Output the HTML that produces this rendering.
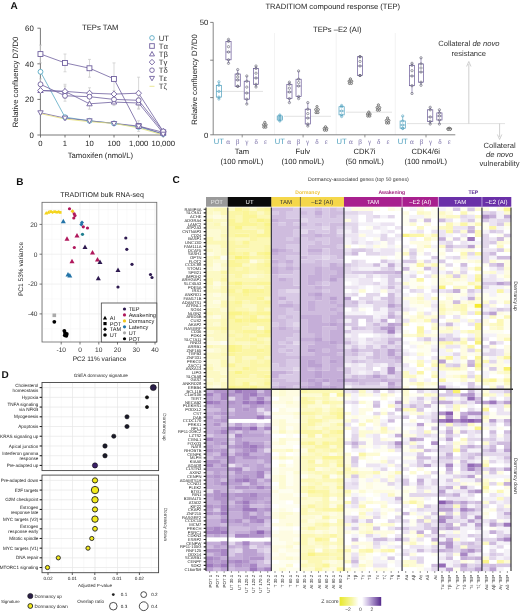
<!DOCTYPE html>
<html><head><meta charset="utf-8"><title>Figure</title>
<style>html,body{margin:0;padding:0;background:#fff;width:520px;height:613px;overflow:hidden}svg{display:block;filter:blur(0.35px)}text{font-family:"Liberation Sans",Arial,sans-serif;text-rendering:geometricPrecision}</style>
</head><body>
<svg width="520" height="613" viewBox="0 0 520 613" font-family='"Liberation Sans", Arial, sans-serif'>
<rect width="520" height="613" fill="#fff"/>
<text x="10.60" y="9.20" font-size="10" text-anchor="start" fill="#111" font-weight="bold">A</text>
<text x="100.25" y="30.40" font-size="7.7" text-anchor="middle" fill="#222">TEPs TAM</text>
<path d="M40.4 28.2V135.0H163.3" stroke="#555" stroke-width="0.8" fill="none"/>
<path d="M37.4 135.0H40.4" stroke="#555" stroke-width="0.8"/>
<text x="33.80" y="137.80" font-size="7.8" text-anchor="end" fill="#222">0</text>
<path d="M37.4 99.4H40.4" stroke="#555" stroke-width="0.8"/>
<text x="33.80" y="102.20" font-size="7.8" text-anchor="end" fill="#222">20</text>
<path d="M37.4 63.8H40.4" stroke="#555" stroke-width="0.8"/>
<text x="33.80" y="66.60" font-size="7.8" text-anchor="end" fill="#222">40</text>
<path d="M37.4 28.2H40.4" stroke="#555" stroke-width="0.8"/>
<text x="33.80" y="31.00" font-size="7.8" text-anchor="end" fill="#222">60</text>
<path d="M40.5 135.0V137.5" stroke="#555" stroke-width="0.8"/>
<text x="40.50" y="146.30" font-size="7.7" text-anchor="middle" fill="#222">0</text>
<path d="M65.0 135.0V137.5" stroke="#555" stroke-width="0.8"/>
<text x="65.00" y="146.30" font-size="7.7" text-anchor="middle" fill="#222">1</text>
<path d="M89.5 135.0V137.5" stroke="#555" stroke-width="0.8"/>
<text x="89.50" y="146.30" font-size="7.7" text-anchor="middle" fill="#222">10</text>
<path d="M114.0 135.0V137.5" stroke="#555" stroke-width="0.8"/>
<text x="114.00" y="146.30" font-size="7.7" text-anchor="middle" fill="#222">100</text>
<path d="M138.6 135.0V137.5" stroke="#555" stroke-width="0.8"/>
<text x="138.60" y="146.30" font-size="7.7" text-anchor="middle" fill="#222">1,000</text>
<path d="M163.2 135.0V137.5" stroke="#555" stroke-width="0.8"/>
<text x="163.20" y="146.30" font-size="7.7" text-anchor="middle" fill="#222">10,000</text>
<text x="100.35" y="157.80" font-size="7.7" text-anchor="middle" fill="#222">Tamoxifen (nmol/L)</text>
<text transform="translate(18.3 82) rotate(-90)" font-size="7.7" text-anchor="middle" fill="#222">Relative confluency D7/D0</text>
<path d="M40.5 45.1V62.9M39.0 45.1H42.0M39.0 62.9H42.0" stroke="#c8c8c8" stroke-width="0.7" fill="none"/>
<path d="M65.0 54.0V71.8M63.5 54.0H66.5M63.5 71.8H66.5" stroke="#c8c8c8" stroke-width="0.7" fill="none"/>
<path d="M89.5 59.4V77.2M88.0 59.4H91.0M88.0 77.2H91.0" stroke="#c8c8c8" stroke-width="0.7" fill="none"/>
<path d="M114.0 62.9V95.0M112.5 62.9H115.5M112.5 95.0H115.5" stroke="#c8c8c8" stroke-width="0.7" fill="none"/>
<path d="M138.6 120.8V131.4M137.1 120.8H140.1M137.1 131.4H140.1" stroke="#c8c8c8" stroke-width="0.7" fill="none"/>
<path d="M65.0 84.3V98.5M63.5 84.3H66.5M63.5 98.5H66.5" stroke="#c8c8c8" stroke-width="0.7" fill="none"/>
<path d="M89.5 98.5V109.2M88.0 98.5H91.0M88.0 109.2H91.0" stroke="#c8c8c8" stroke-width="0.7" fill="none"/>
<path d="M114.0 98.5V105.6M112.5 98.5H115.5M112.5 105.6H115.5" stroke="#c8c8c8" stroke-width="0.7" fill="none"/>
<path d="M138.6 97.6V108.3M137.1 97.6H140.1M137.1 108.3H140.1" stroke="#c8c8c8" stroke-width="0.7" fill="none"/>
<path d="M65.0 86.0V96.7M63.5 86.0H66.5M63.5 96.7H66.5" stroke="#c8c8c8" stroke-width="0.7" fill="none"/>
<path d="M89.5 87.8V98.5M88.0 87.8H91.0M88.0 98.5H91.0" stroke="#c8c8c8" stroke-width="0.7" fill="none"/>
<path d="M114.0 90.5V97.6M112.5 90.5H115.5M112.5 97.6H115.5" stroke="#c8c8c8" stroke-width="0.7" fill="none"/>
<path d="M138.6 77.2V109.2M137.1 77.2H140.1M137.1 109.2H140.1" stroke="#c8c8c8" stroke-width="0.7" fill="none"/>
<path d="M40.5 78.9V89.6M39.0 78.9H42.0M39.0 89.6H42.0" stroke="#c8c8c8" stroke-width="0.7" fill="none"/>
<path d="M65.0 90.5V101.2M63.5 90.5H66.5M63.5 101.2H66.5" stroke="#c8c8c8" stroke-width="0.7" fill="none"/>
<path d="M89.5 91.4V102.1M88.0 91.4H91.0M88.0 102.1H91.0" stroke="#c8c8c8" stroke-width="0.7" fill="none"/>
<path d="M114.0 95.8V103.0M112.5 95.8H115.5M112.5 103.0H115.5" stroke="#c8c8c8" stroke-width="0.7" fill="none"/>
<path d="M138.6 94.9V105.6M137.1 94.9H140.1M137.1 105.6H140.1" stroke="#c8c8c8" stroke-width="0.7" fill="none"/>
<path d="M40.5 111.0V114.5M39.0 111.0H42.0M39.0 114.5H42.0" stroke="#c8c8c8" stroke-width="0.7" fill="none"/>
<path d="M65.0 116.3V119.9M63.5 116.3H66.5M63.5 119.9H66.5" stroke="#c8c8c8" stroke-width="0.7" fill="none"/>
<path d="M89.5 119.0V122.5M88.0 119.0H91.0M88.0 122.5H91.0" stroke="#c8c8c8" stroke-width="0.7" fill="none"/>
<path d="M114.0 121.7V125.2M112.5 121.7H115.5M112.5 125.2H115.5" stroke="#c8c8c8" stroke-width="0.7" fill="none"/>
<path d="M138.6 124.3V127.9M137.1 124.3H140.1M137.1 127.9H140.1" stroke="#c8c8c8" stroke-width="0.7" fill="none"/>
<polyline points="40.5,71.8 65.0,117.2 89.5,120.8 114.0,123.4 138.6,127.0 163.2,134.1" stroke="#5aa9c4" stroke-width="0.8" fill="none"/>
<polyline points="40.5,54.0 65.0,62.9 89.5,68.2 114.0,78.9 138.6,126.1 163.2,132.3" stroke="#6f5f9e" stroke-width="0.8" fill="none"/>
<polyline points="40.5,90.5 65.0,91.4 89.5,103.8 114.0,102.1 138.6,103.0 163.2,133.2" stroke="#6f5f9e" stroke-width="0.8" fill="none"/>
<polyline points="40.5,90.5 65.0,91.4 89.5,93.2 114.0,94.1 138.6,93.2 163.2,131.4" stroke="#6f5f9e" stroke-width="0.8" fill="none"/>
<polyline points="40.5,84.3 65.0,95.8 89.5,96.7 114.0,99.4 138.6,100.3 163.2,131.4" stroke="#6f5f9e" stroke-width="0.8" fill="none"/>
<polyline points="40.5,112.8 65.0,118.1 89.5,120.8 114.0,123.4 138.6,126.1 163.2,134.1" stroke="#6f5f9e" stroke-width="0.8" fill="none"/>
<polyline points="40.5,113.6 65.0,119.0 89.5,121.7 114.0,123.4 138.6,127.9 163.2,135.0" stroke="#e4df7a" stroke-width="0.8" fill="none"/>
<circle cx="40.5" cy="71.8" r="2.45" fill="#fff" stroke="#5aa9c4" stroke-width="0.9"/>
<circle cx="65.0" cy="117.2" r="2.45" fill="#fff" stroke="#5aa9c4" stroke-width="0.9"/>
<circle cx="89.5" cy="120.8" r="2.45" fill="#fff" stroke="#5aa9c4" stroke-width="0.9"/>
<circle cx="114.0" cy="123.4" r="2.45" fill="#fff" stroke="#5aa9c4" stroke-width="0.9"/>
<circle cx="138.6" cy="127.0" r="2.45" fill="#fff" stroke="#5aa9c4" stroke-width="0.9"/>
<circle cx="163.2" cy="134.1" r="2.45" fill="#fff" stroke="#5aa9c4" stroke-width="0.9"/>
<rect x="38.0" y="51.6" width="4.9" height="4.9" fill="#fff" stroke="#6f5f9e" stroke-width="0.9"/>
<rect x="62.5" y="60.5" width="4.9" height="4.9" fill="#fff" stroke="#6f5f9e" stroke-width="0.9"/>
<rect x="87.0" y="65.8" width="4.9" height="4.9" fill="#fff" stroke="#6f5f9e" stroke-width="0.9"/>
<rect x="111.5" y="76.5" width="4.9" height="4.9" fill="#fff" stroke="#6f5f9e" stroke-width="0.9"/>
<rect x="136.2" y="123.6" width="4.9" height="4.9" fill="#fff" stroke="#6f5f9e" stroke-width="0.9"/>
<rect x="160.8" y="129.9" width="4.9" height="4.9" fill="#fff" stroke="#6f5f9e" stroke-width="0.9"/>
<path d="M40.5 87.8L43.2 92.5H37.8Z" fill="#fff" stroke="#6f5f9e" stroke-width="0.9"/>
<path d="M65.0 88.7L67.7 93.3H62.3Z" fill="#fff" stroke="#6f5f9e" stroke-width="0.9"/>
<path d="M89.5 101.2L92.2 105.8H86.8Z" fill="#fff" stroke="#6f5f9e" stroke-width="0.9"/>
<path d="M114.0 99.4L116.7 104.0H111.3Z" fill="#fff" stroke="#6f5f9e" stroke-width="0.9"/>
<path d="M138.6 100.3L141.3 104.9H135.9Z" fill="#fff" stroke="#6f5f9e" stroke-width="0.9"/>
<path d="M163.2 130.5L165.9 135.2H160.5Z" fill="#fff" stroke="#6f5f9e" stroke-width="0.9"/>
<path d="M40.5 87.6L43.4 90.5L40.5 93.4L37.6 90.5Z" fill="#fff" stroke="#6f5f9e" stroke-width="0.9"/>
<path d="M65.0 88.5L67.9 91.4L65.0 94.3L62.1 91.4Z" fill="#fff" stroke="#6f5f9e" stroke-width="0.9"/>
<path d="M89.5 90.2L92.4 93.2L89.5 96.1L86.6 93.2Z" fill="#fff" stroke="#6f5f9e" stroke-width="0.9"/>
<path d="M114.0 91.1L116.9 94.1L114.0 97.0L111.1 94.1Z" fill="#fff" stroke="#6f5f9e" stroke-width="0.9"/>
<path d="M138.6 90.2L141.5 93.2L138.6 96.1L135.7 93.2Z" fill="#fff" stroke="#6f5f9e" stroke-width="0.9"/>
<path d="M163.2 128.5L166.1 131.4L163.2 134.4L160.3 131.4Z" fill="#fff" stroke="#6f5f9e" stroke-width="0.9"/>
<circle cx="40.5" cy="84.3" r="2.45" fill="#fff" stroke="#6f5f9e" stroke-width="0.9"/>
<circle cx="65.0" cy="95.8" r="2.45" fill="#fff" stroke="#6f5f9e" stroke-width="0.9"/>
<circle cx="89.5" cy="96.7" r="2.45" fill="#fff" stroke="#6f5f9e" stroke-width="0.9"/>
<circle cx="114.0" cy="99.4" r="2.45" fill="#fff" stroke="#6f5f9e" stroke-width="0.9"/>
<circle cx="138.6" cy="100.3" r="2.45" fill="#fff" stroke="#6f5f9e" stroke-width="0.9"/>
<circle cx="163.2" cy="131.4" r="2.45" fill="#fff" stroke="#6f5f9e" stroke-width="0.9"/>
<path d="M40.5 115.4L43.2 110.8H37.8Z" fill="#fff" stroke="#6f5f9e" stroke-width="0.9"/>
<path d="M65.0 120.8L67.7 116.1H62.3Z" fill="#fff" stroke="#6f5f9e" stroke-width="0.9"/>
<path d="M89.5 123.5L92.2 118.8H86.8Z" fill="#fff" stroke="#6f5f9e" stroke-width="0.9"/>
<path d="M114.0 126.1L116.7 121.5H111.3Z" fill="#fff" stroke="#6f5f9e" stroke-width="0.9"/>
<path d="M138.6 128.8L141.3 124.1H135.9Z" fill="#fff" stroke="#6f5f9e" stroke-width="0.9"/>
<path d="M163.2 136.8L165.9 132.2H160.5Z" fill="#fff" stroke="#6f5f9e" stroke-width="0.9"/>






<circle cx="152.0" cy="37.9" r="2.3" fill="#fff" stroke="#5aa9c4" stroke-width="0.9"/>
<text x="158.80" y="40.70" font-size="7.7" text-anchor="start" fill="#333">UT</text>
<rect x="149.7" y="43.7" width="4.6" height="4.6" fill="#fff" stroke="#6f5f9e" stroke-width="0.9"/>
<text x="158.80" y="48.77" font-size="7.7" text-anchor="start" fill="#333">Tα</text>
<path d="M152.0 51.5L154.5 55.9H149.5Z" fill="#fff" stroke="#6f5f9e" stroke-width="0.9"/>
<text x="158.80" y="56.84" font-size="7.7" text-anchor="start" fill="#333">Tβ</text>
<path d="M152.0 59.4L154.8 62.1L152.0 64.9L149.2 62.1Z" fill="#fff" stroke="#6f5f9e" stroke-width="0.9"/>
<text x="158.80" y="64.91" font-size="7.7" text-anchor="start" fill="#333">Tγ</text>
<circle cx="152.0" cy="70.2" r="2.3" fill="#fff" stroke="#6f5f9e" stroke-width="0.9"/>
<text x="158.80" y="72.98" font-size="7.7" text-anchor="start" fill="#333">Tδ</text>
<path d="M152.0 80.8L154.5 76.4H149.5Z" fill="#fff" stroke="#6f5f9e" stroke-width="0.9"/>
<text x="158.80" y="81.05" font-size="7.7" text-anchor="start" fill="#333">Tε</text>
<path d="M149.5 86.3H154.5" stroke="#e4df7a" stroke-width="0.8"/>
<text x="158.80" y="89.12" font-size="7.7" text-anchor="start" fill="#333">Tζ</text>
<text x="332.80" y="8.90" font-size="7.6" text-anchor="middle" fill="#222">TRADITIOM compound response (TEP)</text>
<text x="337.30" y="31.90" font-size="7.6" text-anchor="middle" fill="#222">TEPs –E2 (AI)</text>
<path d="M274.5 33V134.8" stroke="#eeeeee" stroke-width="0.7"/>
<path d="M336.2 33V134.8" stroke="#eeeeee" stroke-width="0.7"/>
<path d="M395.3 33V134.8" stroke="#eeeeee" stroke-width="0.7"/>
<path d="M213.2 22.4V134.8H455.3" stroke="#666" stroke-width="0.8" fill="none"/>
<path d="M210.2 22.4H213.2" stroke="#666" stroke-width="0.8"/>
<path d="M210.2 60.2H213.2" stroke="#666" stroke-width="0.8"/>
<path d="M210.2 97.6H213.2" stroke="#666" stroke-width="0.8"/>
<path d="M210.2 134.8H213.2" stroke="#666" stroke-width="0.8"/>
<text x="208.30" y="25.40" font-size="7.7" text-anchor="end" fill="#222">50</text>
<text x="208.30" y="137.80" font-size="7.7" text-anchor="end" fill="#222">0</text>
<text transform="translate(197.2 79.5) rotate(-90)" font-size="7.7" text-anchor="middle" fill="#222">Relative confluency D7/D0</text>
<path d="M222 91.4H263" stroke="#d6d6d6" stroke-width="0.7"/>
<path d="M284 116.3H331" stroke="#d6d6d6" stroke-width="0.7"/>
<path d="M346 112.2H392" stroke="#d6d6d6" stroke-width="0.7"/>
<path d="M407 123.6H505" stroke="#d6d6d6" stroke-width="0.7"/>
<path d="M218.9 81.8V85.3M218.9 97.1V99.0" stroke="#4d9fbd" stroke-width="0.6"/>
<rect x="216.3" y="85.3" width="5.2" height="11.8" fill="#fff" stroke="#4d9fbd" stroke-width="0.7"/>
<path d="M216.3 91.4H221.5" stroke="#4d9fbd" stroke-width="0.6"/>
<circle cx="218.9" cy="81.8" r="1.15" fill="none" stroke="#4d9fbd" stroke-width="0.6"/>
<circle cx="218.9" cy="85.3" r="1.15" fill="none" stroke="#4d9fbd" stroke-width="0.6"/>
<circle cx="218.9" cy="91.4" r="1.15" fill="none" stroke="#4d9fbd" stroke-width="0.6"/>
<circle cx="218.9" cy="97.1" r="1.15" fill="none" stroke="#4d9fbd" stroke-width="0.6"/>
<circle cx="218.9" cy="99.0" r="1.15" fill="none" stroke="#4d9fbd" stroke-width="0.6"/>
<path d="M228.5 39.4V41.4M228.5 59.8V63.3" stroke="#6a5a98" stroke-width="0.6"/>
<rect x="225.9" y="41.4" width="5.2" height="18.4" fill="#fff" stroke="#6a5a98" stroke-width="0.7"/>
<path d="M225.9 52H231.1" stroke="#6a5a98" stroke-width="0.6"/>
<circle cx="228.5" cy="39.4" r="1.15" fill="none" stroke="#5a5a6a" stroke-width="0.6"/>
<circle cx="228.5" cy="41.4" r="1.15" fill="none" stroke="#5a5a6a" stroke-width="0.6"/>
<circle cx="228.5" cy="52.0" r="1.15" fill="none" stroke="#5a5a6a" stroke-width="0.6"/>
<circle cx="228.5" cy="59.8" r="1.15" fill="none" stroke="#5a5a6a" stroke-width="0.6"/>
<circle cx="228.5" cy="63.3" r="1.15" fill="none" stroke="#5a5a6a" stroke-width="0.6"/>
<circle cx="228.5" cy="46.7" r="1.15" fill="none" stroke="#5a5a6a" stroke-width="0.6"/>
<path d="M237.7 69.6V74.0M237.7 86.3V86.3" stroke="#6a5a98" stroke-width="0.6"/>
<rect x="235.1" y="74.0" width="5.2" height="12.3" fill="#fff" stroke="#6a5a98" stroke-width="0.7"/>
<path d="M235.1 80H240.3" stroke="#6a5a98" stroke-width="0.6"/>
<circle cx="237.7" cy="69.6" r="1.15" fill="none" stroke="#5a5a6a" stroke-width="0.6"/>
<circle cx="237.7" cy="74.0" r="1.15" fill="none" stroke="#5a5a6a" stroke-width="0.6"/>
<circle cx="237.7" cy="80.0" r="1.15" fill="none" stroke="#5a5a6a" stroke-width="0.6"/>
<circle cx="237.7" cy="86.3" r="1.15" fill="none" stroke="#5a5a6a" stroke-width="0.6"/>
<circle cx="237.7" cy="86.3" r="1.15" fill="none" stroke="#5a5a6a" stroke-width="0.6"/>
<circle cx="237.7" cy="77.0" r="1.15" fill="none" stroke="#5a5a6a" stroke-width="0.6"/>
<path d="M246.8 76.0V81.2M246.8 99.2V104.0" stroke="#6a5a98" stroke-width="0.6"/>
<rect x="244.2" y="81.2" width="5.2" height="18.0" fill="#fff" stroke="#6a5a98" stroke-width="0.7"/>
<path d="M244.2 93H249.4" stroke="#6a5a98" stroke-width="0.6"/>
<circle cx="246.8" cy="76.0" r="1.15" fill="none" stroke="#5a5a6a" stroke-width="0.6"/>
<circle cx="246.8" cy="81.2" r="1.15" fill="none" stroke="#5a5a6a" stroke-width="0.6"/>
<circle cx="246.8" cy="93.0" r="1.15" fill="none" stroke="#5a5a6a" stroke-width="0.6"/>
<circle cx="246.8" cy="99.2" r="1.15" fill="none" stroke="#5a5a6a" stroke-width="0.6"/>
<circle cx="246.8" cy="104.0" r="1.15" fill="none" stroke="#5a5a6a" stroke-width="0.6"/>
<circle cx="246.8" cy="87.1" r="1.15" fill="none" stroke="#5a5a6a" stroke-width="0.6"/>
<path d="M256.0 66.0V68.4M256.0 84.3V87.0" stroke="#6a5a98" stroke-width="0.6"/>
<rect x="253.4" y="68.4" width="5.2" height="15.9" fill="#fff" stroke="#6a5a98" stroke-width="0.7"/>
<path d="M253.4 78H258.6" stroke="#6a5a98" stroke-width="0.6"/>
<circle cx="256.0" cy="66.0" r="1.15" fill="none" stroke="#5a5a6a" stroke-width="0.6"/>
<circle cx="256.0" cy="68.4" r="1.15" fill="none" stroke="#5a5a6a" stroke-width="0.6"/>
<circle cx="256.0" cy="78.0" r="1.15" fill="none" stroke="#5a5a6a" stroke-width="0.6"/>
<circle cx="256.0" cy="84.3" r="1.15" fill="none" stroke="#5a5a6a" stroke-width="0.6"/>
<circle cx="256.0" cy="87.0" r="1.15" fill="none" stroke="#5a5a6a" stroke-width="0.6"/>
<circle cx="256.0" cy="73.2" r="1.15" fill="none" stroke="#5a5a6a" stroke-width="0.6"/>
<circle cx="264.8" cy="122.4" r="1.15" fill="#ddd" stroke="#444" stroke-width="0.6"/>
<circle cx="263.5" cy="124.8" r="1.15" fill="#ddd" stroke="#444" stroke-width="0.6"/>
<circle cx="266.1" cy="124.8" r="1.15" fill="#ddd" stroke="#444" stroke-width="0.6"/>
<circle cx="263.8" cy="127.2" r="1.15" fill="#ddd" stroke="#444" stroke-width="0.6"/>
<circle cx="265.8" cy="127.2" r="1.15" fill="#ddd" stroke="#444" stroke-width="0.6"/>
<path d="M279.8 115V116M279.8 120V121" stroke="#4d9fbd" stroke-width="0.6"/>
<rect x="277.2" y="116" width="5.2" height="4.0" fill="#fff" stroke="#4d9fbd" stroke-width="0.7"/>
<path d="M277.2 118H282.4" stroke="#4d9fbd" stroke-width="0.6"/>
<circle cx="279.8" cy="115.0" r="1.15" fill="none" stroke="#4d9fbd" stroke-width="0.6"/>
<circle cx="279.8" cy="116.0" r="1.15" fill="none" stroke="#4d9fbd" stroke-width="0.6"/>
<circle cx="279.8" cy="118.0" r="1.15" fill="none" stroke="#4d9fbd" stroke-width="0.6"/>
<circle cx="279.8" cy="120.0" r="1.15" fill="none" stroke="#4d9fbd" stroke-width="0.6"/>
<circle cx="279.8" cy="121.0" r="1.15" fill="none" stroke="#4d9fbd" stroke-width="0.6"/>
<path d="M289.4 82.2V84.3M289.4 98.6V102.6" stroke="#6a5a98" stroke-width="0.6"/>
<rect x="286.8" y="84.3" width="5.2" height="14.3" fill="#fff" stroke="#6a5a98" stroke-width="0.7"/>
<path d="M286.8 92H292.0" stroke="#6a5a98" stroke-width="0.6"/>
<circle cx="289.4" cy="82.2" r="1.15" fill="none" stroke="#5a5a6a" stroke-width="0.6"/>
<circle cx="289.4" cy="84.3" r="1.15" fill="none" stroke="#5a5a6a" stroke-width="0.6"/>
<circle cx="289.4" cy="92.0" r="1.15" fill="none" stroke="#5a5a6a" stroke-width="0.6"/>
<circle cx="289.4" cy="98.6" r="1.15" fill="none" stroke="#5a5a6a" stroke-width="0.6"/>
<circle cx="289.4" cy="102.6" r="1.15" fill="none" stroke="#5a5a6a" stroke-width="0.6"/>
<circle cx="289.4" cy="88.2" r="1.15" fill="none" stroke="#5a5a6a" stroke-width="0.6"/>
<path d="M298.6 71.0V79.2M298.6 96.5V98.6" stroke="#6a5a98" stroke-width="0.6"/>
<rect x="296.0" y="79.2" width="5.2" height="17.3" fill="#fff" stroke="#6a5a98" stroke-width="0.7"/>
<path d="M296.0 86H301.2" stroke="#6a5a98" stroke-width="0.6"/>
<circle cx="298.6" cy="71.0" r="1.15" fill="none" stroke="#5a5a6a" stroke-width="0.6"/>
<circle cx="298.6" cy="79.2" r="1.15" fill="none" stroke="#5a5a6a" stroke-width="0.6"/>
<circle cx="298.6" cy="86.0" r="1.15" fill="none" stroke="#5a5a6a" stroke-width="0.6"/>
<circle cx="298.6" cy="96.5" r="1.15" fill="none" stroke="#5a5a6a" stroke-width="0.6"/>
<circle cx="298.6" cy="98.6" r="1.15" fill="none" stroke="#5a5a6a" stroke-width="0.6"/>
<circle cx="298.6" cy="82.6" r="1.15" fill="none" stroke="#5a5a6a" stroke-width="0.6"/>
<path d="M307.8 102.6V109.2M307.8 124V126" stroke="#6a5a98" stroke-width="0.6"/>
<rect x="305.2" y="109.2" width="5.2" height="14.8" fill="#fff" stroke="#6a5a98" stroke-width="0.7"/>
<path d="M305.2 118H310.4" stroke="#6a5a98" stroke-width="0.6"/>
<circle cx="307.8" cy="102.6" r="1.15" fill="none" stroke="#5a5a6a" stroke-width="0.6"/>
<circle cx="307.8" cy="109.2" r="1.15" fill="none" stroke="#5a5a6a" stroke-width="0.6"/>
<circle cx="307.8" cy="118.0" r="1.15" fill="none" stroke="#5a5a6a" stroke-width="0.6"/>
<circle cx="307.8" cy="124.0" r="1.15" fill="none" stroke="#5a5a6a" stroke-width="0.6"/>
<circle cx="307.8" cy="126.0" r="1.15" fill="none" stroke="#5a5a6a" stroke-width="0.6"/>
<circle cx="307.8" cy="113.6" r="1.15" fill="none" stroke="#5a5a6a" stroke-width="0.6"/>
<circle cx="317.0" cy="106.6" r="1.15" fill="#ddd" stroke="#444" stroke-width="0.6"/>
<circle cx="315.7" cy="109.6" r="1.15" fill="#ddd" stroke="#444" stroke-width="0.6"/>
<circle cx="318.3" cy="109.6" r="1.15" fill="#ddd" stroke="#444" stroke-width="0.6"/>
<circle cx="316.0" cy="112.6" r="1.15" fill="#ddd" stroke="#444" stroke-width="0.6"/>
<circle cx="318.0" cy="112.6" r="1.15" fill="#ddd" stroke="#444" stroke-width="0.6"/>
<circle cx="325.5" cy="126.8" r="1.15" fill="#ddd" stroke="#444" stroke-width="0.6"/>
<circle cx="324.2" cy="128.5" r="1.15" fill="#ddd" stroke="#444" stroke-width="0.6"/>
<circle cx="326.8" cy="128.5" r="1.15" fill="#ddd" stroke="#444" stroke-width="0.6"/>
<circle cx="324.5" cy="130.2" r="1.15" fill="#ddd" stroke="#444" stroke-width="0.6"/>
<circle cx="326.5" cy="130.2" r="1.15" fill="#ddd" stroke="#444" stroke-width="0.6"/>
<path d="M341.6 105.5V106.7M341.6 114.9V116.5" stroke="#4d9fbd" stroke-width="0.6"/>
<rect x="339.0" y="106.7" width="5.2" height="8.2" fill="#fff" stroke="#4d9fbd" stroke-width="0.7"/>
<path d="M339.0 111H344.2" stroke="#4d9fbd" stroke-width="0.6"/>
<circle cx="341.6" cy="105.5" r="1.15" fill="none" stroke="#4d9fbd" stroke-width="0.6"/>
<circle cx="341.6" cy="106.7" r="1.15" fill="none" stroke="#4d9fbd" stroke-width="0.6"/>
<circle cx="341.6" cy="111.0" r="1.15" fill="none" stroke="#4d9fbd" stroke-width="0.6"/>
<circle cx="341.6" cy="114.9" r="1.15" fill="none" stroke="#4d9fbd" stroke-width="0.6"/>
<circle cx="341.6" cy="116.5" r="1.15" fill="none" stroke="#4d9fbd" stroke-width="0.6"/>
<circle cx="350.4" cy="78.9" r="1.15" fill="#ddd" stroke="#444" stroke-width="0.6"/>
<circle cx="349.1" cy="81.2" r="1.15" fill="#ddd" stroke="#444" stroke-width="0.6"/>
<circle cx="351.7" cy="81.2" r="1.15" fill="#ddd" stroke="#444" stroke-width="0.6"/>
<circle cx="349.4" cy="83.4" r="1.15" fill="#ddd" stroke="#444" stroke-width="0.6"/>
<circle cx="351.4" cy="83.4" r="1.15" fill="#ddd" stroke="#444" stroke-width="0.6"/>
<path d="M360.0 56.7V56.7M360.0 75.5V75.5" stroke="#6a5a98" stroke-width="0.6"/>
<rect x="357.4" y="56.7" width="5.2" height="18.8" fill="#fff" stroke="#6a5a98" stroke-width="0.7"/>
<path d="M357.4 66H362.6" stroke="#6a5a98" stroke-width="0.6"/>
<circle cx="360.0" cy="56.7" r="1.15" fill="none" stroke="#5a5a6a" stroke-width="0.6"/>
<circle cx="360.0" cy="56.7" r="1.15" fill="none" stroke="#5a5a6a" stroke-width="0.6"/>
<circle cx="360.0" cy="66.0" r="1.15" fill="none" stroke="#5a5a6a" stroke-width="0.6"/>
<circle cx="360.0" cy="75.5" r="1.15" fill="none" stroke="#5a5a6a" stroke-width="0.6"/>
<circle cx="360.0" cy="75.5" r="1.15" fill="none" stroke="#5a5a6a" stroke-width="0.6"/>
<circle cx="360.0" cy="61.4" r="1.15" fill="none" stroke="#5a5a6a" stroke-width="0.6"/>
<circle cx="368.8" cy="112.1" r="1.15" fill="#ddd" stroke="#444" stroke-width="0.6"/>
<circle cx="367.5" cy="114.1" r="1.15" fill="#ddd" stroke="#444" stroke-width="0.6"/>
<circle cx="370.1" cy="114.1" r="1.15" fill="#ddd" stroke="#444" stroke-width="0.6"/>
<circle cx="367.8" cy="116.1" r="1.15" fill="#ddd" stroke="#444" stroke-width="0.6"/>
<circle cx="369.8" cy="116.1" r="1.15" fill="#ddd" stroke="#444" stroke-width="0.6"/>
<circle cx="378.4" cy="104.9" r="1.15" fill="#ddd" stroke="#444" stroke-width="0.6"/>
<circle cx="377.1" cy="107.6" r="1.15" fill="#ddd" stroke="#444" stroke-width="0.6"/>
<circle cx="379.7" cy="107.6" r="1.15" fill="#ddd" stroke="#444" stroke-width="0.6"/>
<circle cx="377.4" cy="110.2" r="1.15" fill="#ddd" stroke="#444" stroke-width="0.6"/>
<circle cx="379.4" cy="110.2" r="1.15" fill="#ddd" stroke="#444" stroke-width="0.6"/>
<circle cx="387.6" cy="118.0" r="1.15" fill="#ddd" stroke="#444" stroke-width="0.6"/>
<circle cx="386.3" cy="120.5" r="1.15" fill="#ddd" stroke="#444" stroke-width="0.6"/>
<circle cx="388.9" cy="120.5" r="1.15" fill="#ddd" stroke="#444" stroke-width="0.6"/>
<circle cx="386.6" cy="123.0" r="1.15" fill="#ddd" stroke="#444" stroke-width="0.6"/>
<circle cx="388.6" cy="123.0" r="1.15" fill="#ddd" stroke="#444" stroke-width="0.6"/>
<path d="M402.7 116V121M402.7 128.2V128.5" stroke="#4d9fbd" stroke-width="0.6"/>
<rect x="400.1" y="121" width="5.2" height="7.2" fill="#fff" stroke="#4d9fbd" stroke-width="0.7"/>
<path d="M400.1 125H405.3" stroke="#4d9fbd" stroke-width="0.6"/>
<circle cx="402.7" cy="116.0" r="1.15" fill="none" stroke="#4d9fbd" stroke-width="0.6"/>
<circle cx="402.7" cy="121.0" r="1.15" fill="none" stroke="#4d9fbd" stroke-width="0.6"/>
<circle cx="402.7" cy="125.0" r="1.15" fill="none" stroke="#4d9fbd" stroke-width="0.6"/>
<circle cx="402.7" cy="128.2" r="1.15" fill="none" stroke="#4d9fbd" stroke-width="0.6"/>
<circle cx="402.7" cy="128.5" r="1.15" fill="none" stroke="#4d9fbd" stroke-width="0.6"/>
<path d="M412.0 63.3V65.3M412.0 85.7V93.5" stroke="#6a5a98" stroke-width="0.6"/>
<rect x="409.4" y="65.3" width="5.2" height="20.4" fill="#fff" stroke="#6a5a98" stroke-width="0.7"/>
<path d="M409.4 76H414.6" stroke="#6a5a98" stroke-width="0.6"/>
<circle cx="412.0" cy="63.3" r="1.15" fill="none" stroke="#5a5a6a" stroke-width="0.6"/>
<circle cx="412.0" cy="65.3" r="1.15" fill="none" stroke="#5a5a6a" stroke-width="0.6"/>
<circle cx="412.0" cy="76.0" r="1.15" fill="none" stroke="#5a5a6a" stroke-width="0.6"/>
<circle cx="412.0" cy="85.7" r="1.15" fill="none" stroke="#5a5a6a" stroke-width="0.6"/>
<circle cx="412.0" cy="93.5" r="1.15" fill="none" stroke="#5a5a6a" stroke-width="0.6"/>
<circle cx="412.0" cy="70.7" r="1.15" fill="none" stroke="#5a5a6a" stroke-width="0.6"/>
<path d="M421.0 57.8V63.9M421.0 82.2V85.3" stroke="#6a5a98" stroke-width="0.6"/>
<rect x="418.4" y="63.9" width="5.2" height="18.3" fill="#fff" stroke="#6a5a98" stroke-width="0.7"/>
<path d="M418.4 72H423.6" stroke="#6a5a98" stroke-width="0.6"/>
<circle cx="421.0" cy="57.8" r="1.15" fill="none" stroke="#5a5a6a" stroke-width="0.6"/>
<circle cx="421.0" cy="63.9" r="1.15" fill="none" stroke="#5a5a6a" stroke-width="0.6"/>
<circle cx="421.0" cy="72.0" r="1.15" fill="none" stroke="#5a5a6a" stroke-width="0.6"/>
<circle cx="421.0" cy="82.2" r="1.15" fill="none" stroke="#5a5a6a" stroke-width="0.6"/>
<circle cx="421.0" cy="85.3" r="1.15" fill="none" stroke="#5a5a6a" stroke-width="0.6"/>
<circle cx="421.0" cy="68.0" r="1.15" fill="none" stroke="#5a5a6a" stroke-width="0.6"/>
<path d="M430.2 107.3V109.8M430.2 121.4V124" stroke="#6a5a98" stroke-width="0.6"/>
<rect x="427.6" y="109.8" width="5.2" height="11.6" fill="#fff" stroke="#6a5a98" stroke-width="0.7"/>
<path d="M427.6 117H432.8" stroke="#6a5a98" stroke-width="0.6"/>
<circle cx="430.2" cy="107.3" r="1.15" fill="none" stroke="#5a5a6a" stroke-width="0.6"/>
<circle cx="430.2" cy="109.8" r="1.15" fill="none" stroke="#5a5a6a" stroke-width="0.6"/>
<circle cx="430.2" cy="117.0" r="1.15" fill="none" stroke="#5a5a6a" stroke-width="0.6"/>
<circle cx="430.2" cy="121.4" r="1.15" fill="none" stroke="#5a5a6a" stroke-width="0.6"/>
<circle cx="430.2" cy="124.0" r="1.15" fill="none" stroke="#5a5a6a" stroke-width="0.6"/>
<path d="M439.4 109.8V112.9M439.4 120V124" stroke="#6a5a98" stroke-width="0.6"/>
<rect x="436.8" y="112.9" width="5.2" height="7.1" fill="#fff" stroke="#6a5a98" stroke-width="0.7"/>
<path d="M436.8 116H442.0" stroke="#6a5a98" stroke-width="0.6"/>
<circle cx="439.4" cy="109.8" r="1.15" fill="none" stroke="#5a5a6a" stroke-width="0.6"/>
<circle cx="439.4" cy="112.9" r="1.15" fill="none" stroke="#5a5a6a" stroke-width="0.6"/>
<circle cx="439.4" cy="116.0" r="1.15" fill="none" stroke="#5a5a6a" stroke-width="0.6"/>
<circle cx="439.4" cy="120.0" r="1.15" fill="none" stroke="#5a5a6a" stroke-width="0.6"/>
<circle cx="439.4" cy="124.0" r="1.15" fill="none" stroke="#5a5a6a" stroke-width="0.6"/>
<circle cx="449.2" cy="128.2" r="1.15" fill="#ddd" stroke="#444" stroke-width="0.6"/>
<circle cx="447.9" cy="128.8" r="1.15" fill="#ddd" stroke="#444" stroke-width="0.6"/>
<circle cx="450.5" cy="128.8" r="1.15" fill="#ddd" stroke="#444" stroke-width="0.6"/>
<circle cx="448.2" cy="129.4" r="1.15" fill="#ddd" stroke="#444" stroke-width="0.6"/>
<circle cx="450.2" cy="129.4" r="1.15" fill="#ddd" stroke="#444" stroke-width="0.6"/>
<path d="M242.2 134.8V137.4" stroke="#666" stroke-width="0.7"/>
<path d="M303.1 134.8V137.4" stroke="#666" stroke-width="0.7"/>
<path d="M364.9 134.8V137.4" stroke="#666" stroke-width="0.7"/>
<path d="M426.0 134.8V137.4" stroke="#666" stroke-width="0.7"/>
<text x="218.90" y="144.30" font-size="7.6" text-anchor="middle" fill="#4d9fbd">UT</text>
<text x="228.20" y="144.3" font-size="7.2" text-anchor="middle" fill="#7a70a8" style="font-family:Liberation Serif,serif">α</text>
<text x="237.50" y="144.3" font-size="7.2" text-anchor="middle" fill="#7a70a8" style="font-family:Liberation Serif,serif">β</text>
<text x="246.80" y="144.3" font-size="7.2" text-anchor="middle" fill="#7a70a8" style="font-family:Liberation Serif,serif">γ</text>
<text x="256.10" y="144.3" font-size="7.2" text-anchor="middle" fill="#7a70a8" style="font-family:Liberation Serif,serif">δ</text>
<text x="265.40" y="144.3" font-size="7.2" text-anchor="middle" fill="#7a70a8" style="font-family:Liberation Serif,serif">ε</text>
<text x="241.90" y="154.00" font-size="7.6" text-anchor="middle" fill="#222">Tam</text>
<text x="241.90" y="164.00" font-size="7.6" text-anchor="middle" fill="#222">(100 nmol/L)</text>
<text x="279.80" y="144.30" font-size="7.6" text-anchor="middle" fill="#4d9fbd">UT</text>
<text x="289.10" y="144.3" font-size="7.2" text-anchor="middle" fill="#7a70a8" style="font-family:Liberation Serif,serif">α</text>
<text x="298.40" y="144.3" font-size="7.2" text-anchor="middle" fill="#7a70a8" style="font-family:Liberation Serif,serif">β</text>
<text x="307.70" y="144.3" font-size="7.2" text-anchor="middle" fill="#7a70a8" style="font-family:Liberation Serif,serif">γ</text>
<text x="317.00" y="144.3" font-size="7.2" text-anchor="middle" fill="#7a70a8" style="font-family:Liberation Serif,serif">δ</text>
<text x="326.30" y="144.3" font-size="7.2" text-anchor="middle" fill="#7a70a8" style="font-family:Liberation Serif,serif">ε</text>
<text x="302.80" y="154.00" font-size="7.6" text-anchor="middle" fill="#222">Fulv</text>
<text x="302.80" y="164.00" font-size="7.6" text-anchor="middle" fill="#222">(100 nmol/L)</text>
<text x="341.60" y="144.30" font-size="7.6" text-anchor="middle" fill="#4d9fbd">UT</text>
<text x="350.90" y="144.3" font-size="7.2" text-anchor="middle" fill="#7a70a8" style="font-family:Liberation Serif,serif">α</text>
<text x="360.20" y="144.3" font-size="7.2" text-anchor="middle" fill="#7a70a8" style="font-family:Liberation Serif,serif">β</text>
<text x="369.50" y="144.3" font-size="7.2" text-anchor="middle" fill="#7a70a8" style="font-family:Liberation Serif,serif">γ</text>
<text x="378.80" y="144.3" font-size="7.2" text-anchor="middle" fill="#7a70a8" style="font-family:Liberation Serif,serif">δ</text>
<text x="388.10" y="144.3" font-size="7.2" text-anchor="middle" fill="#7a70a8" style="font-family:Liberation Serif,serif">ε</text>
<text x="364.60" y="154.00" font-size="7.6" text-anchor="middle" fill="#222">CDK7i</text>
<text x="364.60" y="164.00" font-size="7.6" text-anchor="middle" fill="#222">(50 nmol/L)</text>
<text x="402.70" y="144.30" font-size="7.6" text-anchor="middle" fill="#4d9fbd">UT</text>
<text x="412.00" y="144.3" font-size="7.2" text-anchor="middle" fill="#7a70a8" style="font-family:Liberation Serif,serif">α</text>
<text x="421.30" y="144.3" font-size="7.2" text-anchor="middle" fill="#7a70a8" style="font-family:Liberation Serif,serif">β</text>
<text x="430.60" y="144.3" font-size="7.2" text-anchor="middle" fill="#7a70a8" style="font-family:Liberation Serif,serif">γ</text>
<text x="439.90" y="144.3" font-size="7.2" text-anchor="middle" fill="#7a70a8" style="font-family:Liberation Serif,serif">δ</text>
<text x="449.20" y="144.3" font-size="7.2" text-anchor="middle" fill="#7a70a8" style="font-family:Liberation Serif,serif">ε</text>
<text x="425.70" y="154.00" font-size="7.6" text-anchor="middle" fill="#222">CDK4/6i</text>
<text x="425.70" y="164.00" font-size="7.6" text-anchor="middle" fill="#222">(100 nmol/L)</text>
<path d="M468.8 123.6V64" stroke="#c4c4c4" stroke-width="0.8"/><path d="M466.6 66.5L468.8 61.5L471 66.5" fill="none" stroke="#c4c4c4" stroke-width="0.8"/>
<path d="M499.6 123.6V137" stroke="#c4c4c4" stroke-width="0.8"/><path d="M497.4 134.5L499.6 139.5L501.8 134.5" fill="none" stroke="#c4c4c4" stroke-width="0.8"/>
<text x="468.8" y="46.3" font-size="7.6" text-anchor="middle" fill="#333">Collateral <tspan font-style="italic">de novo</tspan></text>
<text x="468.80" y="55.60" font-size="7.6" text-anchor="middle" fill="#333">resistance</text>
<text x="499.60" y="147.50" font-size="7.6" text-anchor="middle" fill="#333">Collateral</text>
<text x="499.60" y="157.00" font-size="7.6" text-anchor="middle" fill="#333" font-style="italic">de novo</text>
<text x="499.60" y="166.30" font-size="7.6" text-anchor="middle" fill="#333">vulnerability</text>
<text x="16.30" y="184.80" font-size="10" text-anchor="start" fill="#111" font-weight="bold">B</text>
<text x="102.05" y="197.40" font-size="7.0" text-anchor="middle" fill="#222">TRADITIOM bulk RNA-seq</text>
<path d="M42.5 202.3V342.0" stroke="#ebebeb" stroke-width="0.7"/>
<path d="M51.9 202.3V342.0" stroke="#f4f4f4" stroke-width="0.5"/>
<path d="M61.2 202.3V342.0" stroke="#ebebeb" stroke-width="0.7"/>
<path d="M70.6 202.3V342.0" stroke="#f4f4f4" stroke-width="0.5"/>
<path d="M80.0 202.3V342.0" stroke="#ebebeb" stroke-width="0.7"/>
<path d="M89.4 202.3V342.0" stroke="#f4f4f4" stroke-width="0.5"/>
<path d="M98.8 202.3V342.0" stroke="#ebebeb" stroke-width="0.7"/>
<path d="M108.1 202.3V342.0" stroke="#f4f4f4" stroke-width="0.5"/>
<path d="M117.5 202.3V342.0" stroke="#ebebeb" stroke-width="0.7"/>
<path d="M126.9 202.3V342.0" stroke="#f4f4f4" stroke-width="0.5"/>
<path d="M136.2 202.3V342.0" stroke="#ebebeb" stroke-width="0.7"/>
<path d="M145.6 202.3V342.0" stroke="#f4f4f4" stroke-width="0.5"/>
<path d="M155.0 202.3V342.0" stroke="#ebebeb" stroke-width="0.7"/>
<path d="M42.0 328.8H156.8" stroke="#f4f4f4" stroke-width="0.5"/>
<path d="M42.0 313.9H156.8" stroke="#ebebeb" stroke-width="0.7"/>
<path d="M42.0 298.9H156.8" stroke="#f4f4f4" stroke-width="0.5"/>
<path d="M42.0 284.1H156.8" stroke="#ebebeb" stroke-width="0.7"/>
<path d="M42.0 269.1H156.8" stroke="#f4f4f4" stroke-width="0.5"/>
<path d="M42.0 254.2H156.8" stroke="#ebebeb" stroke-width="0.7"/>
<path d="M42.0 239.3H156.8" stroke="#f4f4f4" stroke-width="0.5"/>
<path d="M42.0 224.4H156.8" stroke="#ebebeb" stroke-width="0.7"/>
<path d="M42.0 209.6H156.8" stroke="#f4f4f4" stroke-width="0.5"/>
<rect x="42.0" y="202.3" width="114.80000000000001" height="139.7" fill="none" stroke="#666" stroke-width="0.8"/>
<path d="M39.5 224.4H42.0" stroke="#444" stroke-width="0.7"/>
<text x="37.50" y="226.75" font-size="6.6" text-anchor="end" fill="#333">20</text>
<path d="M39.5 254.2H42.0" stroke="#444" stroke-width="0.7"/>
<text x="37.50" y="256.55" font-size="6.6" text-anchor="end" fill="#333">0</text>
<path d="M39.5 284.1H42.0" stroke="#444" stroke-width="0.7"/>
<text x="37.50" y="286.35" font-size="6.6" text-anchor="end" fill="#333">-20</text>
<path d="M39.5 313.9H42.0" stroke="#444" stroke-width="0.7"/>
<text x="37.50" y="316.15" font-size="6.6" text-anchor="end" fill="#333">-40</text>
<path d="M61.2 342.0V344.5" stroke="#444" stroke-width="0.7"/>
<text x="61.25" y="352.40" font-size="6.6" text-anchor="middle" fill="#333">-10</text>
<path d="M80.0 342.0V344.5" stroke="#444" stroke-width="0.7"/>
<text x="80.00" y="352.40" font-size="6.6" text-anchor="middle" fill="#333">0</text>
<path d="M98.8 342.0V344.5" stroke="#444" stroke-width="0.7"/>
<text x="98.75" y="352.40" font-size="6.6" text-anchor="middle" fill="#333">10</text>
<path d="M117.5 342.0V344.5" stroke="#444" stroke-width="0.7"/>
<text x="117.50" y="352.40" font-size="6.6" text-anchor="middle" fill="#333">20</text>
<path d="M136.2 342.0V344.5" stroke="#444" stroke-width="0.7"/>
<text x="136.25" y="352.40" font-size="6.6" text-anchor="middle" fill="#333">30</text>
<path d="M155.0 342.0V344.5" stroke="#444" stroke-width="0.7"/>
<text x="155.00" y="352.40" font-size="6.6" text-anchor="middle" fill="#333">40</text>
<text x="99.50" y="361.20" font-size="6.55" text-anchor="middle" fill="#222">PC2 11% variance</text>
<text transform="translate(22.7 268.9) rotate(-90)" font-size="6.55" text-anchor="middle" fill="#222">PC1 53% variance</text>
<path d="M46.2 210.9L48.2 214.4H44.2Z" fill="#f4d41a"/>
<path d="M48.4 210.3L50.4 213.8H46.4Z" fill="#f4d41a"/>
<rect x="49.25" y="210.25" width="2.7" height="2.7" fill="#f4d41a"/>
<path d="M52.6 210.70000000000002L54.300000000000004 212.4L52.6 214.1L50.9 212.4Z" fill="#f4d41a"/>
<rect x="53.25" y="210.35" width="2.7" height="2.7" fill="#f4d41a"/>
<rect x="55.449999999999996" y="210.85" width="2.7" height="2.7" fill="#f4d41a"/>
<path d="M58.8 210.10000000000002L60.5 211.8L58.8 213.5L57.099999999999994 211.8Z" fill="#f4d41a"/>
<rect x="58.85" y="211.05" width="2.7" height="2.7" fill="#f4d41a"/>
<circle cx="69.5" cy="208.75" r="1.6" fill="#b0185c"/>
<path d="M72.5 209.2L74.5 211.2L72.5 213.2L70.5 211.2Z" fill="#f2c81c"/>
<circle cx="74.2" cy="213.8" r="1.6" fill="#b0185c"/>
<circle cx="75" cy="215.6" r="1.6" fill="#b0185c"/>
<circle cx="73.8" cy="218" r="1.6" fill="#b0185c"/>
<path d="M63.3 218.7L65.8 223.2H60.8Z" fill="#2474a8"/>
<path d="M82 220.4L84.0 222.4L82 224.4L80.0 222.4Z" fill="#2474a8"/>
<path d="M81.3 222.5L83.3 224.5L81.3 226.5L79.3 224.5Z" fill="#2474a8"/>
<circle cx="83.3" cy="226.8" r="1.6" fill="#b0185c"/>
<circle cx="87.5" cy="228" r="1.6" fill="#b0185c"/>
<circle cx="82.5" cy="234.3" r="1.6" fill="#1f7f8f"/>
<path d="M77 233.0L79.5 237.5H74.5Z" fill="#b0185c"/>
<path d="M67 236.3L69.5 240.8H64.5Z" fill="#b0185c"/>
<circle cx="125.8" cy="238" r="1.6" fill="#2e1a50"/>
<circle cx="126.8" cy="249.3" r="1.6" fill="#2e1a50"/>
<circle cx="74.3" cy="247.5" r="1.6" fill="#b0185c"/>
<path d="M85 244.5L87.5 249.0H82.5Z" fill="#2e1a50"/>
<path d="M92.5 250.0L95.0 254.5H90.0Z" fill="#b0185c"/>
<path d="M72 258.8L74.5 263.3H69.5Z" fill="#b0185c"/>
<path d="M97.5 257.0L100.0 261.5H95.0Z" fill="#b0185c"/>
<path d="M100 259.5L102.5 264.0H97.5Z" fill="#2e1a50"/>
<circle cx="132" cy="264.3" r="1.6" fill="#2e1a50"/>
<path d="M118 267.5L120.5 272.0H115.5Z" fill="#2e1a50"/>
<path d="M68 272.0L70.5 276.5H65.5Z" fill="#2474a8"/>
<path d="M69.8 273.0L72.3 277.5H67.3Z" fill="#2474a8"/>
<path d="M98.3 275.8L100.8 280.3H95.8Z" fill="#2e1a50"/>
<circle cx="150.5" cy="274.5" r="1.6" fill="#2e1a50"/>
<circle cx="152" cy="277.5" r="1.6" fill="#2e1a50"/>
<circle cx="118" cy="287" r="1.6" fill="#2e1a50"/>
<rect x="52.5" y="313.5" width="3.6" height="3.6" fill="#aaaaaa"/>
<circle cx="54.3" cy="321.8" r="1.9" fill="#000"/>
<circle cx="64.3" cy="330.8" r="1.9" fill="#000"/>
<circle cx="65" cy="333" r="1.9" fill="#000"/>
<circle cx="66.3" cy="335.8" r="1.9" fill="#000"/>
<circle cx="64.8" cy="335.3" r="1.9" fill="#000"/>
<circle cx="66.8" cy="334" r="1.9" fill="#000"/>
<rect x="101.3" y="303" width="55.5" height="39.0" fill="#fff" stroke="#444" stroke-width="0.8"/>
<path d="M105 315.8L107.1 319.5H102.9Z" fill="#000"/>
<text x="109.70" y="319.90" font-size="5.6" text-anchor="start" fill="#222">AI</text>
<rect x="103.4" y="321.99999999999994" width="3.2" height="3.2" fill="#000"/>
<text x="109.70" y="325.60" font-size="5.6" text-anchor="start" fill="#222">POT</text>
<path d="M105 327.29999999999995L107.0 329.29999999999995L105 331.29999999999995L103.0 329.29999999999995Z" fill="#000"/>
<text x="109.70" y="331.30" font-size="5.6" text-anchor="start" fill="#222">TAM</text>
<circle cx="105" cy="335.0" r="1.8" fill="#000"/>
<text x="109.70" y="337.00" font-size="5.6" text-anchor="start" fill="#222">UT</text>
<circle cx="124.5" cy="309.0" r="1.6" fill="#2e1a50"/>
<text x="128.70" y="311.00" font-size="5.6" text-anchor="start" fill="#222">TEP</text>
<circle cx="124.5" cy="314.95" r="1.6" fill="#b0185c"/>
<text x="128.70" y="316.95" font-size="5.6" text-anchor="start" fill="#222">Awakening</text>
<circle cx="124.5" cy="320.9" r="1.6" fill="#f2c81c"/>
<text x="128.70" y="322.90" font-size="5.6" text-anchor="start" fill="#222">Dormancy</text>
<circle cx="124.5" cy="326.85" r="1.6" fill="#2474a8"/>
<text x="128.70" y="328.85" font-size="5.6" text-anchor="start" fill="#222">Latency</text>
<circle cx="124.5" cy="332.8" r="1.6" fill="#aaaaaa"/>
<text x="128.70" y="334.80" font-size="5.6" text-anchor="start" fill="#222">UT</text>
<circle cx="124.5" cy="338.75" r="1.6" fill="#000"/>
<text x="128.70" y="340.75" font-size="5.6" text-anchor="start" fill="#222">POT</text>
<text x="172.50" y="183.00" font-size="10" text-anchor="start" fill="#111" font-weight="bold">C</text>
<text x="358.40" y="180.80" font-size="5.2" text-anchor="middle" fill="#333">Dormancy-associated genes (top 50 genes)</text>
<text x="307.70" y="193.60" font-size="5.05" text-anchor="middle" fill="#efc43c" font-weight="bold">Dormancy</text>
<text x="391.80" y="193.60" font-size="5.1" text-anchor="middle" fill="#a0207e" font-weight="bold">Awakening</text>
<text x="473.30" y="193.60" font-size="5.0" text-anchor="middle" fill="#5a2a90" font-weight="bold">TEP</text>
<rect x="206.00" y="197.0" width="22.09" height="9.7" fill="#9a9a9a"/>
<text x="216.89" y="204.00" font-size="6.0" text-anchor="middle" fill="#e8e8e8">POT</text>
<rect x="227.79" y="197.0" width="43.87" height="9.7" fill="#0a0a0a"/>
<text x="249.57" y="204.00" font-size="6.0" text-anchor="middle" fill="#fff">UT</text>
<rect x="271.36" y="197.0" width="29.35" height="9.7" fill="#f5d74a"/>
<text x="285.88" y="204.00" font-size="6.0" text-anchor="middle" fill="#333">TAM</text>
<rect x="300.40" y="197.0" width="43.87" height="9.7" fill="#f5d74a"/>
<text x="322.19" y="204.00" font-size="6.0" text-anchor="middle" fill="#333">–E2 (AI)</text>
<rect x="343.98" y="197.0" width="58.40" height="9.7" fill="#a8208e"/>
<text x="373.02" y="204.00" font-size="6.0" text-anchor="middle" fill="#fff">TAM</text>
<rect x="402.07" y="197.0" width="36.61" height="9.7" fill="#a8208e"/>
<text x="420.23" y="204.00" font-size="6.0" text-anchor="middle" fill="#fff">–E2 (AI)</text>
<rect x="438.38" y="197.0" width="43.87" height="9.7" fill="#6a30a8"/>
<text x="460.17" y="204.00" font-size="6.0" text-anchor="middle" fill="#fff">TAM</text>
<rect x="481.95" y="197.0" width="29.35" height="9.7" fill="#6a30a8"/>
<text x="496.48" y="204.00" font-size="6.0" text-anchor="middle" fill="#fff">–E2 (AI)</text>
<path fill="#fcf9c4" d="M206.0 207.4h7.41v3.86h-7.41zM206.0 211.1h7.41v3.86h-7.41zM206.0 222.2h7.41v3.86h-7.41zM206.0 226.0h7.41v3.86h-7.41zM206.0 248.2h7.41v3.86h-7.41zM206.0 255.7h7.41v3.86h-7.41zM206.0 259.4h7.41v3.86h-7.41zM206.0 263.1h7.41v3.86h-7.41zM206.0 270.5h7.41v3.86h-7.41zM206.0 274.2h7.41v3.86h-7.41zM206.0 285.4h7.41v3.86h-7.41zM206.0 289.1h7.41v3.86h-7.41zM206.0 307.6h7.41v3.86h-7.41zM206.0 318.8h7.41v3.86h-7.41zM206.0 322.5h7.41v3.86h-7.41zM206.0 333.6h7.41v3.86h-7.41zM206.0 352.2h7.41v3.86h-7.41zM206.0 355.9h7.41v3.86h-7.41zM206.0 363.3h7.41v3.86h-7.41zM206.0 370.7h7.41v3.86h-7.41zM206.0 374.5h7.41v3.86h-7.41zM206.0 381.9h7.41v3.86h-7.41zM213.3 218.5h7.41v3.86h-7.41zM213.3 226.0h7.41v3.86h-7.41zM213.3 270.5h7.41v3.86h-7.41zM213.3 274.2h7.41v3.86h-7.41zM213.3 277.9h7.41v3.86h-7.41zM213.3 289.1h7.41v3.86h-7.41zM213.3 307.6h7.41v3.86h-7.41zM213.3 311.3h7.41v3.86h-7.41zM213.3 318.8h7.41v3.86h-7.41zM213.3 329.9h7.41v3.86h-7.41zM213.3 333.6h7.41v3.86h-7.41zM213.3 337.3h7.41v3.86h-7.41zM213.3 344.8h7.41v3.86h-7.41zM213.3 352.2h7.41v3.86h-7.41zM213.3 355.9h7.41v3.86h-7.41zM213.3 370.7h7.41v3.86h-7.41zM213.3 374.5h7.41v3.86h-7.41zM213.3 378.2h7.41v3.86h-7.41zM220.5 218.5h7.41v3.86h-7.41zM220.5 226.0h7.41v3.86h-7.41zM220.5 229.7h7.41v3.86h-7.41zM220.5 237.1h7.41v3.86h-7.41zM220.5 248.2h7.41v3.86h-7.41zM220.5 251.9h7.41v3.86h-7.41zM220.5 263.1h7.41v3.86h-7.41zM220.5 281.6h7.41v3.86h-7.41zM220.5 311.3h7.41v3.86h-7.41zM220.5 315.1h7.41v3.86h-7.41zM220.5 333.6h7.41v3.86h-7.41zM220.5 337.3h7.41v3.86h-7.41zM220.5 344.8h7.41v3.86h-7.41zM220.5 348.5h7.41v3.86h-7.41zM220.5 355.9h7.41v3.86h-7.41zM220.5 374.5h7.41v3.86h-7.41zM220.5 381.9h7.41v3.86h-7.41zM220.5 385.6h7.41v3.86h-7.41zM227.8 207.4h7.41v3.86h-7.41zM227.8 355.9h7.41v3.86h-7.41zM227.8 359.6h7.41v3.86h-7.41zM235.0 237.1h7.41v3.86h-7.41zM235.0 341.0h7.41v3.86h-7.41zM242.3 237.1h7.41v3.86h-7.41zM242.3 263.1h7.41v3.86h-7.41zM242.3 274.2h7.41v3.86h-7.41zM242.3 303.9h7.41v3.86h-7.41zM242.3 341.0h7.41v3.86h-7.41zM242.3 355.9h7.41v3.86h-7.41zM249.6 207.4h7.41v3.86h-7.41zM249.6 251.9h7.41v3.86h-7.41zM249.6 303.9h7.41v3.86h-7.41zM249.6 307.6h7.41v3.86h-7.41zM249.6 355.9h7.41v3.86h-7.41zM249.6 381.9h7.41v3.86h-7.41zM256.8 211.1h7.41v3.86h-7.41zM256.8 229.7h7.41v3.86h-7.41zM256.8 259.4h7.41v3.86h-7.41zM256.8 274.2h7.41v3.86h-7.41zM256.8 285.4h7.41v3.86h-7.41zM256.8 315.1h7.41v3.86h-7.41zM264.1 296.5h7.41v3.86h-7.41zM264.1 307.6h7.41v3.86h-7.41zM264.1 337.3h7.41v3.86h-7.41zM264.1 355.9h7.41v3.86h-7.41zM402.1 251.9h7.41v3.86h-7.41zM402.1 370.7h7.41v3.86h-7.41zM402.1 374.5h7.41v3.86h-7.41zM409.3 374.5h7.41v3.86h-7.41zM416.6 211.1h7.41v3.86h-7.41zM416.6 226.0h7.41v3.86h-7.41zM416.6 296.5h7.41v3.86h-7.41zM416.6 315.1h7.41v3.86h-7.41zM416.6 359.6h7.41v3.86h-7.41zM423.9 237.1h7.41v3.86h-7.41zM423.9 244.5h7.41v3.86h-7.41zM431.1 296.5h7.41v3.86h-7.41zM431.1 326.2h7.41v3.86h-7.41zM438.4 211.1h7.41v3.86h-7.41zM438.4 226.0h7.41v3.86h-7.41zM438.4 244.5h7.41v3.86h-7.41zM438.4 303.9h7.41v3.86h-7.41zM438.4 311.3h7.41v3.86h-7.41zM438.4 367.0h7.41v3.86h-7.41zM445.6 214.8h7.41v3.86h-7.41zM445.6 274.2h7.41v3.86h-7.41zM445.6 326.2h7.41v3.86h-7.41zM445.6 367.0h7.41v3.86h-7.41zM452.9 214.8h7.41v3.86h-7.41zM452.9 285.4h7.41v3.86h-7.41zM452.9 303.9h7.41v3.86h-7.41zM452.9 307.6h7.41v3.86h-7.41zM460.2 285.4h7.41v3.86h-7.41zM460.2 311.3h7.41v3.86h-7.41zM460.2 355.9h7.41v3.86h-7.41zM474.7 214.8h7.41v3.86h-7.41zM474.7 296.5h7.41v3.86h-7.41zM474.7 329.9h7.41v3.86h-7.41zM474.7 333.6h7.41v3.86h-7.41zM489.2 315.1h7.41v3.86h-7.41zM489.2 322.5h7.41v3.86h-7.41zM496.5 244.5h7.41v3.86h-7.41zM496.5 326.2h7.41v3.86h-7.41zM503.7 300.2h7.41v3.86h-7.41zM503.7 370.7h7.41v3.86h-7.41zM503.7 381.9h7.41v3.86h-7.41zM278.6 430.1h7.41v3.86h-7.41zM278.6 456.0h7.41v3.86h-7.41zM285.9 448.6h7.41v3.86h-7.41zM300.4 407.8h7.41v3.86h-7.41zM300.4 415.3h7.41v3.86h-7.41zM300.4 419.0h7.41v3.86h-7.41zM300.4 437.5h7.41v3.86h-7.41zM300.4 444.9h7.41v3.86h-7.41zM300.4 459.8h7.41v3.86h-7.41zM300.4 463.5h7.41v3.86h-7.41zM300.4 467.2h7.41v3.86h-7.41zM300.4 496.8h7.41v3.86h-7.41zM300.4 504.3h7.41v3.86h-7.41zM300.4 519.1h7.41v3.86h-7.41zM300.4 526.5h7.41v3.86h-7.41zM300.4 545.0h7.41v3.86h-7.41zM300.4 548.8h7.41v3.86h-7.41zM307.7 407.8h7.41v3.86h-7.41zM307.7 426.4h7.41v3.86h-7.41zM307.7 437.5h7.41v3.86h-7.41zM307.7 444.9h7.41v3.86h-7.41zM307.7 452.3h7.41v3.86h-7.41zM307.7 470.9h7.41v3.86h-7.41zM307.7 482.0h7.41v3.86h-7.41zM307.7 511.7h7.41v3.86h-7.41zM307.7 545.0h7.41v3.86h-7.41zM307.7 563.6h7.41v3.86h-7.41zM314.9 396.7h7.41v3.86h-7.41zM314.9 422.7h7.41v3.86h-7.41zM314.9 437.5h7.41v3.86h-7.41zM314.9 441.2h7.41v3.86h-7.41zM314.9 448.6h7.41v3.86h-7.41zM314.9 456.0h7.41v3.86h-7.41zM314.9 478.3h7.41v3.86h-7.41zM314.9 485.7h7.41v3.86h-7.41zM314.9 500.5h7.41v3.86h-7.41zM314.9 504.3h7.41v3.86h-7.41zM314.9 511.7h7.41v3.86h-7.41zM314.9 526.5h7.41v3.86h-7.41zM314.9 533.9h7.41v3.86h-7.41zM314.9 541.3h7.41v3.86h-7.41zM322.2 411.5h7.41v3.86h-7.41zM322.2 419.0h7.41v3.86h-7.41zM322.2 430.1h7.41v3.86h-7.41zM322.2 437.5h7.41v3.86h-7.41zM322.2 452.3h7.41v3.86h-7.41zM322.2 470.9h7.41v3.86h-7.41zM322.2 526.5h7.41v3.86h-7.41zM322.2 545.0h7.41v3.86h-7.41zM329.5 404.1h7.41v3.86h-7.41zM329.5 422.7h7.41v3.86h-7.41zM329.5 426.4h7.41v3.86h-7.41zM329.5 437.5h7.41v3.86h-7.41zM329.5 459.8h7.41v3.86h-7.41zM329.5 467.2h7.41v3.86h-7.41zM329.5 470.9h7.41v3.86h-7.41zM329.5 493.1h7.41v3.86h-7.41zM329.5 522.8h7.41v3.86h-7.41zM329.5 541.3h7.41v3.86h-7.41zM329.5 548.8h7.41v3.86h-7.41zM329.5 556.2h7.41v3.86h-7.41zM336.7 426.4h7.41v3.86h-7.41zM336.7 452.3h7.41v3.86h-7.41zM336.7 489.4h7.41v3.86h-7.41zM336.7 496.8h7.41v3.86h-7.41zM336.7 526.5h7.41v3.86h-7.41zM336.7 530.2h7.41v3.86h-7.41zM336.7 533.9h7.41v3.86h-7.41zM336.7 545.0h7.41v3.86h-7.41zM344.0 470.9h7.41v3.86h-7.41zM344.0 559.9h7.41v3.86h-7.41zM358.5 389.3h7.41v3.86h-7.41zM358.5 422.7h7.41v3.86h-7.41zM358.5 511.7h7.41v3.86h-7.41zM358.5 563.6h7.41v3.86h-7.41zM365.8 419.0h7.41v3.86h-7.41zM365.8 522.8h7.41v3.86h-7.41zM365.8 530.2h7.41v3.86h-7.41zM380.3 393.0h7.41v3.86h-7.41zM380.3 430.1h7.41v3.86h-7.41zM387.5 404.1h7.41v3.86h-7.41zM387.5 493.1h7.41v3.86h-7.41zM402.1 563.6h7.41v3.86h-7.41zM409.3 407.8h7.41v3.86h-7.41zM409.3 541.3h7.41v3.86h-7.41zM416.6 533.9h7.41v3.86h-7.41zM423.9 393.0h7.41v3.86h-7.41zM423.9 430.1h7.41v3.86h-7.41zM438.4 396.7h7.41v3.86h-7.41zM445.6 422.7h7.41v3.86h-7.41zM452.9 404.1h7.41v3.86h-7.41zM452.9 407.8h7.41v3.86h-7.41zM452.9 504.3h7.41v3.86h-7.41zM460.2 437.5h7.41v3.86h-7.41zM467.4 422.7h7.41v3.86h-7.41zM482.0 393.0h7.41v3.86h-7.41zM482.0 415.3h7.41v3.86h-7.41zM482.0 482.0h7.41v3.86h-7.41zM482.0 541.3h7.41v3.86h-7.41zM496.5 482.0h7.41v3.86h-7.41zM496.5 496.8h7.41v3.86h-7.41zM503.7 393.0h7.41v3.86h-7.41zM503.7 404.1h7.41v3.86h-7.41z"/>
<path fill="#fdfbd3" d="M206.0 214.8h7.41v3.86h-7.41zM206.0 229.7h7.41v3.86h-7.41zM206.0 233.4h7.41v3.86h-7.41zM206.0 244.5h7.41v3.86h-7.41zM206.0 266.8h7.41v3.86h-7.41zM206.0 292.8h7.41v3.86h-7.41zM206.0 296.5h7.41v3.86h-7.41zM206.0 300.2h7.41v3.86h-7.41zM206.0 303.9h7.41v3.86h-7.41zM206.0 315.1h7.41v3.86h-7.41zM206.0 329.9h7.41v3.86h-7.41zM206.0 337.3h7.41v3.86h-7.41zM206.0 359.6h7.41v3.86h-7.41zM206.0 378.2h7.41v3.86h-7.41zM206.0 385.6h7.41v3.86h-7.41zM213.3 211.1h7.41v3.86h-7.41zM213.3 229.7h7.41v3.86h-7.41zM213.3 233.4h7.41v3.86h-7.41zM213.3 237.1h7.41v3.86h-7.41zM213.3 244.5h7.41v3.86h-7.41zM213.3 248.2h7.41v3.86h-7.41zM213.3 251.9h7.41v3.86h-7.41zM213.3 259.4h7.41v3.86h-7.41zM213.3 285.4h7.41v3.86h-7.41zM213.3 296.5h7.41v3.86h-7.41zM213.3 303.9h7.41v3.86h-7.41zM213.3 322.5h7.41v3.86h-7.41zM213.3 348.5h7.41v3.86h-7.41zM213.3 359.6h7.41v3.86h-7.41zM213.3 363.3h7.41v3.86h-7.41zM213.3 367.0h7.41v3.86h-7.41zM213.3 381.9h7.41v3.86h-7.41zM220.5 214.8h7.41v3.86h-7.41zM220.5 222.2h7.41v3.86h-7.41zM220.5 259.4h7.41v3.86h-7.41zM220.5 266.8h7.41v3.86h-7.41zM220.5 292.8h7.41v3.86h-7.41zM220.5 296.5h7.41v3.86h-7.41zM220.5 307.6h7.41v3.86h-7.41zM220.5 367.0h7.41v3.86h-7.41zM220.5 370.7h7.41v3.86h-7.41zM220.5 378.2h7.41v3.86h-7.41zM249.6 274.2h7.41v3.86h-7.41zM256.8 326.2h7.41v3.86h-7.41zM358.5 289.1h7.41v3.86h-7.41zM402.1 281.6h7.41v3.86h-7.41zM402.1 322.5h7.41v3.86h-7.41zM402.1 333.6h7.41v3.86h-7.41zM409.3 222.2h7.41v3.86h-7.41zM409.3 318.8h7.41v3.86h-7.41zM409.3 333.6h7.41v3.86h-7.41zM409.3 381.9h7.41v3.86h-7.41zM416.6 270.5h7.41v3.86h-7.41zM416.6 285.4h7.41v3.86h-7.41zM416.6 300.2h7.41v3.86h-7.41zM416.6 311.3h7.41v3.86h-7.41zM416.6 352.2h7.41v3.86h-7.41zM416.6 385.6h7.41v3.86h-7.41zM423.9 211.1h7.41v3.86h-7.41zM423.9 341.0h7.41v3.86h-7.41zM431.1 274.2h7.41v3.86h-7.41zM431.1 315.1h7.41v3.86h-7.41zM431.1 322.5h7.41v3.86h-7.41zM431.1 359.6h7.41v3.86h-7.41zM431.1 370.7h7.41v3.86h-7.41zM431.1 381.9h7.41v3.86h-7.41zM438.4 214.8h7.41v3.86h-7.41zM438.4 277.9h7.41v3.86h-7.41zM438.4 281.6h7.41v3.86h-7.41zM438.4 300.2h7.41v3.86h-7.41zM438.4 329.9h7.41v3.86h-7.41zM438.4 344.8h7.41v3.86h-7.41zM438.4 355.9h7.41v3.86h-7.41zM445.6 281.6h7.41v3.86h-7.41zM445.6 296.5h7.41v3.86h-7.41zM445.6 307.6h7.41v3.86h-7.41zM445.6 329.9h7.41v3.86h-7.41zM445.6 348.5h7.41v3.86h-7.41zM452.9 277.9h7.41v3.86h-7.41zM452.9 318.8h7.41v3.86h-7.41zM452.9 341.0h7.41v3.86h-7.41zM452.9 374.5h7.41v3.86h-7.41zM460.2 229.7h7.41v3.86h-7.41zM460.2 255.7h7.41v3.86h-7.41zM460.2 274.2h7.41v3.86h-7.41zM460.2 329.9h7.41v3.86h-7.41zM460.2 337.3h7.41v3.86h-7.41zM460.2 363.3h7.41v3.86h-7.41zM460.2 367.0h7.41v3.86h-7.41zM460.2 378.2h7.41v3.86h-7.41zM467.4 300.2h7.41v3.86h-7.41zM467.4 318.8h7.41v3.86h-7.41zM474.7 207.4h7.41v3.86h-7.41zM474.7 259.4h7.41v3.86h-7.41zM474.7 281.6h7.41v3.86h-7.41zM482.0 300.2h7.41v3.86h-7.41zM482.0 381.9h7.41v3.86h-7.41zM489.2 259.4h7.41v3.86h-7.41zM489.2 270.5h7.41v3.86h-7.41zM489.2 326.2h7.41v3.86h-7.41zM489.2 385.6h7.41v3.86h-7.41zM496.5 240.8h7.41v3.86h-7.41zM496.5 355.9h7.41v3.86h-7.41zM496.5 370.7h7.41v3.86h-7.41zM503.7 211.1h7.41v3.86h-7.41zM503.7 222.2h7.41v3.86h-7.41zM503.7 248.2h7.41v3.86h-7.41zM503.7 266.8h7.41v3.86h-7.41zM503.7 274.2h7.41v3.86h-7.41zM503.7 352.2h7.41v3.86h-7.41zM271.4 448.6h7.41v3.86h-7.41zM278.6 389.3h7.41v3.86h-7.41zM278.6 393.0h7.41v3.86h-7.41zM278.6 419.0h7.41v3.86h-7.41zM278.6 422.7h7.41v3.86h-7.41zM278.6 426.4h7.41v3.86h-7.41zM278.6 437.5h7.41v3.86h-7.41zM278.6 441.2h7.41v3.86h-7.41zM278.6 448.6h7.41v3.86h-7.41zM278.6 463.5h7.41v3.86h-7.41zM278.6 474.6h7.41v3.86h-7.41zM278.6 478.3h7.41v3.86h-7.41zM278.6 482.0h7.41v3.86h-7.41zM278.6 485.7h7.41v3.86h-7.41zM278.6 511.7h7.41v3.86h-7.41zM278.6 515.4h7.41v3.86h-7.41zM278.6 567.3h7.41v3.86h-7.41zM285.9 400.4h7.41v3.86h-7.41zM285.9 456.0h7.41v3.86h-7.41zM285.9 511.7h7.41v3.86h-7.41zM285.9 522.8h7.41v3.86h-7.41zM285.9 545.0h7.41v3.86h-7.41zM285.9 556.2h7.41v3.86h-7.41zM285.9 563.6h7.41v3.86h-7.41zM293.1 411.5h7.41v3.86h-7.41zM293.1 430.1h7.41v3.86h-7.41zM293.1 470.9h7.41v3.86h-7.41zM293.1 541.3h7.41v3.86h-7.41zM300.4 393.0h7.41v3.86h-7.41zM300.4 433.8h7.41v3.86h-7.41zM300.4 452.3h7.41v3.86h-7.41zM300.4 470.9h7.41v3.86h-7.41zM300.4 482.0h7.41v3.86h-7.41zM300.4 500.5h7.41v3.86h-7.41zM300.4 515.4h7.41v3.86h-7.41zM300.4 522.8h7.41v3.86h-7.41zM300.4 530.2h7.41v3.86h-7.41zM300.4 559.9h7.41v3.86h-7.41zM300.4 567.3h7.41v3.86h-7.41zM307.7 393.0h7.41v3.86h-7.41zM307.7 404.1h7.41v3.86h-7.41zM307.7 474.6h7.41v3.86h-7.41zM307.7 496.8h7.41v3.86h-7.41zM307.7 500.5h7.41v3.86h-7.41zM307.7 508.0h7.41v3.86h-7.41zM307.7 515.4h7.41v3.86h-7.41zM307.7 522.8h7.41v3.86h-7.41zM307.7 530.2h7.41v3.86h-7.41zM307.7 537.6h7.41v3.86h-7.41zM307.7 541.3h7.41v3.86h-7.41zM307.7 567.3h7.41v3.86h-7.41zM314.9 393.0h7.41v3.86h-7.41zM314.9 400.4h7.41v3.86h-7.41zM314.9 404.1h7.41v3.86h-7.41zM314.9 415.3h7.41v3.86h-7.41zM314.9 426.4h7.41v3.86h-7.41zM314.9 474.6h7.41v3.86h-7.41zM314.9 496.8h7.41v3.86h-7.41zM314.9 519.1h7.41v3.86h-7.41zM314.9 545.0h7.41v3.86h-7.41zM322.2 407.8h7.41v3.86h-7.41zM322.2 422.7h7.41v3.86h-7.41zM322.2 467.2h7.41v3.86h-7.41zM322.2 482.0h7.41v3.86h-7.41zM322.2 511.7h7.41v3.86h-7.41zM322.2 519.1h7.41v3.86h-7.41zM322.2 530.2h7.41v3.86h-7.41zM322.2 559.9h7.41v3.86h-7.41zM322.2 567.3h7.41v3.86h-7.41zM329.5 396.7h7.41v3.86h-7.41zM329.5 419.0h7.41v3.86h-7.41zM329.5 444.9h7.41v3.86h-7.41zM329.5 463.5h7.41v3.86h-7.41zM329.5 482.0h7.41v3.86h-7.41zM329.5 485.7h7.41v3.86h-7.41zM329.5 489.4h7.41v3.86h-7.41zM329.5 500.5h7.41v3.86h-7.41zM329.5 515.4h7.41v3.86h-7.41zM329.5 563.6h7.41v3.86h-7.41zM336.7 404.1h7.41v3.86h-7.41zM336.7 419.0h7.41v3.86h-7.41zM336.7 467.2h7.41v3.86h-7.41zM336.7 474.6h7.41v3.86h-7.41zM336.7 500.5h7.41v3.86h-7.41zM336.7 511.7h7.41v3.86h-7.41zM336.7 515.4h7.41v3.86h-7.41zM336.7 559.9h7.41v3.86h-7.41zM336.7 563.6h7.41v3.86h-7.41zM344.0 393.0h7.41v3.86h-7.41zM344.0 411.5h7.41v3.86h-7.41zM344.0 419.0h7.41v3.86h-7.41zM344.0 426.4h7.41v3.86h-7.41zM344.0 452.3h7.41v3.86h-7.41zM344.0 463.5h7.41v3.86h-7.41zM344.0 474.6h7.41v3.86h-7.41zM344.0 493.1h7.41v3.86h-7.41zM344.0 522.8h7.41v3.86h-7.41zM344.0 567.3h7.41v3.86h-7.41zM358.5 393.0h7.41v3.86h-7.41zM358.5 400.4h7.41v3.86h-7.41zM358.5 430.1h7.41v3.86h-7.41zM358.5 433.8h7.41v3.86h-7.41zM358.5 456.0h7.41v3.86h-7.41zM358.5 470.9h7.41v3.86h-7.41zM358.5 474.6h7.41v3.86h-7.41zM358.5 489.4h7.41v3.86h-7.41zM358.5 515.4h7.41v3.86h-7.41zM358.5 522.8h7.41v3.86h-7.41zM358.5 530.2h7.41v3.86h-7.41zM358.5 552.5h7.41v3.86h-7.41zM365.8 430.1h7.41v3.86h-7.41zM365.8 452.3h7.41v3.86h-7.41zM365.8 470.9h7.41v3.86h-7.41zM365.8 500.5h7.41v3.86h-7.41zM365.8 508.0h7.41v3.86h-7.41zM365.8 526.5h7.41v3.86h-7.41zM373.0 415.3h7.41v3.86h-7.41zM373.0 452.3h7.41v3.86h-7.41zM380.3 411.5h7.41v3.86h-7.41zM380.3 459.8h7.41v3.86h-7.41zM380.3 504.3h7.41v3.86h-7.41zM380.3 522.8h7.41v3.86h-7.41zM387.5 448.6h7.41v3.86h-7.41zM387.5 474.6h7.41v3.86h-7.41zM387.5 522.8h7.41v3.86h-7.41zM402.1 389.3h7.41v3.86h-7.41zM402.1 393.0h7.41v3.86h-7.41zM402.1 500.5h7.41v3.86h-7.41zM402.1 559.9h7.41v3.86h-7.41zM409.3 441.2h7.41v3.86h-7.41zM409.3 448.6h7.41v3.86h-7.41zM409.3 470.9h7.41v3.86h-7.41zM409.3 559.9h7.41v3.86h-7.41zM409.3 563.6h7.41v3.86h-7.41zM416.6 411.5h7.41v3.86h-7.41zM416.6 500.5h7.41v3.86h-7.41zM416.6 504.3h7.41v3.86h-7.41zM423.9 519.1h7.41v3.86h-7.41zM431.1 393.0h7.41v3.86h-7.41zM431.1 541.3h7.41v3.86h-7.41zM452.9 441.2h7.41v3.86h-7.41zM452.9 537.6h7.41v3.86h-7.41zM460.2 545.0h7.41v3.86h-7.41zM482.0 441.2h7.41v3.86h-7.41zM482.0 459.8h7.41v3.86h-7.41zM482.0 478.3h7.41v3.86h-7.41zM482.0 489.4h7.41v3.86h-7.41zM482.0 500.5h7.41v3.86h-7.41zM482.0 556.2h7.41v3.86h-7.41zM489.2 393.0h7.41v3.86h-7.41zM503.7 478.3h7.41v3.86h-7.41zM503.7 559.9h7.41v3.86h-7.41z"/>
<path fill="#fcf8b6" d="M206.0 218.5h7.41v3.86h-7.41zM206.0 237.1h7.41v3.86h-7.41zM206.0 240.8h7.41v3.86h-7.41zM206.0 277.9h7.41v3.86h-7.41zM206.0 281.6h7.41v3.86h-7.41zM206.0 311.3h7.41v3.86h-7.41zM206.0 326.2h7.41v3.86h-7.41zM206.0 344.8h7.41v3.86h-7.41zM206.0 367.0h7.41v3.86h-7.41zM213.3 207.4h7.41v3.86h-7.41zM213.3 222.2h7.41v3.86h-7.41zM213.3 240.8h7.41v3.86h-7.41zM213.3 255.7h7.41v3.86h-7.41zM213.3 326.2h7.41v3.86h-7.41zM220.5 207.4h7.41v3.86h-7.41zM220.5 211.1h7.41v3.86h-7.41zM220.5 233.4h7.41v3.86h-7.41zM220.5 240.8h7.41v3.86h-7.41zM220.5 244.5h7.41v3.86h-7.41zM220.5 274.2h7.41v3.86h-7.41zM220.5 285.4h7.41v3.86h-7.41zM220.5 289.1h7.41v3.86h-7.41zM220.5 300.2h7.41v3.86h-7.41zM220.5 303.9h7.41v3.86h-7.41zM220.5 318.8h7.41v3.86h-7.41zM220.5 322.5h7.41v3.86h-7.41zM220.5 329.9h7.41v3.86h-7.41zM220.5 352.2h7.41v3.86h-7.41zM220.5 359.6h7.41v3.86h-7.41zM220.5 363.3h7.41v3.86h-7.41zM227.8 237.1h7.41v3.86h-7.41zM227.8 274.2h7.41v3.86h-7.41zM227.8 277.9h7.41v3.86h-7.41zM227.8 296.5h7.41v3.86h-7.41zM227.8 329.9h7.41v3.86h-7.41zM227.8 337.3h7.41v3.86h-7.41zM227.8 341.0h7.41v3.86h-7.41zM227.8 367.0h7.41v3.86h-7.41zM235.0 214.8h7.41v3.86h-7.41zM235.0 218.5h7.41v3.86h-7.41zM235.0 240.8h7.41v3.86h-7.41zM235.0 248.2h7.41v3.86h-7.41zM235.0 266.8h7.41v3.86h-7.41zM235.0 277.9h7.41v3.86h-7.41zM235.0 289.1h7.41v3.86h-7.41zM235.0 307.6h7.41v3.86h-7.41zM235.0 315.1h7.41v3.86h-7.41zM235.0 333.6h7.41v3.86h-7.41zM235.0 363.3h7.41v3.86h-7.41zM235.0 367.0h7.41v3.86h-7.41zM235.0 378.2h7.41v3.86h-7.41zM235.0 381.9h7.41v3.86h-7.41zM242.3 226.0h7.41v3.86h-7.41zM242.3 248.2h7.41v3.86h-7.41zM242.3 277.9h7.41v3.86h-7.41zM242.3 285.4h7.41v3.86h-7.41zM242.3 300.2h7.41v3.86h-7.41zM242.3 307.6h7.41v3.86h-7.41zM242.3 326.2h7.41v3.86h-7.41zM242.3 344.8h7.41v3.86h-7.41zM242.3 359.6h7.41v3.86h-7.41zM242.3 363.3h7.41v3.86h-7.41zM242.3 378.2h7.41v3.86h-7.41zM249.6 226.0h7.41v3.86h-7.41zM249.6 240.8h7.41v3.86h-7.41zM249.6 244.5h7.41v3.86h-7.41zM249.6 248.2h7.41v3.86h-7.41zM249.6 263.1h7.41v3.86h-7.41zM249.6 266.8h7.41v3.86h-7.41zM249.6 270.5h7.41v3.86h-7.41zM249.6 277.9h7.41v3.86h-7.41zM249.6 285.4h7.41v3.86h-7.41zM249.6 322.5h7.41v3.86h-7.41zM249.6 326.2h7.41v3.86h-7.41zM249.6 333.6h7.41v3.86h-7.41zM249.6 341.0h7.41v3.86h-7.41zM249.6 374.5h7.41v3.86h-7.41zM249.6 378.2h7.41v3.86h-7.41zM256.8 214.8h7.41v3.86h-7.41zM256.8 237.1h7.41v3.86h-7.41zM256.8 240.8h7.41v3.86h-7.41zM256.8 244.5h7.41v3.86h-7.41zM256.8 248.2h7.41v3.86h-7.41zM256.8 270.5h7.41v3.86h-7.41zM256.8 277.9h7.41v3.86h-7.41zM256.8 337.3h7.41v3.86h-7.41zM256.8 344.8h7.41v3.86h-7.41zM256.8 359.6h7.41v3.86h-7.41zM256.8 367.0h7.41v3.86h-7.41zM256.8 378.2h7.41v3.86h-7.41zM256.8 381.9h7.41v3.86h-7.41zM264.1 214.8h7.41v3.86h-7.41zM264.1 237.1h7.41v3.86h-7.41zM264.1 240.8h7.41v3.86h-7.41zM264.1 274.2h7.41v3.86h-7.41zM264.1 277.9h7.41v3.86h-7.41zM264.1 315.1h7.41v3.86h-7.41zM264.1 341.0h7.41v3.86h-7.41zM264.1 367.0h7.41v3.86h-7.41zM416.6 333.6h7.41v3.86h-7.41zM416.6 363.3h7.41v3.86h-7.41zM416.6 381.9h7.41v3.86h-7.41zM423.9 318.8h7.41v3.86h-7.41zM431.1 233.4h7.41v3.86h-7.41zM431.1 263.1h7.41v3.86h-7.41zM431.1 363.3h7.41v3.86h-7.41zM431.1 374.5h7.41v3.86h-7.41zM438.4 307.6h7.41v3.86h-7.41zM438.4 341.0h7.41v3.86h-7.41zM438.4 363.3h7.41v3.86h-7.41zM445.6 222.2h7.41v3.86h-7.41zM445.6 226.0h7.41v3.86h-7.41zM452.9 367.0h7.41v3.86h-7.41zM460.2 211.1h7.41v3.86h-7.41zM460.2 251.9h7.41v3.86h-7.41zM460.2 303.9h7.41v3.86h-7.41zM460.2 307.6h7.41v3.86h-7.41zM460.2 341.0h7.41v3.86h-7.41zM460.2 374.5h7.41v3.86h-7.41zM467.4 281.6h7.41v3.86h-7.41zM467.4 329.9h7.41v3.86h-7.41zM474.7 222.2h7.41v3.86h-7.41zM474.7 229.7h7.41v3.86h-7.41zM474.7 233.4h7.41v3.86h-7.41zM474.7 348.5h7.41v3.86h-7.41zM474.7 359.6h7.41v3.86h-7.41zM474.7 367.0h7.41v3.86h-7.41zM474.7 374.5h7.41v3.86h-7.41zM474.7 378.2h7.41v3.86h-7.41zM482.0 359.6h7.41v3.86h-7.41zM482.0 378.2h7.41v3.86h-7.41zM496.5 318.8h7.41v3.86h-7.41zM496.5 322.5h7.41v3.86h-7.41zM503.7 315.1h7.41v3.86h-7.41zM503.7 337.3h7.41v3.86h-7.41zM300.4 404.1h7.41v3.86h-7.41zM300.4 422.7h7.41v3.86h-7.41zM300.4 426.4h7.41v3.86h-7.41zM300.4 456.0h7.41v3.86h-7.41zM300.4 478.3h7.41v3.86h-7.41zM300.4 485.7h7.41v3.86h-7.41zM300.4 489.4h7.41v3.86h-7.41zM300.4 508.0h7.41v3.86h-7.41zM300.4 511.7h7.41v3.86h-7.41zM300.4 533.9h7.41v3.86h-7.41zM300.4 537.6h7.41v3.86h-7.41zM300.4 541.3h7.41v3.86h-7.41zM300.4 552.5h7.41v3.86h-7.41zM300.4 556.2h7.41v3.86h-7.41zM300.4 563.6h7.41v3.86h-7.41zM307.7 389.3h7.41v3.86h-7.41zM307.7 396.7h7.41v3.86h-7.41zM307.7 415.3h7.41v3.86h-7.41zM307.7 456.0h7.41v3.86h-7.41zM307.7 463.5h7.41v3.86h-7.41zM307.7 478.3h7.41v3.86h-7.41zM307.7 493.1h7.41v3.86h-7.41zM307.7 533.9h7.41v3.86h-7.41zM307.7 548.8h7.41v3.86h-7.41zM307.7 556.2h7.41v3.86h-7.41zM307.7 559.9h7.41v3.86h-7.41zM314.9 389.3h7.41v3.86h-7.41zM314.9 407.8h7.41v3.86h-7.41zM314.9 411.5h7.41v3.86h-7.41zM314.9 452.3h7.41v3.86h-7.41zM314.9 463.5h7.41v3.86h-7.41zM314.9 470.9h7.41v3.86h-7.41zM314.9 482.0h7.41v3.86h-7.41zM314.9 493.1h7.41v3.86h-7.41zM314.9 508.0h7.41v3.86h-7.41zM314.9 522.8h7.41v3.86h-7.41zM314.9 556.2h7.41v3.86h-7.41zM314.9 559.9h7.41v3.86h-7.41zM314.9 563.6h7.41v3.86h-7.41zM322.2 389.3h7.41v3.86h-7.41zM322.2 396.7h7.41v3.86h-7.41zM322.2 415.3h7.41v3.86h-7.41zM322.2 426.4h7.41v3.86h-7.41zM322.2 448.6h7.41v3.86h-7.41zM322.2 459.8h7.41v3.86h-7.41zM322.2 463.5h7.41v3.86h-7.41zM322.2 478.3h7.41v3.86h-7.41zM322.2 485.7h7.41v3.86h-7.41zM322.2 496.8h7.41v3.86h-7.41zM322.2 500.5h7.41v3.86h-7.41zM322.2 504.3h7.41v3.86h-7.41zM322.2 533.9h7.41v3.86h-7.41zM322.2 541.3h7.41v3.86h-7.41zM322.2 548.8h7.41v3.86h-7.41zM322.2 556.2h7.41v3.86h-7.41zM329.5 389.3h7.41v3.86h-7.41zM329.5 400.4h7.41v3.86h-7.41zM329.5 407.8h7.41v3.86h-7.41zM329.5 415.3h7.41v3.86h-7.41zM329.5 433.8h7.41v3.86h-7.41zM329.5 478.3h7.41v3.86h-7.41zM329.5 552.5h7.41v3.86h-7.41zM336.7 389.3h7.41v3.86h-7.41zM336.7 400.4h7.41v3.86h-7.41zM336.7 433.8h7.41v3.86h-7.41zM336.7 448.6h7.41v3.86h-7.41zM336.7 482.0h7.41v3.86h-7.41zM336.7 493.1h7.41v3.86h-7.41zM336.7 519.1h7.41v3.86h-7.41zM336.7 522.8h7.41v3.86h-7.41zM336.7 537.6h7.41v3.86h-7.41zM336.7 541.3h7.41v3.86h-7.41zM336.7 552.5h7.41v3.86h-7.41zM344.0 467.2h7.41v3.86h-7.41zM344.0 489.4h7.41v3.86h-7.41zM344.0 500.5h7.41v3.86h-7.41zM344.0 548.8h7.41v3.86h-7.41zM351.2 470.9h7.41v3.86h-7.41zM358.5 504.3h7.41v3.86h-7.41zM358.5 548.8h7.41v3.86h-7.41zM373.0 470.9h7.41v3.86h-7.41zM380.3 426.4h7.41v3.86h-7.41zM380.3 548.8h7.41v3.86h-7.41zM394.8 470.9h7.41v3.86h-7.41zM402.1 407.8h7.41v3.86h-7.41zM482.0 463.5h7.41v3.86h-7.41zM496.5 489.4h7.41v3.86h-7.41z"/>
<path fill="#fefce2" d="M206.0 251.9h7.41v3.86h-7.41zM206.0 341.0h7.41v3.86h-7.41zM206.0 348.5h7.41v3.86h-7.41zM213.3 214.8h7.41v3.86h-7.41zM213.3 263.1h7.41v3.86h-7.41zM213.3 266.8h7.41v3.86h-7.41zM213.3 281.6h7.41v3.86h-7.41zM213.3 292.8h7.41v3.86h-7.41zM213.3 300.2h7.41v3.86h-7.41zM213.3 315.1h7.41v3.86h-7.41zM213.3 341.0h7.41v3.86h-7.41zM213.3 385.6h7.41v3.86h-7.41zM249.6 259.4h7.41v3.86h-7.41zM344.0 218.5h7.41v3.86h-7.41zM344.0 244.5h7.41v3.86h-7.41zM351.2 207.4h7.41v3.86h-7.41zM358.5 207.4h7.41v3.86h-7.41zM358.5 233.4h7.41v3.86h-7.41zM365.8 207.4h7.41v3.86h-7.41zM373.0 244.5h7.41v3.86h-7.41zM380.3 289.1h7.41v3.86h-7.41zM387.5 207.4h7.41v3.86h-7.41zM402.1 211.1h7.41v3.86h-7.41zM402.1 296.5h7.41v3.86h-7.41zM402.1 311.3h7.41v3.86h-7.41zM402.1 385.6h7.41v3.86h-7.41zM409.3 240.8h7.41v3.86h-7.41zM409.3 296.5h7.41v3.86h-7.41zM409.3 300.2h7.41v3.86h-7.41zM409.3 315.1h7.41v3.86h-7.41zM416.6 207.4h7.41v3.86h-7.41zM416.6 240.8h7.41v3.86h-7.41zM416.6 244.5h7.41v3.86h-7.41zM416.6 248.2h7.41v3.86h-7.41zM416.6 259.4h7.41v3.86h-7.41zM416.6 292.8h7.41v3.86h-7.41zM416.6 318.8h7.41v3.86h-7.41zM416.6 344.8h7.41v3.86h-7.41zM423.9 214.8h7.41v3.86h-7.41zM423.9 222.2h7.41v3.86h-7.41zM423.9 233.4h7.41v3.86h-7.41zM423.9 240.8h7.41v3.86h-7.41zM423.9 263.1h7.41v3.86h-7.41zM423.9 300.2h7.41v3.86h-7.41zM423.9 303.9h7.41v3.86h-7.41zM423.9 315.1h7.41v3.86h-7.41zM423.9 333.6h7.41v3.86h-7.41zM423.9 367.0h7.41v3.86h-7.41zM423.9 381.9h7.41v3.86h-7.41zM431.1 237.1h7.41v3.86h-7.41zM431.1 333.6h7.41v3.86h-7.41zM438.4 251.9h7.41v3.86h-7.41zM438.4 266.8h7.41v3.86h-7.41zM438.4 274.2h7.41v3.86h-7.41zM438.4 326.2h7.41v3.86h-7.41zM445.6 211.1h7.41v3.86h-7.41zM445.6 277.9h7.41v3.86h-7.41zM445.6 292.8h7.41v3.86h-7.41zM445.6 300.2h7.41v3.86h-7.41zM445.6 303.9h7.41v3.86h-7.41zM445.6 311.3h7.41v3.86h-7.41zM445.6 318.8h7.41v3.86h-7.41zM445.6 374.5h7.41v3.86h-7.41zM452.9 222.2h7.41v3.86h-7.41zM452.9 270.5h7.41v3.86h-7.41zM452.9 326.2h7.41v3.86h-7.41zM460.2 248.2h7.41v3.86h-7.41zM460.2 277.9h7.41v3.86h-7.41zM460.2 292.8h7.41v3.86h-7.41zM460.2 300.2h7.41v3.86h-7.41zM460.2 344.8h7.41v3.86h-7.41zM460.2 348.5h7.41v3.86h-7.41zM460.2 352.2h7.41v3.86h-7.41zM467.4 222.2h7.41v3.86h-7.41zM467.4 248.2h7.41v3.86h-7.41zM467.4 259.4h7.41v3.86h-7.41zM467.4 266.8h7.41v3.86h-7.41zM467.4 303.9h7.41v3.86h-7.41zM474.7 244.5h7.41v3.86h-7.41zM474.7 292.8h7.41v3.86h-7.41zM474.7 300.2h7.41v3.86h-7.41zM474.7 307.6h7.41v3.86h-7.41zM474.7 352.2h7.41v3.86h-7.41zM482.0 207.4h7.41v3.86h-7.41zM482.0 270.5h7.41v3.86h-7.41zM482.0 318.8h7.41v3.86h-7.41zM482.0 322.5h7.41v3.86h-7.41zM489.2 303.9h7.41v3.86h-7.41zM489.2 344.8h7.41v3.86h-7.41zM489.2 363.3h7.41v3.86h-7.41zM489.2 381.9h7.41v3.86h-7.41zM496.5 207.4h7.41v3.86h-7.41zM496.5 311.3h7.41v3.86h-7.41zM496.5 333.6h7.41v3.86h-7.41zM496.5 337.3h7.41v3.86h-7.41zM496.5 359.6h7.41v3.86h-7.41zM496.5 363.3h7.41v3.86h-7.41zM496.5 367.0h7.41v3.86h-7.41zM496.5 378.2h7.41v3.86h-7.41zM503.7 240.8h7.41v3.86h-7.41zM503.7 259.4h7.41v3.86h-7.41zM503.7 263.1h7.41v3.86h-7.41zM503.7 270.5h7.41v3.86h-7.41zM503.7 333.6h7.41v3.86h-7.41zM503.7 344.8h7.41v3.86h-7.41zM503.7 348.5h7.41v3.86h-7.41zM503.7 374.5h7.41v3.86h-7.41zM503.7 385.6h7.41v3.86h-7.41zM271.4 389.3h7.41v3.86h-7.41zM271.4 393.0h7.41v3.86h-7.41zM271.4 400.4h7.41v3.86h-7.41zM271.4 411.5h7.41v3.86h-7.41zM271.4 419.0h7.41v3.86h-7.41zM271.4 422.7h7.41v3.86h-7.41zM271.4 430.1h7.41v3.86h-7.41zM271.4 441.2h7.41v3.86h-7.41zM271.4 456.0h7.41v3.86h-7.41zM271.4 474.6h7.41v3.86h-7.41zM271.4 478.3h7.41v3.86h-7.41zM271.4 489.4h7.41v3.86h-7.41zM271.4 511.7h7.41v3.86h-7.41zM271.4 515.4h7.41v3.86h-7.41zM271.4 522.8h7.41v3.86h-7.41zM271.4 533.9h7.41v3.86h-7.41zM271.4 545.0h7.41v3.86h-7.41zM271.4 548.8h7.41v3.86h-7.41zM271.4 556.2h7.41v3.86h-7.41zM278.6 396.7h7.41v3.86h-7.41zM278.6 400.4h7.41v3.86h-7.41zM278.6 407.8h7.41v3.86h-7.41zM278.6 411.5h7.41v3.86h-7.41zM278.6 452.3h7.41v3.86h-7.41zM278.6 467.2h7.41v3.86h-7.41zM278.6 470.9h7.41v3.86h-7.41zM278.6 493.1h7.41v3.86h-7.41zM278.6 496.8h7.41v3.86h-7.41zM278.6 508.0h7.41v3.86h-7.41zM278.6 519.1h7.41v3.86h-7.41zM278.6 522.8h7.41v3.86h-7.41zM278.6 530.2h7.41v3.86h-7.41zM278.6 533.9h7.41v3.86h-7.41zM278.6 537.6h7.41v3.86h-7.41zM278.6 545.0h7.41v3.86h-7.41zM278.6 552.5h7.41v3.86h-7.41zM278.6 556.2h7.41v3.86h-7.41zM285.9 389.3h7.41v3.86h-7.41zM285.9 393.0h7.41v3.86h-7.41zM285.9 396.7h7.41v3.86h-7.41zM285.9 404.1h7.41v3.86h-7.41zM285.9 411.5h7.41v3.86h-7.41zM285.9 422.7h7.41v3.86h-7.41zM285.9 430.1h7.41v3.86h-7.41zM285.9 437.5h7.41v3.86h-7.41zM285.9 467.2h7.41v3.86h-7.41zM285.9 485.7h7.41v3.86h-7.41zM285.9 493.1h7.41v3.86h-7.41zM285.9 496.8h7.41v3.86h-7.41zM285.9 515.4h7.41v3.86h-7.41zM285.9 519.1h7.41v3.86h-7.41zM285.9 530.2h7.41v3.86h-7.41zM285.9 533.9h7.41v3.86h-7.41zM285.9 537.6h7.41v3.86h-7.41zM285.9 541.3h7.41v3.86h-7.41zM285.9 548.8h7.41v3.86h-7.41zM293.1 389.3h7.41v3.86h-7.41zM293.1 393.0h7.41v3.86h-7.41zM293.1 400.4h7.41v3.86h-7.41zM293.1 404.1h7.41v3.86h-7.41zM293.1 415.3h7.41v3.86h-7.41zM293.1 422.7h7.41v3.86h-7.41zM293.1 426.4h7.41v3.86h-7.41zM293.1 437.5h7.41v3.86h-7.41zM293.1 448.6h7.41v3.86h-7.41zM293.1 456.0h7.41v3.86h-7.41zM293.1 459.8h7.41v3.86h-7.41zM293.1 463.5h7.41v3.86h-7.41zM293.1 467.2h7.41v3.86h-7.41zM293.1 474.6h7.41v3.86h-7.41zM293.1 478.3h7.41v3.86h-7.41zM293.1 482.0h7.41v3.86h-7.41zM293.1 485.7h7.41v3.86h-7.41zM293.1 489.4h7.41v3.86h-7.41zM293.1 496.8h7.41v3.86h-7.41zM293.1 500.5h7.41v3.86h-7.41zM293.1 511.7h7.41v3.86h-7.41zM293.1 515.4h7.41v3.86h-7.41zM293.1 519.1h7.41v3.86h-7.41zM293.1 522.8h7.41v3.86h-7.41zM293.1 533.9h7.41v3.86h-7.41zM293.1 548.8h7.41v3.86h-7.41zM293.1 556.2h7.41v3.86h-7.41zM300.4 448.6h7.41v3.86h-7.41zM300.4 493.1h7.41v3.86h-7.41zM307.7 519.1h7.41v3.86h-7.41zM314.9 433.8h7.41v3.86h-7.41zM314.9 459.8h7.41v3.86h-7.41zM314.9 467.2h7.41v3.86h-7.41zM314.9 515.4h7.41v3.86h-7.41zM314.9 530.2h7.41v3.86h-7.41zM322.2 404.1h7.41v3.86h-7.41zM329.5 452.3h7.41v3.86h-7.41zM329.5 504.3h7.41v3.86h-7.41zM329.5 511.7h7.41v3.86h-7.41zM329.5 526.5h7.41v3.86h-7.41zM329.5 530.2h7.41v3.86h-7.41zM329.5 545.0h7.41v3.86h-7.41zM329.5 559.9h7.41v3.86h-7.41zM329.5 567.3h7.41v3.86h-7.41zM336.7 396.7h7.41v3.86h-7.41zM344.0 456.0h7.41v3.86h-7.41zM344.0 459.8h7.41v3.86h-7.41zM344.0 530.2h7.41v3.86h-7.41zM344.0 545.0h7.41v3.86h-7.41zM344.0 552.5h7.41v3.86h-7.41zM344.0 556.2h7.41v3.86h-7.41zM351.2 415.3h7.41v3.86h-7.41zM351.2 467.2h7.41v3.86h-7.41zM351.2 541.3h7.41v3.86h-7.41zM358.5 407.8h7.41v3.86h-7.41zM358.5 411.5h7.41v3.86h-7.41zM358.5 444.9h7.41v3.86h-7.41zM358.5 500.5h7.41v3.86h-7.41zM358.5 508.0h7.41v3.86h-7.41zM358.5 526.5h7.41v3.86h-7.41zM358.5 541.3h7.41v3.86h-7.41zM358.5 556.2h7.41v3.86h-7.41zM358.5 567.3h7.41v3.86h-7.41zM365.8 393.0h7.41v3.86h-7.41zM365.8 407.8h7.41v3.86h-7.41zM365.8 474.6h7.41v3.86h-7.41zM365.8 482.0h7.41v3.86h-7.41zM365.8 485.7h7.41v3.86h-7.41zM365.8 515.4h7.41v3.86h-7.41zM365.8 541.3h7.41v3.86h-7.41zM365.8 545.0h7.41v3.86h-7.41zM365.8 559.9h7.41v3.86h-7.41zM365.8 563.6h7.41v3.86h-7.41zM373.0 419.0h7.41v3.86h-7.41zM373.0 422.7h7.41v3.86h-7.41zM373.0 430.1h7.41v3.86h-7.41zM373.0 478.3h7.41v3.86h-7.41zM373.0 489.4h7.41v3.86h-7.41zM373.0 500.5h7.41v3.86h-7.41zM373.0 530.2h7.41v3.86h-7.41zM373.0 548.8h7.41v3.86h-7.41zM373.0 567.3h7.41v3.86h-7.41zM380.3 396.7h7.41v3.86h-7.41zM380.3 437.5h7.41v3.86h-7.41zM380.3 489.4h7.41v3.86h-7.41zM380.3 500.5h7.41v3.86h-7.41zM380.3 511.7h7.41v3.86h-7.41zM380.3 530.2h7.41v3.86h-7.41zM380.3 533.9h7.41v3.86h-7.41zM380.3 567.3h7.41v3.86h-7.41zM387.5 393.0h7.41v3.86h-7.41zM387.5 430.1h7.41v3.86h-7.41zM387.5 463.5h7.41v3.86h-7.41zM387.5 470.9h7.41v3.86h-7.41zM387.5 478.3h7.41v3.86h-7.41zM387.5 489.4h7.41v3.86h-7.41zM387.5 508.0h7.41v3.86h-7.41zM387.5 530.2h7.41v3.86h-7.41zM402.1 396.7h7.41v3.86h-7.41zM402.1 400.4h7.41v3.86h-7.41zM402.1 433.8h7.41v3.86h-7.41zM402.1 489.4h7.41v3.86h-7.41zM402.1 541.3h7.41v3.86h-7.41zM409.3 411.5h7.41v3.86h-7.41zM409.3 419.0h7.41v3.86h-7.41zM409.3 433.8h7.41v3.86h-7.41zM409.3 496.8h7.41v3.86h-7.41zM409.3 511.7h7.41v3.86h-7.41zM409.3 530.2h7.41v3.86h-7.41zM409.3 537.6h7.41v3.86h-7.41zM409.3 552.5h7.41v3.86h-7.41zM416.6 448.6h7.41v3.86h-7.41zM416.6 467.2h7.41v3.86h-7.41zM416.6 496.8h7.41v3.86h-7.41zM416.6 515.4h7.41v3.86h-7.41zM416.6 563.6h7.41v3.86h-7.41zM423.9 470.9h7.41v3.86h-7.41zM423.9 489.4h7.41v3.86h-7.41zM438.4 415.3h7.41v3.86h-7.41zM438.4 511.7h7.41v3.86h-7.41zM452.9 430.1h7.41v3.86h-7.41zM452.9 444.9h7.41v3.86h-7.41zM452.9 478.3h7.41v3.86h-7.41zM452.9 485.7h7.41v3.86h-7.41zM452.9 511.7h7.41v3.86h-7.41zM452.9 530.2h7.41v3.86h-7.41zM452.9 552.5h7.41v3.86h-7.41zM460.2 404.1h7.41v3.86h-7.41zM460.2 441.2h7.41v3.86h-7.41zM460.2 482.0h7.41v3.86h-7.41zM460.2 559.9h7.41v3.86h-7.41zM474.7 482.0h7.41v3.86h-7.41zM482.0 389.3h7.41v3.86h-7.41zM482.0 404.1h7.41v3.86h-7.41zM482.0 419.0h7.41v3.86h-7.41zM482.0 426.4h7.41v3.86h-7.41zM482.0 470.9h7.41v3.86h-7.41zM482.0 511.7h7.41v3.86h-7.41zM489.2 508.0h7.41v3.86h-7.41zM496.5 470.9h7.41v3.86h-7.41zM503.7 485.7h7.41v3.86h-7.41zM503.7 504.3h7.41v3.86h-7.41z"/>
<path fill="#fefef0" d="M220.5 255.7h7.41v3.86h-7.41zM220.5 341.0h7.41v3.86h-7.41zM358.5 244.5h7.41v3.86h-7.41zM358.5 307.6h7.41v3.86h-7.41zM365.8 226.0h7.41v3.86h-7.41zM373.0 207.4h7.41v3.86h-7.41zM373.0 237.1h7.41v3.86h-7.41zM380.3 240.8h7.41v3.86h-7.41zM380.3 244.5h7.41v3.86h-7.41zM380.3 255.7h7.41v3.86h-7.41zM394.8 207.4h7.41v3.86h-7.41zM394.8 244.5h7.41v3.86h-7.41zM394.8 251.9h7.41v3.86h-7.41zM394.8 255.7h7.41v3.86h-7.41zM402.1 214.8h7.41v3.86h-7.41zM402.1 218.5h7.41v3.86h-7.41zM402.1 222.2h7.41v3.86h-7.41zM402.1 248.2h7.41v3.86h-7.41zM402.1 270.5h7.41v3.86h-7.41zM402.1 315.1h7.41v3.86h-7.41zM402.1 329.9h7.41v3.86h-7.41zM402.1 355.9h7.41v3.86h-7.41zM402.1 359.6h7.41v3.86h-7.41zM402.1 378.2h7.41v3.86h-7.41zM402.1 381.9h7.41v3.86h-7.41zM409.3 263.1h7.41v3.86h-7.41zM409.3 266.8h7.41v3.86h-7.41zM409.3 277.9h7.41v3.86h-7.41zM409.3 281.6h7.41v3.86h-7.41zM409.3 285.4h7.41v3.86h-7.41zM409.3 303.9h7.41v3.86h-7.41zM409.3 341.0h7.41v3.86h-7.41zM409.3 359.6h7.41v3.86h-7.41zM416.6 218.5h7.41v3.86h-7.41zM416.6 251.9h7.41v3.86h-7.41zM416.6 266.8h7.41v3.86h-7.41zM416.6 281.6h7.41v3.86h-7.41zM416.6 303.9h7.41v3.86h-7.41zM416.6 307.6h7.41v3.86h-7.41zM416.6 322.5h7.41v3.86h-7.41zM416.6 341.0h7.41v3.86h-7.41zM416.6 348.5h7.41v3.86h-7.41zM416.6 374.5h7.41v3.86h-7.41zM416.6 378.2h7.41v3.86h-7.41zM423.9 285.4h7.41v3.86h-7.41zM423.9 344.8h7.41v3.86h-7.41zM423.9 348.5h7.41v3.86h-7.41zM423.9 352.2h7.41v3.86h-7.41zM423.9 385.6h7.41v3.86h-7.41zM431.1 207.4h7.41v3.86h-7.41zM431.1 211.1h7.41v3.86h-7.41zM431.1 214.8h7.41v3.86h-7.41zM431.1 226.0h7.41v3.86h-7.41zM431.1 248.2h7.41v3.86h-7.41zM431.1 277.9h7.41v3.86h-7.41zM431.1 281.6h7.41v3.86h-7.41zM431.1 311.3h7.41v3.86h-7.41zM431.1 329.9h7.41v3.86h-7.41zM431.1 341.0h7.41v3.86h-7.41zM431.1 385.6h7.41v3.86h-7.41zM438.4 222.2h7.41v3.86h-7.41zM438.4 248.2h7.41v3.86h-7.41zM438.4 255.7h7.41v3.86h-7.41zM438.4 263.1h7.41v3.86h-7.41zM438.4 292.8h7.41v3.86h-7.41zM445.6 207.4h7.41v3.86h-7.41zM445.6 237.1h7.41v3.86h-7.41zM445.6 359.6h7.41v3.86h-7.41zM445.6 370.7h7.41v3.86h-7.41zM445.6 378.2h7.41v3.86h-7.41zM452.9 248.2h7.41v3.86h-7.41zM452.9 259.4h7.41v3.86h-7.41zM452.9 266.8h7.41v3.86h-7.41zM452.9 281.6h7.41v3.86h-7.41zM452.9 292.8h7.41v3.86h-7.41zM452.9 296.5h7.41v3.86h-7.41zM452.9 311.3h7.41v3.86h-7.41zM452.9 370.7h7.41v3.86h-7.41zM452.9 378.2h7.41v3.86h-7.41zM460.2 207.4h7.41v3.86h-7.41zM460.2 237.1h7.41v3.86h-7.41zM460.2 259.4h7.41v3.86h-7.41zM460.2 281.6h7.41v3.86h-7.41zM460.2 289.1h7.41v3.86h-7.41zM460.2 315.1h7.41v3.86h-7.41zM460.2 359.6h7.41v3.86h-7.41zM460.2 370.7h7.41v3.86h-7.41zM467.4 211.1h7.41v3.86h-7.41zM467.4 285.4h7.41v3.86h-7.41zM467.4 307.6h7.41v3.86h-7.41zM467.4 352.2h7.41v3.86h-7.41zM467.4 378.2h7.41v3.86h-7.41zM474.7 218.5h7.41v3.86h-7.41zM474.7 226.0h7.41v3.86h-7.41zM474.7 263.1h7.41v3.86h-7.41zM474.7 270.5h7.41v3.86h-7.41zM474.7 381.9h7.41v3.86h-7.41zM482.0 222.2h7.41v3.86h-7.41zM482.0 226.0h7.41v3.86h-7.41zM482.0 263.1h7.41v3.86h-7.41zM482.0 292.8h7.41v3.86h-7.41zM482.0 296.5h7.41v3.86h-7.41zM482.0 329.9h7.41v3.86h-7.41zM482.0 355.9h7.41v3.86h-7.41zM482.0 367.0h7.41v3.86h-7.41zM489.2 296.5h7.41v3.86h-7.41zM489.2 329.9h7.41v3.86h-7.41zM489.2 370.7h7.41v3.86h-7.41zM496.5 233.4h7.41v3.86h-7.41zM496.5 259.4h7.41v3.86h-7.41zM496.5 274.2h7.41v3.86h-7.41zM496.5 292.8h7.41v3.86h-7.41zM496.5 296.5h7.41v3.86h-7.41zM496.5 300.2h7.41v3.86h-7.41zM496.5 315.1h7.41v3.86h-7.41zM496.5 329.9h7.41v3.86h-7.41zM496.5 381.9h7.41v3.86h-7.41zM503.7 226.0h7.41v3.86h-7.41zM503.7 237.1h7.41v3.86h-7.41zM503.7 277.9h7.41v3.86h-7.41zM503.7 285.4h7.41v3.86h-7.41zM503.7 292.8h7.41v3.86h-7.41zM503.7 296.5h7.41v3.86h-7.41zM503.7 311.3h7.41v3.86h-7.41zM503.7 318.8h7.41v3.86h-7.41zM503.7 322.5h7.41v3.86h-7.41zM503.7 326.2h7.41v3.86h-7.41zM503.7 363.3h7.41v3.86h-7.41zM271.4 404.1h7.41v3.86h-7.41zM271.4 415.3h7.41v3.86h-7.41zM271.4 426.4h7.41v3.86h-7.41zM271.4 437.5h7.41v3.86h-7.41zM271.4 444.9h7.41v3.86h-7.41zM271.4 467.2h7.41v3.86h-7.41zM271.4 470.9h7.41v3.86h-7.41zM271.4 485.7h7.41v3.86h-7.41zM271.4 493.1h7.41v3.86h-7.41zM271.4 496.8h7.41v3.86h-7.41zM271.4 500.5h7.41v3.86h-7.41zM271.4 508.0h7.41v3.86h-7.41zM271.4 530.2h7.41v3.86h-7.41zM271.4 537.6h7.41v3.86h-7.41zM271.4 541.3h7.41v3.86h-7.41zM271.4 552.5h7.41v3.86h-7.41zM271.4 563.6h7.41v3.86h-7.41zM271.4 567.3h7.41v3.86h-7.41zM278.6 404.1h7.41v3.86h-7.41zM278.6 415.3h7.41v3.86h-7.41zM278.6 444.9h7.41v3.86h-7.41zM278.6 459.8h7.41v3.86h-7.41zM278.6 489.4h7.41v3.86h-7.41zM278.6 500.5h7.41v3.86h-7.41zM278.6 504.3h7.41v3.86h-7.41zM278.6 526.5h7.41v3.86h-7.41zM278.6 541.3h7.41v3.86h-7.41zM278.6 548.8h7.41v3.86h-7.41zM278.6 559.9h7.41v3.86h-7.41zM278.6 563.6h7.41v3.86h-7.41zM285.9 407.8h7.41v3.86h-7.41zM285.9 415.3h7.41v3.86h-7.41zM285.9 419.0h7.41v3.86h-7.41zM285.9 426.4h7.41v3.86h-7.41zM285.9 433.8h7.41v3.86h-7.41zM285.9 441.2h7.41v3.86h-7.41zM285.9 444.9h7.41v3.86h-7.41zM285.9 463.5h7.41v3.86h-7.41zM285.9 470.9h7.41v3.86h-7.41zM285.9 474.6h7.41v3.86h-7.41zM285.9 478.3h7.41v3.86h-7.41zM285.9 482.0h7.41v3.86h-7.41zM285.9 489.4h7.41v3.86h-7.41zM285.9 504.3h7.41v3.86h-7.41zM285.9 508.0h7.41v3.86h-7.41zM285.9 526.5h7.41v3.86h-7.41zM285.9 552.5h7.41v3.86h-7.41zM285.9 559.9h7.41v3.86h-7.41zM285.9 567.3h7.41v3.86h-7.41zM293.1 396.7h7.41v3.86h-7.41zM293.1 407.8h7.41v3.86h-7.41zM293.1 419.0h7.41v3.86h-7.41zM293.1 441.2h7.41v3.86h-7.41zM293.1 452.3h7.41v3.86h-7.41zM293.1 493.1h7.41v3.86h-7.41zM293.1 504.3h7.41v3.86h-7.41zM293.1 530.2h7.41v3.86h-7.41zM293.1 537.6h7.41v3.86h-7.41zM293.1 545.0h7.41v3.86h-7.41zM293.1 552.5h7.41v3.86h-7.41zM293.1 559.9h7.41v3.86h-7.41zM293.1 567.3h7.41v3.86h-7.41zM300.4 474.6h7.41v3.86h-7.41zM314.9 548.8h7.41v3.86h-7.41zM329.5 393.0h7.41v3.86h-7.41zM329.5 474.6h7.41v3.86h-7.41zM329.5 496.8h7.41v3.86h-7.41zM329.5 519.1h7.41v3.86h-7.41zM329.5 537.6h7.41v3.86h-7.41zM344.0 396.7h7.41v3.86h-7.41zM344.0 415.3h7.41v3.86h-7.41zM344.0 437.5h7.41v3.86h-7.41zM344.0 508.0h7.41v3.86h-7.41zM344.0 511.7h7.41v3.86h-7.41zM351.2 489.4h7.41v3.86h-7.41zM351.2 508.0h7.41v3.86h-7.41zM351.2 530.2h7.41v3.86h-7.41zM351.2 548.8h7.41v3.86h-7.41zM351.2 567.3h7.41v3.86h-7.41zM358.5 415.3h7.41v3.86h-7.41zM358.5 419.0h7.41v3.86h-7.41zM358.5 426.4h7.41v3.86h-7.41zM358.5 437.5h7.41v3.86h-7.41zM358.5 467.2h7.41v3.86h-7.41zM358.5 478.3h7.41v3.86h-7.41zM358.5 482.0h7.41v3.86h-7.41zM358.5 485.7h7.41v3.86h-7.41zM358.5 493.1h7.41v3.86h-7.41zM358.5 533.9h7.41v3.86h-7.41zM358.5 545.0h7.41v3.86h-7.41zM358.5 559.9h7.41v3.86h-7.41zM365.8 400.4h7.41v3.86h-7.41zM365.8 404.1h7.41v3.86h-7.41zM365.8 415.3h7.41v3.86h-7.41zM365.8 437.5h7.41v3.86h-7.41zM365.8 441.2h7.41v3.86h-7.41zM365.8 444.9h7.41v3.86h-7.41zM365.8 456.0h7.41v3.86h-7.41zM365.8 459.8h7.41v3.86h-7.41zM365.8 467.2h7.41v3.86h-7.41zM365.8 489.4h7.41v3.86h-7.41zM365.8 496.8h7.41v3.86h-7.41zM365.8 552.5h7.41v3.86h-7.41zM365.8 556.2h7.41v3.86h-7.41zM373.0 426.4h7.41v3.86h-7.41zM373.0 448.6h7.41v3.86h-7.41zM373.0 459.8h7.41v3.86h-7.41zM373.0 482.0h7.41v3.86h-7.41zM373.0 485.7h7.41v3.86h-7.41zM373.0 493.1h7.41v3.86h-7.41zM373.0 522.8h7.41v3.86h-7.41zM380.3 407.8h7.41v3.86h-7.41zM380.3 444.9h7.41v3.86h-7.41zM380.3 448.6h7.41v3.86h-7.41zM380.3 456.0h7.41v3.86h-7.41zM380.3 470.9h7.41v3.86h-7.41zM380.3 474.6h7.41v3.86h-7.41zM380.3 482.0h7.41v3.86h-7.41zM380.3 485.7h7.41v3.86h-7.41zM380.3 508.0h7.41v3.86h-7.41zM380.3 515.4h7.41v3.86h-7.41zM380.3 545.0h7.41v3.86h-7.41zM380.3 556.2h7.41v3.86h-7.41zM387.5 437.5h7.41v3.86h-7.41zM387.5 485.7h7.41v3.86h-7.41zM387.5 541.3h7.41v3.86h-7.41zM387.5 559.9h7.41v3.86h-7.41zM387.5 567.3h7.41v3.86h-7.41zM394.8 426.4h7.41v3.86h-7.41zM394.8 430.1h7.41v3.86h-7.41zM394.8 489.4h7.41v3.86h-7.41zM394.8 493.1h7.41v3.86h-7.41zM394.8 511.7h7.41v3.86h-7.41zM402.1 430.1h7.41v3.86h-7.41zM402.1 444.9h7.41v3.86h-7.41zM402.1 448.6h7.41v3.86h-7.41zM402.1 456.0h7.41v3.86h-7.41zM402.1 463.5h7.41v3.86h-7.41zM402.1 485.7h7.41v3.86h-7.41zM402.1 493.1h7.41v3.86h-7.41zM402.1 496.8h7.41v3.86h-7.41zM402.1 533.9h7.41v3.86h-7.41zM409.3 393.0h7.41v3.86h-7.41zM409.3 426.4h7.41v3.86h-7.41zM409.3 456.0h7.41v3.86h-7.41zM409.3 485.7h7.41v3.86h-7.41zM409.3 489.4h7.41v3.86h-7.41zM409.3 519.1h7.41v3.86h-7.41zM409.3 522.8h7.41v3.86h-7.41zM409.3 533.9h7.41v3.86h-7.41zM416.6 393.0h7.41v3.86h-7.41zM416.6 541.3h7.41v3.86h-7.41zM416.6 567.3h7.41v3.86h-7.41zM423.9 400.4h7.41v3.86h-7.41zM423.9 422.7h7.41v3.86h-7.41zM423.9 511.7h7.41v3.86h-7.41zM431.1 422.7h7.41v3.86h-7.41zM431.1 430.1h7.41v3.86h-7.41zM431.1 552.5h7.41v3.86h-7.41zM438.4 404.1h7.41v3.86h-7.41zM438.4 433.8h7.41v3.86h-7.41zM438.4 470.9h7.41v3.86h-7.41zM438.4 530.2h7.41v3.86h-7.41zM452.9 396.7h7.41v3.86h-7.41zM452.9 411.5h7.41v3.86h-7.41zM452.9 415.3h7.41v3.86h-7.41zM452.9 426.4h7.41v3.86h-7.41zM452.9 459.8h7.41v3.86h-7.41zM452.9 470.9h7.41v3.86h-7.41zM452.9 522.8h7.41v3.86h-7.41zM452.9 567.3h7.41v3.86h-7.41zM467.4 426.4h7.41v3.86h-7.41zM467.4 482.0h7.41v3.86h-7.41zM467.4 559.9h7.41v3.86h-7.41zM474.7 422.7h7.41v3.86h-7.41zM474.7 474.6h7.41v3.86h-7.41zM482.0 456.0h7.41v3.86h-7.41zM482.0 508.0h7.41v3.86h-7.41zM482.0 515.4h7.41v3.86h-7.41zM489.2 411.5h7.41v3.86h-7.41zM489.2 415.3h7.41v3.86h-7.41zM489.2 478.3h7.41v3.86h-7.41zM489.2 489.4h7.41v3.86h-7.41zM489.2 526.5h7.41v3.86h-7.41zM496.5 415.3h7.41v3.86h-7.41zM496.5 426.4h7.41v3.86h-7.41zM496.5 433.8h7.41v3.86h-7.41zM496.5 519.1h7.41v3.86h-7.41zM503.7 407.8h7.41v3.86h-7.41zM503.7 415.3h7.41v3.86h-7.41zM503.7 489.4h7.41v3.86h-7.41zM503.7 493.1h7.41v3.86h-7.41z"/>
<path fill="#fbf6a7" d="M220.5 270.5h7.41v3.86h-7.41zM220.5 277.9h7.41v3.86h-7.41zM220.5 326.2h7.41v3.86h-7.41zM227.8 211.1h7.41v3.86h-7.41zM227.8 214.8h7.41v3.86h-7.41zM227.8 226.0h7.41v3.86h-7.41zM227.8 229.7h7.41v3.86h-7.41zM227.8 233.4h7.41v3.86h-7.41zM227.8 240.8h7.41v3.86h-7.41zM227.8 244.5h7.41v3.86h-7.41zM227.8 248.2h7.41v3.86h-7.41zM227.8 255.7h7.41v3.86h-7.41zM227.8 266.8h7.41v3.86h-7.41zM227.8 270.5h7.41v3.86h-7.41zM227.8 285.4h7.41v3.86h-7.41zM227.8 292.8h7.41v3.86h-7.41zM227.8 300.2h7.41v3.86h-7.41zM227.8 303.9h7.41v3.86h-7.41zM227.8 307.6h7.41v3.86h-7.41zM227.8 318.8h7.41v3.86h-7.41zM227.8 322.5h7.41v3.86h-7.41zM227.8 326.2h7.41v3.86h-7.41zM227.8 333.6h7.41v3.86h-7.41zM227.8 370.7h7.41v3.86h-7.41zM227.8 374.5h7.41v3.86h-7.41zM227.8 378.2h7.41v3.86h-7.41zM227.8 381.9h7.41v3.86h-7.41zM235.0 211.1h7.41v3.86h-7.41zM235.0 229.7h7.41v3.86h-7.41zM235.0 244.5h7.41v3.86h-7.41zM235.0 251.9h7.41v3.86h-7.41zM235.0 259.4h7.41v3.86h-7.41zM235.0 270.5h7.41v3.86h-7.41zM235.0 274.2h7.41v3.86h-7.41zM235.0 285.4h7.41v3.86h-7.41zM235.0 292.8h7.41v3.86h-7.41zM235.0 296.5h7.41v3.86h-7.41zM235.0 303.9h7.41v3.86h-7.41zM235.0 322.5h7.41v3.86h-7.41zM235.0 326.2h7.41v3.86h-7.41zM235.0 329.9h7.41v3.86h-7.41zM235.0 337.3h7.41v3.86h-7.41zM235.0 352.2h7.41v3.86h-7.41zM235.0 355.9h7.41v3.86h-7.41zM235.0 359.6h7.41v3.86h-7.41zM235.0 374.5h7.41v3.86h-7.41zM242.3 207.4h7.41v3.86h-7.41zM242.3 229.7h7.41v3.86h-7.41zM242.3 244.5h7.41v3.86h-7.41zM242.3 259.4h7.41v3.86h-7.41zM242.3 266.8h7.41v3.86h-7.41zM242.3 270.5h7.41v3.86h-7.41zM242.3 281.6h7.41v3.86h-7.41zM242.3 296.5h7.41v3.86h-7.41zM242.3 315.1h7.41v3.86h-7.41zM242.3 322.5h7.41v3.86h-7.41zM242.3 333.6h7.41v3.86h-7.41zM242.3 337.3h7.41v3.86h-7.41zM242.3 348.5h7.41v3.86h-7.41zM242.3 352.2h7.41v3.86h-7.41zM242.3 370.7h7.41v3.86h-7.41zM242.3 374.5h7.41v3.86h-7.41zM249.6 211.1h7.41v3.86h-7.41zM249.6 218.5h7.41v3.86h-7.41zM249.6 229.7h7.41v3.86h-7.41zM249.6 233.4h7.41v3.86h-7.41zM249.6 237.1h7.41v3.86h-7.41zM249.6 255.7h7.41v3.86h-7.41zM249.6 281.6h7.41v3.86h-7.41zM249.6 292.8h7.41v3.86h-7.41zM249.6 296.5h7.41v3.86h-7.41zM249.6 300.2h7.41v3.86h-7.41zM249.6 311.3h7.41v3.86h-7.41zM249.6 344.8h7.41v3.86h-7.41zM249.6 348.5h7.41v3.86h-7.41zM249.6 352.2h7.41v3.86h-7.41zM249.6 359.6h7.41v3.86h-7.41zM249.6 363.3h7.41v3.86h-7.41zM249.6 367.0h7.41v3.86h-7.41zM249.6 370.7h7.41v3.86h-7.41zM256.8 207.4h7.41v3.86h-7.41zM256.8 222.2h7.41v3.86h-7.41zM256.8 226.0h7.41v3.86h-7.41zM256.8 255.7h7.41v3.86h-7.41zM256.8 263.1h7.41v3.86h-7.41zM256.8 266.8h7.41v3.86h-7.41zM256.8 292.8h7.41v3.86h-7.41zM256.8 300.2h7.41v3.86h-7.41zM256.8 303.9h7.41v3.86h-7.41zM256.8 307.6h7.41v3.86h-7.41zM256.8 322.5h7.41v3.86h-7.41zM256.8 329.9h7.41v3.86h-7.41zM256.8 341.0h7.41v3.86h-7.41zM256.8 352.2h7.41v3.86h-7.41zM256.8 355.9h7.41v3.86h-7.41zM256.8 363.3h7.41v3.86h-7.41zM256.8 370.7h7.41v3.86h-7.41zM256.8 374.5h7.41v3.86h-7.41zM256.8 385.6h7.41v3.86h-7.41zM264.1 211.1h7.41v3.86h-7.41zM264.1 244.5h7.41v3.86h-7.41zM264.1 248.2h7.41v3.86h-7.41zM264.1 259.4h7.41v3.86h-7.41zM264.1 266.8h7.41v3.86h-7.41zM264.1 270.5h7.41v3.86h-7.41zM264.1 285.4h7.41v3.86h-7.41zM264.1 289.1h7.41v3.86h-7.41zM264.1 292.8h7.41v3.86h-7.41zM264.1 303.9h7.41v3.86h-7.41zM264.1 322.5h7.41v3.86h-7.41zM264.1 326.2h7.41v3.86h-7.41zM264.1 344.8h7.41v3.86h-7.41zM264.1 348.5h7.41v3.86h-7.41zM264.1 352.2h7.41v3.86h-7.41zM264.1 359.6h7.41v3.86h-7.41zM264.1 363.3h7.41v3.86h-7.41zM264.1 370.7h7.41v3.86h-7.41zM264.1 378.2h7.41v3.86h-7.41zM264.1 385.6h7.41v3.86h-7.41zM409.3 233.4h7.41v3.86h-7.41zM416.6 233.4h7.41v3.86h-7.41zM416.6 263.1h7.41v3.86h-7.41zM416.6 277.9h7.41v3.86h-7.41zM416.6 326.2h7.41v3.86h-7.41zM416.6 329.9h7.41v3.86h-7.41zM416.6 370.7h7.41v3.86h-7.41zM438.4 378.2h7.41v3.86h-7.41zM445.6 229.7h7.41v3.86h-7.41zM445.6 341.0h7.41v3.86h-7.41zM460.2 222.2h7.41v3.86h-7.41zM467.4 344.8h7.41v3.86h-7.41zM474.7 251.9h7.41v3.86h-7.41zM474.7 266.8h7.41v3.86h-7.41zM474.7 274.2h7.41v3.86h-7.41zM474.7 337.3h7.41v3.86h-7.41zM489.2 226.0h7.41v3.86h-7.41zM496.5 289.1h7.41v3.86h-7.41zM503.7 378.2h7.41v3.86h-7.41zM300.4 389.3h7.41v3.86h-7.41zM300.4 396.7h7.41v3.86h-7.41zM300.4 400.4h7.41v3.86h-7.41zM300.4 411.5h7.41v3.86h-7.41zM300.4 430.1h7.41v3.86h-7.41zM300.4 441.2h7.41v3.86h-7.41zM307.7 400.4h7.41v3.86h-7.41zM307.7 411.5h7.41v3.86h-7.41zM307.7 419.0h7.41v3.86h-7.41zM307.7 422.7h7.41v3.86h-7.41zM307.7 430.1h7.41v3.86h-7.41zM307.7 433.8h7.41v3.86h-7.41zM307.7 448.6h7.41v3.86h-7.41zM307.7 459.8h7.41v3.86h-7.41zM307.7 467.2h7.41v3.86h-7.41zM307.7 485.7h7.41v3.86h-7.41zM307.7 504.3h7.41v3.86h-7.41zM307.7 526.5h7.41v3.86h-7.41zM314.9 419.0h7.41v3.86h-7.41zM314.9 430.1h7.41v3.86h-7.41zM314.9 444.9h7.41v3.86h-7.41zM314.9 489.4h7.41v3.86h-7.41zM314.9 552.5h7.41v3.86h-7.41zM314.9 567.3h7.41v3.86h-7.41zM322.2 393.0h7.41v3.86h-7.41zM322.2 400.4h7.41v3.86h-7.41zM322.2 433.8h7.41v3.86h-7.41zM322.2 444.9h7.41v3.86h-7.41zM322.2 474.6h7.41v3.86h-7.41zM322.2 489.4h7.41v3.86h-7.41zM322.2 493.1h7.41v3.86h-7.41zM322.2 508.0h7.41v3.86h-7.41zM322.2 515.4h7.41v3.86h-7.41zM322.2 522.8h7.41v3.86h-7.41zM322.2 537.6h7.41v3.86h-7.41zM322.2 552.5h7.41v3.86h-7.41zM329.5 411.5h7.41v3.86h-7.41zM329.5 430.1h7.41v3.86h-7.41zM329.5 441.2h7.41v3.86h-7.41zM329.5 448.6h7.41v3.86h-7.41zM329.5 508.0h7.41v3.86h-7.41zM329.5 533.9h7.41v3.86h-7.41zM336.7 407.8h7.41v3.86h-7.41zM336.7 422.7h7.41v3.86h-7.41zM336.7 437.5h7.41v3.86h-7.41zM336.7 441.2h7.41v3.86h-7.41zM336.7 444.9h7.41v3.86h-7.41zM336.7 459.8h7.41v3.86h-7.41zM336.7 470.9h7.41v3.86h-7.41zM336.7 478.3h7.41v3.86h-7.41zM336.7 504.3h7.41v3.86h-7.41zM336.7 548.8h7.41v3.86h-7.41zM336.7 556.2h7.41v3.86h-7.41zM358.5 452.3h7.41v3.86h-7.41zM365.8 548.8h7.41v3.86h-7.41zM387.5 548.8h7.41v3.86h-7.41zM409.3 500.5h7.41v3.86h-7.41zM452.9 448.6h7.41v3.86h-7.41zM482.0 485.7h7.41v3.86h-7.41zM496.5 559.9h7.41v3.86h-7.41z"/>
<path fill="#fbf598" d="M227.8 218.5h7.41v3.86h-7.41zM227.8 222.2h7.41v3.86h-7.41zM227.8 251.9h7.41v3.86h-7.41zM227.8 259.4h7.41v3.86h-7.41zM227.8 263.1h7.41v3.86h-7.41zM227.8 281.6h7.41v3.86h-7.41zM227.8 289.1h7.41v3.86h-7.41zM227.8 315.1h7.41v3.86h-7.41zM227.8 352.2h7.41v3.86h-7.41zM227.8 363.3h7.41v3.86h-7.41zM235.0 207.4h7.41v3.86h-7.41zM235.0 222.2h7.41v3.86h-7.41zM235.0 233.4h7.41v3.86h-7.41zM235.0 263.1h7.41v3.86h-7.41zM235.0 300.2h7.41v3.86h-7.41zM235.0 344.8h7.41v3.86h-7.41zM235.0 348.5h7.41v3.86h-7.41zM235.0 385.6h7.41v3.86h-7.41zM242.3 211.1h7.41v3.86h-7.41zM242.3 214.8h7.41v3.86h-7.41zM242.3 218.5h7.41v3.86h-7.41zM242.3 222.2h7.41v3.86h-7.41zM242.3 233.4h7.41v3.86h-7.41zM242.3 240.8h7.41v3.86h-7.41zM242.3 251.9h7.41v3.86h-7.41zM242.3 292.8h7.41v3.86h-7.41zM242.3 311.3h7.41v3.86h-7.41zM242.3 318.8h7.41v3.86h-7.41zM242.3 329.9h7.41v3.86h-7.41zM242.3 367.0h7.41v3.86h-7.41zM242.3 381.9h7.41v3.86h-7.41zM242.3 385.6h7.41v3.86h-7.41zM249.6 214.8h7.41v3.86h-7.41zM249.6 222.2h7.41v3.86h-7.41zM249.6 289.1h7.41v3.86h-7.41zM249.6 315.1h7.41v3.86h-7.41zM249.6 329.9h7.41v3.86h-7.41zM249.6 337.3h7.41v3.86h-7.41zM256.8 233.4h7.41v3.86h-7.41zM256.8 251.9h7.41v3.86h-7.41zM256.8 281.6h7.41v3.86h-7.41zM256.8 289.1h7.41v3.86h-7.41zM256.8 296.5h7.41v3.86h-7.41zM256.8 311.3h7.41v3.86h-7.41zM256.8 318.8h7.41v3.86h-7.41zM256.8 333.6h7.41v3.86h-7.41zM256.8 348.5h7.41v3.86h-7.41zM264.1 207.4h7.41v3.86h-7.41zM264.1 218.5h7.41v3.86h-7.41zM264.1 226.0h7.41v3.86h-7.41zM264.1 229.7h7.41v3.86h-7.41zM264.1 233.4h7.41v3.86h-7.41zM264.1 255.7h7.41v3.86h-7.41zM264.1 263.1h7.41v3.86h-7.41zM264.1 281.6h7.41v3.86h-7.41zM264.1 300.2h7.41v3.86h-7.41zM264.1 311.3h7.41v3.86h-7.41zM264.1 318.8h7.41v3.86h-7.41zM264.1 333.6h7.41v3.86h-7.41zM264.1 374.5h7.41v3.86h-7.41zM264.1 381.9h7.41v3.86h-7.41zM445.6 355.9h7.41v3.86h-7.41zM474.7 277.9h7.41v3.86h-7.41zM474.7 311.3h7.41v3.86h-7.41zM474.7 322.5h7.41v3.86h-7.41zM474.7 326.2h7.41v3.86h-7.41zM474.7 355.9h7.41v3.86h-7.41zM489.2 378.2h7.41v3.86h-7.41zM503.7 207.4h7.41v3.86h-7.41zM503.7 355.9h7.41v3.86h-7.41zM307.7 441.2h7.41v3.86h-7.41zM307.7 489.4h7.41v3.86h-7.41zM314.9 537.6h7.41v3.86h-7.41zM322.2 441.2h7.41v3.86h-7.41zM322.2 456.0h7.41v3.86h-7.41zM322.2 563.6h7.41v3.86h-7.41zM329.5 456.0h7.41v3.86h-7.41zM336.7 393.0h7.41v3.86h-7.41zM336.7 411.5h7.41v3.86h-7.41zM336.7 415.3h7.41v3.86h-7.41zM336.7 430.1h7.41v3.86h-7.41zM336.7 456.0h7.41v3.86h-7.41zM336.7 463.5h7.41v3.86h-7.41zM336.7 485.7h7.41v3.86h-7.41zM336.7 508.0h7.41v3.86h-7.41zM336.7 567.3h7.41v3.86h-7.41zM482.0 407.8h7.41v3.86h-7.41z"/>
<path fill="#faf48a" d="M227.8 311.3h7.41v3.86h-7.41zM227.8 344.8h7.41v3.86h-7.41zM227.8 348.5h7.41v3.86h-7.41zM227.8 385.6h7.41v3.86h-7.41zM235.0 226.0h7.41v3.86h-7.41zM235.0 281.6h7.41v3.86h-7.41zM235.0 311.3h7.41v3.86h-7.41zM235.0 318.8h7.41v3.86h-7.41zM235.0 370.7h7.41v3.86h-7.41zM242.3 255.7h7.41v3.86h-7.41zM242.3 289.1h7.41v3.86h-7.41zM249.6 318.8h7.41v3.86h-7.41zM249.6 385.6h7.41v3.86h-7.41zM256.8 218.5h7.41v3.86h-7.41zM264.1 222.2h7.41v3.86h-7.41zM264.1 251.9h7.41v3.86h-7.41zM264.1 329.9h7.41v3.86h-7.41zM402.1 233.4h7.41v3.86h-7.41zM474.7 363.3h7.41v3.86h-7.41zM307.7 552.5h7.41v3.86h-7.41zM474.7 426.4h7.41v3.86h-7.41zM482.0 559.9h7.41v3.86h-7.41z"/>
<path fill="#f9f27b" d="M235.0 255.7h7.41v3.86h-7.41zM438.4 285.4h7.41v3.86h-7.41zM474.7 285.4h7.41v3.86h-7.41zM474.7 341.0h7.41v3.86h-7.41z"/>
<path fill="#cfbcde" d="M271.4 207.4h7.41v3.86h-7.41zM271.4 214.8h7.41v3.86h-7.41zM271.4 222.2h7.41v3.86h-7.41zM271.4 226.0h7.41v3.86h-7.41zM271.4 229.7h7.41v3.86h-7.41zM271.4 233.4h7.41v3.86h-7.41zM271.4 237.1h7.41v3.86h-7.41zM271.4 240.8h7.41v3.86h-7.41zM271.4 244.5h7.41v3.86h-7.41zM271.4 255.7h7.41v3.86h-7.41zM271.4 263.1h7.41v3.86h-7.41zM271.4 274.2h7.41v3.86h-7.41zM271.4 277.9h7.41v3.86h-7.41zM271.4 281.6h7.41v3.86h-7.41zM271.4 285.4h7.41v3.86h-7.41zM271.4 289.1h7.41v3.86h-7.41zM271.4 292.8h7.41v3.86h-7.41zM271.4 296.5h7.41v3.86h-7.41zM271.4 300.2h7.41v3.86h-7.41zM271.4 303.9h7.41v3.86h-7.41zM271.4 307.6h7.41v3.86h-7.41zM271.4 311.3h7.41v3.86h-7.41zM271.4 315.1h7.41v3.86h-7.41zM271.4 318.8h7.41v3.86h-7.41zM271.4 326.2h7.41v3.86h-7.41zM271.4 329.9h7.41v3.86h-7.41zM271.4 333.6h7.41v3.86h-7.41zM271.4 337.3h7.41v3.86h-7.41zM271.4 341.0h7.41v3.86h-7.41zM271.4 344.8h7.41v3.86h-7.41zM271.4 348.5h7.41v3.86h-7.41zM271.4 352.2h7.41v3.86h-7.41zM271.4 355.9h7.41v3.86h-7.41zM271.4 359.6h7.41v3.86h-7.41zM271.4 378.2h7.41v3.86h-7.41zM271.4 385.6h7.41v3.86h-7.41zM278.6 207.4h7.41v3.86h-7.41zM278.6 211.1h7.41v3.86h-7.41zM278.6 214.8h7.41v3.86h-7.41zM278.6 218.5h7.41v3.86h-7.41zM278.6 226.0h7.41v3.86h-7.41zM278.6 229.7h7.41v3.86h-7.41zM278.6 233.4h7.41v3.86h-7.41zM278.6 237.1h7.41v3.86h-7.41zM278.6 240.8h7.41v3.86h-7.41zM278.6 244.5h7.41v3.86h-7.41zM278.6 251.9h7.41v3.86h-7.41zM278.6 255.7h7.41v3.86h-7.41zM278.6 259.4h7.41v3.86h-7.41zM278.6 266.8h7.41v3.86h-7.41zM278.6 270.5h7.41v3.86h-7.41zM278.6 281.6h7.41v3.86h-7.41zM278.6 285.4h7.41v3.86h-7.41zM278.6 307.6h7.41v3.86h-7.41zM278.6 311.3h7.41v3.86h-7.41zM278.6 318.8h7.41v3.86h-7.41zM278.6 322.5h7.41v3.86h-7.41zM278.6 329.9h7.41v3.86h-7.41zM278.6 333.6h7.41v3.86h-7.41zM278.6 337.3h7.41v3.86h-7.41zM278.6 344.8h7.41v3.86h-7.41zM278.6 352.2h7.41v3.86h-7.41zM278.6 355.9h7.41v3.86h-7.41zM278.6 359.6h7.41v3.86h-7.41zM278.6 363.3h7.41v3.86h-7.41zM278.6 378.2h7.41v3.86h-7.41zM278.6 381.9h7.41v3.86h-7.41zM285.9 207.4h7.41v3.86h-7.41zM285.9 218.5h7.41v3.86h-7.41zM285.9 222.2h7.41v3.86h-7.41zM285.9 226.0h7.41v3.86h-7.41zM285.9 229.7h7.41v3.86h-7.41zM285.9 233.4h7.41v3.86h-7.41zM285.9 240.8h7.41v3.86h-7.41zM285.9 248.2h7.41v3.86h-7.41zM285.9 251.9h7.41v3.86h-7.41zM285.9 263.1h7.41v3.86h-7.41zM285.9 270.5h7.41v3.86h-7.41zM285.9 277.9h7.41v3.86h-7.41zM285.9 281.6h7.41v3.86h-7.41zM285.9 285.4h7.41v3.86h-7.41zM285.9 300.2h7.41v3.86h-7.41zM285.9 315.1h7.41v3.86h-7.41zM285.9 326.2h7.41v3.86h-7.41zM285.9 329.9h7.41v3.86h-7.41zM285.9 333.6h7.41v3.86h-7.41zM285.9 341.0h7.41v3.86h-7.41zM285.9 348.5h7.41v3.86h-7.41zM285.9 355.9h7.41v3.86h-7.41zM285.9 370.7h7.41v3.86h-7.41zM285.9 381.9h7.41v3.86h-7.41zM285.9 385.6h7.41v3.86h-7.41zM293.1 218.5h7.41v3.86h-7.41zM293.1 226.0h7.41v3.86h-7.41zM293.1 237.1h7.41v3.86h-7.41zM293.1 240.8h7.41v3.86h-7.41zM293.1 251.9h7.41v3.86h-7.41zM293.1 266.8h7.41v3.86h-7.41zM293.1 285.4h7.41v3.86h-7.41zM293.1 303.9h7.41v3.86h-7.41zM293.1 307.6h7.41v3.86h-7.41zM293.1 329.9h7.41v3.86h-7.41zM293.1 355.9h7.41v3.86h-7.41zM293.1 381.9h7.41v3.86h-7.41zM300.4 211.1h7.41v3.86h-7.41zM300.4 222.2h7.41v3.86h-7.41zM300.4 233.4h7.41v3.86h-7.41zM300.4 255.7h7.41v3.86h-7.41zM300.4 263.1h7.41v3.86h-7.41zM300.4 266.8h7.41v3.86h-7.41zM300.4 270.5h7.41v3.86h-7.41zM300.4 274.2h7.41v3.86h-7.41zM300.4 277.9h7.41v3.86h-7.41zM300.4 281.6h7.41v3.86h-7.41zM300.4 285.4h7.41v3.86h-7.41zM300.4 289.1h7.41v3.86h-7.41zM300.4 292.8h7.41v3.86h-7.41zM300.4 296.5h7.41v3.86h-7.41zM300.4 300.2h7.41v3.86h-7.41zM300.4 303.9h7.41v3.86h-7.41zM300.4 307.6h7.41v3.86h-7.41zM300.4 311.3h7.41v3.86h-7.41zM300.4 318.8h7.41v3.86h-7.41zM300.4 322.5h7.41v3.86h-7.41zM300.4 326.2h7.41v3.86h-7.41zM300.4 329.9h7.41v3.86h-7.41zM300.4 333.6h7.41v3.86h-7.41zM300.4 341.0h7.41v3.86h-7.41zM300.4 344.8h7.41v3.86h-7.41zM300.4 348.5h7.41v3.86h-7.41zM300.4 352.2h7.41v3.86h-7.41zM300.4 381.9h7.41v3.86h-7.41zM307.7 229.7h7.41v3.86h-7.41zM307.7 233.4h7.41v3.86h-7.41zM307.7 237.1h7.41v3.86h-7.41zM307.7 244.5h7.41v3.86h-7.41zM307.7 251.9h7.41v3.86h-7.41zM307.7 263.1h7.41v3.86h-7.41zM307.7 266.8h7.41v3.86h-7.41zM307.7 270.5h7.41v3.86h-7.41zM307.7 285.4h7.41v3.86h-7.41zM307.7 289.1h7.41v3.86h-7.41zM307.7 296.5h7.41v3.86h-7.41zM307.7 311.3h7.41v3.86h-7.41zM307.7 333.6h7.41v3.86h-7.41zM307.7 341.0h7.41v3.86h-7.41zM307.7 352.2h7.41v3.86h-7.41zM307.7 367.0h7.41v3.86h-7.41zM314.9 207.4h7.41v3.86h-7.41zM314.9 214.8h7.41v3.86h-7.41zM314.9 222.2h7.41v3.86h-7.41zM314.9 240.8h7.41v3.86h-7.41zM314.9 244.5h7.41v3.86h-7.41zM314.9 251.9h7.41v3.86h-7.41zM314.9 259.4h7.41v3.86h-7.41zM314.9 263.1h7.41v3.86h-7.41zM314.9 281.6h7.41v3.86h-7.41zM314.9 289.1h7.41v3.86h-7.41zM314.9 300.2h7.41v3.86h-7.41zM314.9 303.9h7.41v3.86h-7.41zM314.9 307.6h7.41v3.86h-7.41zM314.9 311.3h7.41v3.86h-7.41zM322.2 233.4h7.41v3.86h-7.41zM322.2 244.5h7.41v3.86h-7.41zM322.2 266.8h7.41v3.86h-7.41zM322.2 270.5h7.41v3.86h-7.41zM322.2 274.2h7.41v3.86h-7.41zM322.2 277.9h7.41v3.86h-7.41zM322.2 285.4h7.41v3.86h-7.41zM322.2 292.8h7.41v3.86h-7.41zM322.2 296.5h7.41v3.86h-7.41zM322.2 300.2h7.41v3.86h-7.41zM322.2 303.9h7.41v3.86h-7.41zM322.2 307.6h7.41v3.86h-7.41zM322.2 311.3h7.41v3.86h-7.41zM322.2 315.1h7.41v3.86h-7.41zM322.2 318.8h7.41v3.86h-7.41zM322.2 326.2h7.41v3.86h-7.41zM322.2 329.9h7.41v3.86h-7.41zM322.2 333.6h7.41v3.86h-7.41zM322.2 337.3h7.41v3.86h-7.41zM322.2 348.5h7.41v3.86h-7.41zM322.2 355.9h7.41v3.86h-7.41zM322.2 359.6h7.41v3.86h-7.41zM322.2 363.3h7.41v3.86h-7.41zM322.2 367.0h7.41v3.86h-7.41zM329.5 207.4h7.41v3.86h-7.41zM329.5 211.1h7.41v3.86h-7.41zM329.5 214.8h7.41v3.86h-7.41zM329.5 222.2h7.41v3.86h-7.41zM329.5 226.0h7.41v3.86h-7.41zM329.5 229.7h7.41v3.86h-7.41zM329.5 233.4h7.41v3.86h-7.41zM329.5 237.1h7.41v3.86h-7.41zM329.5 240.8h7.41v3.86h-7.41zM329.5 244.5h7.41v3.86h-7.41zM329.5 248.2h7.41v3.86h-7.41zM329.5 251.9h7.41v3.86h-7.41zM329.5 270.5h7.41v3.86h-7.41zM329.5 281.6h7.41v3.86h-7.41zM329.5 285.4h7.41v3.86h-7.41zM329.5 289.1h7.41v3.86h-7.41zM329.5 292.8h7.41v3.86h-7.41zM329.5 303.9h7.41v3.86h-7.41zM329.5 311.3h7.41v3.86h-7.41zM329.5 326.2h7.41v3.86h-7.41zM336.7 211.1h7.41v3.86h-7.41zM336.7 222.2h7.41v3.86h-7.41zM336.7 237.1h7.41v3.86h-7.41zM336.7 240.8h7.41v3.86h-7.41zM336.7 248.2h7.41v3.86h-7.41zM336.7 251.9h7.41v3.86h-7.41zM336.7 255.7h7.41v3.86h-7.41zM336.7 263.1h7.41v3.86h-7.41zM336.7 277.9h7.41v3.86h-7.41zM336.7 281.6h7.41v3.86h-7.41zM336.7 285.4h7.41v3.86h-7.41zM336.7 289.1h7.41v3.86h-7.41zM336.7 292.8h7.41v3.86h-7.41zM336.7 296.5h7.41v3.86h-7.41zM336.7 300.2h7.41v3.86h-7.41zM336.7 307.6h7.41v3.86h-7.41zM336.7 318.8h7.41v3.86h-7.41zM336.7 344.8h7.41v3.86h-7.41zM336.7 352.2h7.41v3.86h-7.41zM336.7 367.0h7.41v3.86h-7.41zM344.0 341.0h7.41v3.86h-7.41zM351.2 251.9h7.41v3.86h-7.41zM351.2 300.2h7.41v3.86h-7.41zM351.2 326.2h7.41v3.86h-7.41zM351.2 352.2h7.41v3.86h-7.41zM351.2 359.6h7.41v3.86h-7.41zM351.2 374.5h7.41v3.86h-7.41zM358.5 378.2h7.41v3.86h-7.41zM358.5 381.9h7.41v3.86h-7.41zM365.8 374.5h7.41v3.86h-7.41zM365.8 378.2h7.41v3.86h-7.41zM373.0 263.1h7.41v3.86h-7.41zM373.0 270.5h7.41v3.86h-7.41zM373.0 322.5h7.41v3.86h-7.41zM373.0 348.5h7.41v3.86h-7.41zM373.0 352.2h7.41v3.86h-7.41zM373.0 355.9h7.41v3.86h-7.41zM373.0 378.2h7.41v3.86h-7.41zM380.3 270.5h7.41v3.86h-7.41zM380.3 344.8h7.41v3.86h-7.41zM380.3 374.5h7.41v3.86h-7.41zM387.5 270.5h7.41v3.86h-7.41zM387.5 285.4h7.41v3.86h-7.41zM387.5 292.8h7.41v3.86h-7.41zM387.5 296.5h7.41v3.86h-7.41zM387.5 300.2h7.41v3.86h-7.41zM387.5 311.3h7.41v3.86h-7.41zM387.5 337.3h7.41v3.86h-7.41zM387.5 355.9h7.41v3.86h-7.41zM387.5 378.2h7.41v3.86h-7.41zM394.8 303.9h7.41v3.86h-7.41zM394.8 337.3h7.41v3.86h-7.41zM394.8 348.5h7.41v3.86h-7.41zM394.8 359.6h7.41v3.86h-7.41zM394.8 378.2h7.41v3.86h-7.41zM394.8 385.6h7.41v3.86h-7.41zM402.1 266.8h7.41v3.86h-7.41zM423.9 218.5h7.41v3.86h-7.41zM423.9 266.8h7.41v3.86h-7.41zM438.4 218.5h7.41v3.86h-7.41zM438.4 337.3h7.41v3.86h-7.41zM445.6 244.5h7.41v3.86h-7.41zM445.6 322.5h7.41v3.86h-7.41zM452.9 300.2h7.41v3.86h-7.41zM460.2 263.1h7.41v3.86h-7.41zM467.4 226.0h7.41v3.86h-7.41zM467.4 359.6h7.41v3.86h-7.41zM489.2 251.9h7.41v3.86h-7.41zM489.2 341.0h7.41v3.86h-7.41zM496.5 237.1h7.41v3.86h-7.41zM496.5 255.7h7.41v3.86h-7.41zM503.7 255.7h7.41v3.86h-7.41zM503.7 281.6h7.41v3.86h-7.41zM206.0 407.8h7.41v3.86h-7.41zM206.0 456.0h7.41v3.86h-7.41zM206.0 470.9h7.41v3.86h-7.41zM206.0 515.4h7.41v3.86h-7.41zM206.0 545.0h7.41v3.86h-7.41zM206.0 552.5h7.41v3.86h-7.41zM213.3 407.8h7.41v3.86h-7.41zM213.3 415.3h7.41v3.86h-7.41zM213.3 452.3h7.41v3.86h-7.41zM213.3 515.4h7.41v3.86h-7.41zM213.3 567.3h7.41v3.86h-7.41zM220.5 422.7h7.41v3.86h-7.41zM220.5 444.9h7.41v3.86h-7.41zM220.5 478.3h7.41v3.86h-7.41zM220.5 522.8h7.41v3.86h-7.41zM227.8 437.5h7.41v3.86h-7.41zM227.8 452.3h7.41v3.86h-7.41zM227.8 470.9h7.41v3.86h-7.41zM227.8 489.4h7.41v3.86h-7.41zM227.8 500.5h7.41v3.86h-7.41zM227.8 526.5h7.41v3.86h-7.41zM227.8 530.2h7.41v3.86h-7.41zM227.8 567.3h7.41v3.86h-7.41zM235.0 463.5h7.41v3.86h-7.41zM235.0 526.5h7.41v3.86h-7.41zM235.0 545.0h7.41v3.86h-7.41zM242.3 422.7h7.41v3.86h-7.41zM242.3 519.1h7.41v3.86h-7.41zM242.3 526.5h7.41v3.86h-7.41zM249.6 504.3h7.41v3.86h-7.41zM249.6 511.7h7.41v3.86h-7.41zM249.6 541.3h7.41v3.86h-7.41zM256.8 389.3h7.41v3.86h-7.41zM256.8 411.5h7.41v3.86h-7.41zM256.8 459.8h7.41v3.86h-7.41zM256.8 478.3h7.41v3.86h-7.41zM256.8 504.3h7.41v3.86h-7.41zM256.8 526.5h7.41v3.86h-7.41zM256.8 541.3h7.41v3.86h-7.41zM256.8 545.0h7.41v3.86h-7.41zM256.8 559.9h7.41v3.86h-7.41zM256.8 563.6h7.41v3.86h-7.41zM264.1 396.7h7.41v3.86h-7.41zM264.1 422.7h7.41v3.86h-7.41zM264.1 441.2h7.41v3.86h-7.41zM264.1 463.5h7.41v3.86h-7.41zM264.1 470.9h7.41v3.86h-7.41zM264.1 482.0h7.41v3.86h-7.41zM264.1 511.7h7.41v3.86h-7.41zM264.1 519.1h7.41v3.86h-7.41zM264.1 526.5h7.41v3.86h-7.41zM264.1 563.6h7.41v3.86h-7.41zM351.2 519.1h7.41v3.86h-7.41zM351.2 537.6h7.41v3.86h-7.41zM351.2 559.9h7.41v3.86h-7.41zM373.0 404.1h7.41v3.86h-7.41zM373.0 537.6h7.41v3.86h-7.41zM380.3 537.6h7.41v3.86h-7.41zM387.5 419.0h7.41v3.86h-7.41zM394.8 407.8h7.41v3.86h-7.41zM394.8 444.9h7.41v3.86h-7.41zM394.8 496.8h7.41v3.86h-7.41zM402.1 511.7h7.41v3.86h-7.41zM409.3 404.1h7.41v3.86h-7.41zM416.6 456.0h7.41v3.86h-7.41zM416.6 482.0h7.41v3.86h-7.41zM416.6 548.8h7.41v3.86h-7.41zM423.9 404.1h7.41v3.86h-7.41zM423.9 448.6h7.41v3.86h-7.41zM423.9 456.0h7.41v3.86h-7.41zM431.1 419.0h7.41v3.86h-7.41zM431.1 526.5h7.41v3.86h-7.41zM431.1 530.2h7.41v3.86h-7.41zM431.1 563.6h7.41v3.86h-7.41zM438.4 493.1h7.41v3.86h-7.41zM438.4 504.3h7.41v3.86h-7.41zM438.4 526.5h7.41v3.86h-7.41zM438.4 533.9h7.41v3.86h-7.41zM445.6 456.0h7.41v3.86h-7.41zM445.6 548.8h7.41v3.86h-7.41zM445.6 556.2h7.41v3.86h-7.41zM452.9 500.5h7.41v3.86h-7.41zM452.9 526.5h7.41v3.86h-7.41zM460.2 430.1h7.41v3.86h-7.41zM460.2 448.6h7.41v3.86h-7.41zM460.2 459.8h7.41v3.86h-7.41zM460.2 504.3h7.41v3.86h-7.41zM460.2 511.7h7.41v3.86h-7.41zM460.2 515.4h7.41v3.86h-7.41zM460.2 522.8h7.41v3.86h-7.41zM460.2 567.3h7.41v3.86h-7.41zM467.4 389.3h7.41v3.86h-7.41zM467.4 456.0h7.41v3.86h-7.41zM467.4 541.3h7.41v3.86h-7.41zM467.4 556.2h7.41v3.86h-7.41zM474.7 396.7h7.41v3.86h-7.41zM474.7 452.3h7.41v3.86h-7.41zM474.7 467.2h7.41v3.86h-7.41zM474.7 500.5h7.41v3.86h-7.41zM474.7 548.8h7.41v3.86h-7.41zM489.2 430.1h7.41v3.86h-7.41zM489.2 444.9h7.41v3.86h-7.41zM489.2 467.2h7.41v3.86h-7.41zM489.2 541.3h7.41v3.86h-7.41zM489.2 563.6h7.41v3.86h-7.41zM496.5 441.2h7.41v3.86h-7.41zM503.7 430.1h7.41v3.86h-7.41zM503.7 441.2h7.41v3.86h-7.41zM503.7 444.9h7.41v3.86h-7.41zM503.7 456.0h7.41v3.86h-7.41z"/>
<path fill="#d8c9e5" d="M271.4 211.1h7.41v3.86h-7.41zM271.4 322.5h7.41v3.86h-7.41zM271.4 363.3h7.41v3.86h-7.41zM271.4 367.0h7.41v3.86h-7.41zM271.4 381.9h7.41v3.86h-7.41zM278.6 222.2h7.41v3.86h-7.41zM278.6 263.1h7.41v3.86h-7.41zM278.6 274.2h7.41v3.86h-7.41zM278.6 289.1h7.41v3.86h-7.41zM278.6 292.8h7.41v3.86h-7.41zM278.6 300.2h7.41v3.86h-7.41zM278.6 315.1h7.41v3.86h-7.41zM278.6 341.0h7.41v3.86h-7.41zM278.6 348.5h7.41v3.86h-7.41zM278.6 367.0h7.41v3.86h-7.41zM278.6 374.5h7.41v3.86h-7.41zM285.9 211.1h7.41v3.86h-7.41zM285.9 214.8h7.41v3.86h-7.41zM285.9 237.1h7.41v3.86h-7.41zM285.9 244.5h7.41v3.86h-7.41zM285.9 255.7h7.41v3.86h-7.41zM285.9 274.2h7.41v3.86h-7.41zM285.9 292.8h7.41v3.86h-7.41zM285.9 296.5h7.41v3.86h-7.41zM285.9 307.6h7.41v3.86h-7.41zM285.9 311.3h7.41v3.86h-7.41zM285.9 318.8h7.41v3.86h-7.41zM285.9 322.5h7.41v3.86h-7.41zM285.9 337.3h7.41v3.86h-7.41zM285.9 344.8h7.41v3.86h-7.41zM285.9 352.2h7.41v3.86h-7.41zM285.9 359.6h7.41v3.86h-7.41zM285.9 363.3h7.41v3.86h-7.41zM285.9 367.0h7.41v3.86h-7.41zM285.9 374.5h7.41v3.86h-7.41zM285.9 378.2h7.41v3.86h-7.41zM293.1 207.4h7.41v3.86h-7.41zM293.1 211.1h7.41v3.86h-7.41zM293.1 214.8h7.41v3.86h-7.41zM293.1 222.2h7.41v3.86h-7.41zM293.1 229.7h7.41v3.86h-7.41zM293.1 233.4h7.41v3.86h-7.41zM293.1 244.5h7.41v3.86h-7.41zM293.1 248.2h7.41v3.86h-7.41zM293.1 255.7h7.41v3.86h-7.41zM293.1 259.4h7.41v3.86h-7.41zM293.1 263.1h7.41v3.86h-7.41zM293.1 270.5h7.41v3.86h-7.41zM293.1 274.2h7.41v3.86h-7.41zM293.1 277.9h7.41v3.86h-7.41zM293.1 281.6h7.41v3.86h-7.41zM293.1 292.8h7.41v3.86h-7.41zM293.1 296.5h7.41v3.86h-7.41zM293.1 300.2h7.41v3.86h-7.41zM293.1 311.3h7.41v3.86h-7.41zM293.1 315.1h7.41v3.86h-7.41zM293.1 318.8h7.41v3.86h-7.41zM293.1 326.2h7.41v3.86h-7.41zM293.1 333.6h7.41v3.86h-7.41zM293.1 337.3h7.41v3.86h-7.41zM293.1 344.8h7.41v3.86h-7.41zM293.1 348.5h7.41v3.86h-7.41zM293.1 352.2h7.41v3.86h-7.41zM293.1 359.6h7.41v3.86h-7.41zM293.1 363.3h7.41v3.86h-7.41zM293.1 370.7h7.41v3.86h-7.41zM293.1 374.5h7.41v3.86h-7.41zM293.1 378.2h7.41v3.86h-7.41zM293.1 385.6h7.41v3.86h-7.41zM300.4 207.4h7.41v3.86h-7.41zM300.4 214.8h7.41v3.86h-7.41zM300.4 226.0h7.41v3.86h-7.41zM300.4 237.1h7.41v3.86h-7.41zM300.4 240.8h7.41v3.86h-7.41zM300.4 244.5h7.41v3.86h-7.41zM300.4 248.2h7.41v3.86h-7.41zM300.4 251.9h7.41v3.86h-7.41zM300.4 259.4h7.41v3.86h-7.41zM307.7 207.4h7.41v3.86h-7.41zM307.7 211.1h7.41v3.86h-7.41zM307.7 214.8h7.41v3.86h-7.41zM307.7 218.5h7.41v3.86h-7.41zM307.7 222.2h7.41v3.86h-7.41zM307.7 226.0h7.41v3.86h-7.41zM307.7 240.8h7.41v3.86h-7.41zM307.7 255.7h7.41v3.86h-7.41zM307.7 259.4h7.41v3.86h-7.41zM314.9 218.5h7.41v3.86h-7.41zM314.9 226.0h7.41v3.86h-7.41zM314.9 229.7h7.41v3.86h-7.41zM314.9 237.1h7.41v3.86h-7.41zM314.9 255.7h7.41v3.86h-7.41zM322.2 207.4h7.41v3.86h-7.41zM322.2 211.1h7.41v3.86h-7.41zM322.2 214.8h7.41v3.86h-7.41zM322.2 218.5h7.41v3.86h-7.41zM322.2 222.2h7.41v3.86h-7.41zM322.2 229.7h7.41v3.86h-7.41zM322.2 237.1h7.41v3.86h-7.41zM322.2 240.8h7.41v3.86h-7.41zM322.2 248.2h7.41v3.86h-7.41zM322.2 251.9h7.41v3.86h-7.41zM322.2 259.4h7.41v3.86h-7.41zM322.2 263.1h7.41v3.86h-7.41zM322.2 281.6h7.41v3.86h-7.41zM322.2 289.1h7.41v3.86h-7.41zM322.2 381.9h7.41v3.86h-7.41zM329.5 218.5h7.41v3.86h-7.41zM329.5 255.7h7.41v3.86h-7.41zM329.5 259.4h7.41v3.86h-7.41zM336.7 207.4h7.41v3.86h-7.41zM336.7 214.8h7.41v3.86h-7.41zM336.7 218.5h7.41v3.86h-7.41zM336.7 226.0h7.41v3.86h-7.41zM336.7 233.4h7.41v3.86h-7.41zM336.7 244.5h7.41v3.86h-7.41zM336.7 259.4h7.41v3.86h-7.41zM344.0 263.1h7.41v3.86h-7.41zM344.0 300.2h7.41v3.86h-7.41zM344.0 303.9h7.41v3.86h-7.41zM344.0 315.1h7.41v3.86h-7.41zM344.0 322.5h7.41v3.86h-7.41zM344.0 329.9h7.41v3.86h-7.41zM344.0 348.5h7.41v3.86h-7.41zM344.0 352.2h7.41v3.86h-7.41zM344.0 367.0h7.41v3.86h-7.41zM344.0 370.7h7.41v3.86h-7.41zM351.2 248.2h7.41v3.86h-7.41zM351.2 270.5h7.41v3.86h-7.41zM351.2 303.9h7.41v3.86h-7.41zM351.2 315.1h7.41v3.86h-7.41zM351.2 318.8h7.41v3.86h-7.41zM351.2 322.5h7.41v3.86h-7.41zM351.2 344.8h7.41v3.86h-7.41zM351.2 381.9h7.41v3.86h-7.41zM358.5 248.2h7.41v3.86h-7.41zM358.5 270.5h7.41v3.86h-7.41zM358.5 315.1h7.41v3.86h-7.41zM358.5 326.2h7.41v3.86h-7.41zM358.5 348.5h7.41v3.86h-7.41zM358.5 359.6h7.41v3.86h-7.41zM358.5 374.5h7.41v3.86h-7.41zM365.8 270.5h7.41v3.86h-7.41zM365.8 300.2h7.41v3.86h-7.41zM365.8 315.1h7.41v3.86h-7.41zM365.8 318.8h7.41v3.86h-7.41zM365.8 344.8h7.41v3.86h-7.41zM365.8 348.5h7.41v3.86h-7.41zM365.8 355.9h7.41v3.86h-7.41zM365.8 381.9h7.41v3.86h-7.41zM373.0 326.2h7.41v3.86h-7.41zM373.0 329.9h7.41v3.86h-7.41zM373.0 359.6h7.41v3.86h-7.41zM373.0 370.7h7.41v3.86h-7.41zM373.0 381.9h7.41v3.86h-7.41zM380.3 259.4h7.41v3.86h-7.41zM380.3 296.5h7.41v3.86h-7.41zM380.3 329.9h7.41v3.86h-7.41zM380.3 348.5h7.41v3.86h-7.41zM380.3 352.2h7.41v3.86h-7.41zM380.3 355.9h7.41v3.86h-7.41zM380.3 359.6h7.41v3.86h-7.41zM387.5 266.8h7.41v3.86h-7.41zM387.5 274.2h7.41v3.86h-7.41zM387.5 277.9h7.41v3.86h-7.41zM387.5 281.6h7.41v3.86h-7.41zM387.5 307.6h7.41v3.86h-7.41zM387.5 359.6h7.41v3.86h-7.41zM387.5 363.3h7.41v3.86h-7.41zM394.8 274.2h7.41v3.86h-7.41zM394.8 307.6h7.41v3.86h-7.41zM394.8 315.1h7.41v3.86h-7.41zM394.8 326.2h7.41v3.86h-7.41zM394.8 344.8h7.41v3.86h-7.41zM394.8 352.2h7.41v3.86h-7.41zM394.8 370.7h7.41v3.86h-7.41zM394.8 374.5h7.41v3.86h-7.41zM394.8 381.9h7.41v3.86h-7.41zM402.1 259.4h7.41v3.86h-7.41zM409.3 251.9h7.41v3.86h-7.41zM409.3 259.4h7.41v3.86h-7.41zM423.9 337.3h7.41v3.86h-7.41zM431.1 255.7h7.41v3.86h-7.41zM438.4 259.4h7.41v3.86h-7.41zM452.9 207.4h7.41v3.86h-7.41zM452.9 237.1h7.41v3.86h-7.41zM452.9 274.2h7.41v3.86h-7.41zM452.9 337.3h7.41v3.86h-7.41zM452.9 363.3h7.41v3.86h-7.41zM467.4 207.4h7.41v3.86h-7.41zM467.4 218.5h7.41v3.86h-7.41zM467.4 289.1h7.41v3.86h-7.41zM467.4 381.9h7.41v3.86h-7.41zM467.4 385.6h7.41v3.86h-7.41zM482.0 218.5h7.41v3.86h-7.41zM482.0 281.6h7.41v3.86h-7.41zM482.0 311.3h7.41v3.86h-7.41zM489.2 211.1h7.41v3.86h-7.41zM489.2 229.7h7.41v3.86h-7.41zM489.2 240.8h7.41v3.86h-7.41zM489.2 263.1h7.41v3.86h-7.41zM489.2 281.6h7.41v3.86h-7.41zM489.2 367.0h7.41v3.86h-7.41zM496.5 222.2h7.41v3.86h-7.41zM496.5 248.2h7.41v3.86h-7.41zM496.5 307.6h7.41v3.86h-7.41zM503.7 233.4h7.41v3.86h-7.41zM206.0 433.8h7.41v3.86h-7.41zM213.3 508.0h7.41v3.86h-7.41zM227.8 407.8h7.41v3.86h-7.41zM227.8 422.7h7.41v3.86h-7.41zM227.8 441.2h7.41v3.86h-7.41zM227.8 448.6h7.41v3.86h-7.41zM227.8 533.9h7.41v3.86h-7.41zM227.8 548.8h7.41v3.86h-7.41zM227.8 552.5h7.41v3.86h-7.41zM235.0 430.1h7.41v3.86h-7.41zM235.0 489.4h7.41v3.86h-7.41zM242.3 467.2h7.41v3.86h-7.41zM242.3 482.0h7.41v3.86h-7.41zM256.8 548.8h7.41v3.86h-7.41zM264.1 430.1h7.41v3.86h-7.41zM264.1 522.8h7.41v3.86h-7.41zM264.1 545.0h7.41v3.86h-7.41zM264.1 552.5h7.41v3.86h-7.41zM264.1 556.2h7.41v3.86h-7.41zM351.2 444.9h7.41v3.86h-7.41zM351.2 456.0h7.41v3.86h-7.41zM351.2 459.8h7.41v3.86h-7.41zM351.2 474.6h7.41v3.86h-7.41zM351.2 526.5h7.41v3.86h-7.41zM365.8 519.1h7.41v3.86h-7.41zM373.0 389.3h7.41v3.86h-7.41zM373.0 400.4h7.41v3.86h-7.41zM373.0 526.5h7.41v3.86h-7.41zM387.5 556.2h7.41v3.86h-7.41zM394.8 526.5h7.41v3.86h-7.41zM402.1 415.3h7.41v3.86h-7.41zM402.1 478.3h7.41v3.86h-7.41zM402.1 482.0h7.41v3.86h-7.41zM402.1 526.5h7.41v3.86h-7.41zM416.6 396.7h7.41v3.86h-7.41zM416.6 407.8h7.41v3.86h-7.41zM416.6 444.9h7.41v3.86h-7.41zM416.6 452.3h7.41v3.86h-7.41zM416.6 459.8h7.41v3.86h-7.41zM416.6 463.5h7.41v3.86h-7.41zM416.6 519.1h7.41v3.86h-7.41zM423.9 504.3h7.41v3.86h-7.41zM423.9 522.8h7.41v3.86h-7.41zM423.9 526.5h7.41v3.86h-7.41zM431.1 400.4h7.41v3.86h-7.41zM431.1 426.4h7.41v3.86h-7.41zM431.1 511.7h7.41v3.86h-7.41zM431.1 548.8h7.41v3.86h-7.41zM438.4 393.0h7.41v3.86h-7.41zM438.4 444.9h7.41v3.86h-7.41zM438.4 456.0h7.41v3.86h-7.41zM438.4 485.7h7.41v3.86h-7.41zM438.4 522.8h7.41v3.86h-7.41zM445.6 389.3h7.41v3.86h-7.41zM445.6 393.0h7.41v3.86h-7.41zM445.6 426.4h7.41v3.86h-7.41zM445.6 433.8h7.41v3.86h-7.41zM445.6 470.9h7.41v3.86h-7.41zM445.6 478.3h7.41v3.86h-7.41zM445.6 493.1h7.41v3.86h-7.41zM445.6 504.3h7.41v3.86h-7.41zM445.6 511.7h7.41v3.86h-7.41zM460.2 400.4h7.41v3.86h-7.41zM460.2 422.7h7.41v3.86h-7.41zM460.2 444.9h7.41v3.86h-7.41zM460.2 463.5h7.41v3.86h-7.41zM460.2 467.2h7.41v3.86h-7.41zM460.2 474.6h7.41v3.86h-7.41zM460.2 541.3h7.41v3.86h-7.41zM467.4 452.3h7.41v3.86h-7.41zM467.4 500.5h7.41v3.86h-7.41zM467.4 533.9h7.41v3.86h-7.41zM467.4 545.0h7.41v3.86h-7.41zM467.4 567.3h7.41v3.86h-7.41zM474.7 444.9h7.41v3.86h-7.41zM474.7 470.9h7.41v3.86h-7.41zM474.7 478.3h7.41v3.86h-7.41zM474.7 508.0h7.41v3.86h-7.41zM474.7 526.5h7.41v3.86h-7.41zM474.7 537.6h7.41v3.86h-7.41zM474.7 545.0h7.41v3.86h-7.41zM474.7 563.6h7.41v3.86h-7.41zM482.0 448.6h7.41v3.86h-7.41zM482.0 563.6h7.41v3.86h-7.41zM489.2 437.5h7.41v3.86h-7.41zM489.2 470.9h7.41v3.86h-7.41zM489.2 519.1h7.41v3.86h-7.41zM489.2 552.5h7.41v3.86h-7.41zM496.5 400.4h7.41v3.86h-7.41zM496.5 522.8h7.41v3.86h-7.41zM496.5 563.6h7.41v3.86h-7.41zM503.7 389.3h7.41v3.86h-7.41zM503.7 422.7h7.41v3.86h-7.41zM503.7 533.9h7.41v3.86h-7.41zM503.7 563.6h7.41v3.86h-7.41z"/>
<path fill="#c5aed8" d="M271.4 218.5h7.41v3.86h-7.41zM271.4 251.9h7.41v3.86h-7.41zM271.4 259.4h7.41v3.86h-7.41zM271.4 266.8h7.41v3.86h-7.41zM271.4 270.5h7.41v3.86h-7.41zM271.4 370.7h7.41v3.86h-7.41zM271.4 374.5h7.41v3.86h-7.41zM278.6 248.2h7.41v3.86h-7.41zM278.6 277.9h7.41v3.86h-7.41zM278.6 296.5h7.41v3.86h-7.41zM278.6 303.9h7.41v3.86h-7.41zM278.6 326.2h7.41v3.86h-7.41zM278.6 370.7h7.41v3.86h-7.41zM278.6 385.6h7.41v3.86h-7.41zM285.9 259.4h7.41v3.86h-7.41zM285.9 266.8h7.41v3.86h-7.41zM285.9 303.9h7.41v3.86h-7.41zM300.4 315.1h7.41v3.86h-7.41zM300.4 337.3h7.41v3.86h-7.41zM300.4 355.9h7.41v3.86h-7.41zM300.4 359.6h7.41v3.86h-7.41zM300.4 363.3h7.41v3.86h-7.41zM300.4 367.0h7.41v3.86h-7.41zM300.4 370.7h7.41v3.86h-7.41zM300.4 374.5h7.41v3.86h-7.41zM300.4 378.2h7.41v3.86h-7.41zM300.4 385.6h7.41v3.86h-7.41zM307.7 248.2h7.41v3.86h-7.41zM307.7 274.2h7.41v3.86h-7.41zM307.7 277.9h7.41v3.86h-7.41zM307.7 281.6h7.41v3.86h-7.41zM307.7 292.8h7.41v3.86h-7.41zM307.7 300.2h7.41v3.86h-7.41zM307.7 303.9h7.41v3.86h-7.41zM307.7 307.6h7.41v3.86h-7.41zM307.7 315.1h7.41v3.86h-7.41zM307.7 318.8h7.41v3.86h-7.41zM307.7 322.5h7.41v3.86h-7.41zM307.7 326.2h7.41v3.86h-7.41zM307.7 329.9h7.41v3.86h-7.41zM307.7 337.3h7.41v3.86h-7.41zM307.7 344.8h7.41v3.86h-7.41zM307.7 355.9h7.41v3.86h-7.41zM307.7 370.7h7.41v3.86h-7.41zM307.7 374.5h7.41v3.86h-7.41zM307.7 381.9h7.41v3.86h-7.41zM314.9 211.1h7.41v3.86h-7.41zM314.9 233.4h7.41v3.86h-7.41zM314.9 248.2h7.41v3.86h-7.41zM314.9 266.8h7.41v3.86h-7.41zM314.9 270.5h7.41v3.86h-7.41zM314.9 274.2h7.41v3.86h-7.41zM314.9 277.9h7.41v3.86h-7.41zM314.9 285.4h7.41v3.86h-7.41zM314.9 296.5h7.41v3.86h-7.41zM314.9 315.1h7.41v3.86h-7.41zM314.9 318.8h7.41v3.86h-7.41zM314.9 322.5h7.41v3.86h-7.41zM314.9 326.2h7.41v3.86h-7.41zM314.9 329.9h7.41v3.86h-7.41zM314.9 333.6h7.41v3.86h-7.41zM314.9 341.0h7.41v3.86h-7.41zM314.9 344.8h7.41v3.86h-7.41zM314.9 348.5h7.41v3.86h-7.41zM314.9 352.2h7.41v3.86h-7.41zM314.9 355.9h7.41v3.86h-7.41zM314.9 359.6h7.41v3.86h-7.41zM314.9 367.0h7.41v3.86h-7.41zM314.9 378.2h7.41v3.86h-7.41zM322.2 322.5h7.41v3.86h-7.41zM322.2 341.0h7.41v3.86h-7.41zM322.2 344.8h7.41v3.86h-7.41zM322.2 352.2h7.41v3.86h-7.41zM322.2 370.7h7.41v3.86h-7.41zM322.2 374.5h7.41v3.86h-7.41zM322.2 385.6h7.41v3.86h-7.41zM329.5 263.1h7.41v3.86h-7.41zM329.5 266.8h7.41v3.86h-7.41zM329.5 274.2h7.41v3.86h-7.41zM329.5 300.2h7.41v3.86h-7.41zM329.5 307.6h7.41v3.86h-7.41zM329.5 315.1h7.41v3.86h-7.41zM329.5 318.8h7.41v3.86h-7.41zM329.5 329.9h7.41v3.86h-7.41zM329.5 333.6h7.41v3.86h-7.41zM329.5 337.3h7.41v3.86h-7.41zM329.5 344.8h7.41v3.86h-7.41zM329.5 348.5h7.41v3.86h-7.41zM329.5 352.2h7.41v3.86h-7.41zM329.5 355.9h7.41v3.86h-7.41zM329.5 363.3h7.41v3.86h-7.41zM329.5 367.0h7.41v3.86h-7.41zM329.5 370.7h7.41v3.86h-7.41zM329.5 374.5h7.41v3.86h-7.41zM329.5 378.2h7.41v3.86h-7.41zM329.5 381.9h7.41v3.86h-7.41zM336.7 266.8h7.41v3.86h-7.41zM336.7 270.5h7.41v3.86h-7.41zM336.7 274.2h7.41v3.86h-7.41zM336.7 303.9h7.41v3.86h-7.41zM336.7 311.3h7.41v3.86h-7.41zM336.7 315.1h7.41v3.86h-7.41zM336.7 322.5h7.41v3.86h-7.41zM336.7 326.2h7.41v3.86h-7.41zM336.7 329.9h7.41v3.86h-7.41zM336.7 333.6h7.41v3.86h-7.41zM336.7 337.3h7.41v3.86h-7.41zM336.7 341.0h7.41v3.86h-7.41zM336.7 348.5h7.41v3.86h-7.41zM336.7 355.9h7.41v3.86h-7.41zM336.7 359.6h7.41v3.86h-7.41zM336.7 363.3h7.41v3.86h-7.41zM336.7 370.7h7.41v3.86h-7.41zM336.7 374.5h7.41v3.86h-7.41zM336.7 381.9h7.41v3.86h-7.41zM336.7 385.6h7.41v3.86h-7.41zM344.0 378.2h7.41v3.86h-7.41zM351.2 348.5h7.41v3.86h-7.41zM351.2 378.2h7.41v3.86h-7.41zM380.3 318.8h7.41v3.86h-7.41zM380.3 378.2h7.41v3.86h-7.41zM387.5 263.1h7.41v3.86h-7.41zM387.5 315.1h7.41v3.86h-7.41zM387.5 341.0h7.41v3.86h-7.41zM387.5 385.6h7.41v3.86h-7.41zM394.8 270.5h7.41v3.86h-7.41zM394.8 322.5h7.41v3.86h-7.41zM394.8 355.9h7.41v3.86h-7.41zM438.4 237.1h7.41v3.86h-7.41zM452.9 289.1h7.41v3.86h-7.41zM467.4 229.7h7.41v3.86h-7.41zM467.4 296.5h7.41v3.86h-7.41zM467.4 363.3h7.41v3.86h-7.41zM489.2 214.8h7.41v3.86h-7.41zM496.5 263.1h7.41v3.86h-7.41zM503.7 214.8h7.41v3.86h-7.41zM206.0 389.3h7.41v3.86h-7.41zM206.0 404.1h7.41v3.86h-7.41zM206.0 411.5h7.41v3.86h-7.41zM206.0 419.0h7.41v3.86h-7.41zM206.0 422.7h7.41v3.86h-7.41zM206.0 426.4h7.41v3.86h-7.41zM206.0 430.1h7.41v3.86h-7.41zM206.0 441.2h7.41v3.86h-7.41zM206.0 452.3h7.41v3.86h-7.41zM206.0 478.3h7.41v3.86h-7.41zM206.0 482.0h7.41v3.86h-7.41zM206.0 485.7h7.41v3.86h-7.41zM206.0 496.8h7.41v3.86h-7.41zM206.0 500.5h7.41v3.86h-7.41zM206.0 519.1h7.41v3.86h-7.41zM206.0 522.8h7.41v3.86h-7.41zM206.0 533.9h7.41v3.86h-7.41zM206.0 541.3h7.41v3.86h-7.41zM213.3 393.0h7.41v3.86h-7.41zM213.3 396.7h7.41v3.86h-7.41zM213.3 426.4h7.41v3.86h-7.41zM213.3 433.8h7.41v3.86h-7.41zM213.3 444.9h7.41v3.86h-7.41zM213.3 463.5h7.41v3.86h-7.41zM213.3 485.7h7.41v3.86h-7.41zM213.3 500.5h7.41v3.86h-7.41zM213.3 519.1h7.41v3.86h-7.41zM213.3 522.8h7.41v3.86h-7.41zM213.3 541.3h7.41v3.86h-7.41zM220.5 433.8h7.41v3.86h-7.41zM220.5 459.8h7.41v3.86h-7.41zM220.5 470.9h7.41v3.86h-7.41zM220.5 485.7h7.41v3.86h-7.41zM220.5 489.4h7.41v3.86h-7.41zM220.5 533.9h7.41v3.86h-7.41zM220.5 545.0h7.41v3.86h-7.41zM220.5 556.2h7.41v3.86h-7.41zM227.8 411.5h7.41v3.86h-7.41zM227.8 430.1h7.41v3.86h-7.41zM227.8 474.6h7.41v3.86h-7.41zM227.8 485.7h7.41v3.86h-7.41zM227.8 504.3h7.41v3.86h-7.41zM227.8 511.7h7.41v3.86h-7.41zM227.8 515.4h7.41v3.86h-7.41zM227.8 522.8h7.41v3.86h-7.41zM227.8 545.0h7.41v3.86h-7.41zM227.8 556.2h7.41v3.86h-7.41zM227.8 563.6h7.41v3.86h-7.41zM235.0 448.6h7.41v3.86h-7.41zM235.0 456.0h7.41v3.86h-7.41zM235.0 459.8h7.41v3.86h-7.41zM235.0 496.8h7.41v3.86h-7.41zM235.0 511.7h7.41v3.86h-7.41zM235.0 515.4h7.41v3.86h-7.41zM235.0 522.8h7.41v3.86h-7.41zM235.0 530.2h7.41v3.86h-7.41zM235.0 541.3h7.41v3.86h-7.41zM235.0 552.5h7.41v3.86h-7.41zM235.0 556.2h7.41v3.86h-7.41zM235.0 567.3h7.41v3.86h-7.41zM242.3 404.1h7.41v3.86h-7.41zM242.3 437.5h7.41v3.86h-7.41zM242.3 459.8h7.41v3.86h-7.41zM242.3 489.4h7.41v3.86h-7.41zM242.3 530.2h7.41v3.86h-7.41zM242.3 567.3h7.41v3.86h-7.41zM249.6 396.7h7.41v3.86h-7.41zM249.6 422.7h7.41v3.86h-7.41zM249.6 430.1h7.41v3.86h-7.41zM249.6 437.5h7.41v3.86h-7.41zM249.6 452.3h7.41v3.86h-7.41zM249.6 459.8h7.41v3.86h-7.41zM249.6 463.5h7.41v3.86h-7.41zM249.6 467.2h7.41v3.86h-7.41zM249.6 489.4h7.41v3.86h-7.41zM249.6 522.8h7.41v3.86h-7.41zM249.6 526.5h7.41v3.86h-7.41zM249.6 559.9h7.41v3.86h-7.41zM256.8 426.4h7.41v3.86h-7.41zM256.8 430.1h7.41v3.86h-7.41zM256.8 437.5h7.41v3.86h-7.41zM256.8 448.6h7.41v3.86h-7.41zM256.8 452.3h7.41v3.86h-7.41zM256.8 482.0h7.41v3.86h-7.41zM256.8 489.4h7.41v3.86h-7.41zM256.8 500.5h7.41v3.86h-7.41zM256.8 522.8h7.41v3.86h-7.41zM256.8 552.5h7.41v3.86h-7.41zM264.1 404.1h7.41v3.86h-7.41zM264.1 407.8h7.41v3.86h-7.41zM264.1 433.8h7.41v3.86h-7.41zM264.1 437.5h7.41v3.86h-7.41zM264.1 444.9h7.41v3.86h-7.41zM264.1 489.4h7.41v3.86h-7.41zM264.1 496.8h7.41v3.86h-7.41zM264.1 504.3h7.41v3.86h-7.41zM264.1 533.9h7.41v3.86h-7.41zM351.2 441.2h7.41v3.86h-7.41zM394.8 433.8h7.41v3.86h-7.41zM394.8 537.6h7.41v3.86h-7.41zM416.6 437.5h7.41v3.86h-7.41zM416.6 478.3h7.41v3.86h-7.41zM416.6 530.2h7.41v3.86h-7.41zM431.1 537.6h7.41v3.86h-7.41zM438.4 400.4h7.41v3.86h-7.41zM438.4 548.8h7.41v3.86h-7.41zM445.6 400.4h7.41v3.86h-7.41zM445.6 430.1h7.41v3.86h-7.41zM445.6 452.3h7.41v3.86h-7.41zM445.6 467.2h7.41v3.86h-7.41zM445.6 485.7h7.41v3.86h-7.41zM445.6 522.8h7.41v3.86h-7.41zM445.6 537.6h7.41v3.86h-7.41zM452.9 493.1h7.41v3.86h-7.41zM460.2 411.5h7.41v3.86h-7.41zM460.2 548.8h7.41v3.86h-7.41zM460.2 556.2h7.41v3.86h-7.41zM467.4 444.9h7.41v3.86h-7.41zM467.4 489.4h7.41v3.86h-7.41zM474.7 400.4h7.41v3.86h-7.41zM474.7 556.2h7.41v3.86h-7.41zM489.2 448.6h7.41v3.86h-7.41zM489.2 530.2h7.41v3.86h-7.41zM496.5 537.6h7.41v3.86h-7.41zM503.7 419.0h7.41v3.86h-7.41zM503.7 482.0h7.41v3.86h-7.41zM503.7 511.7h7.41v3.86h-7.41z"/>
<path fill="#bba1d1" d="M271.4 248.2h7.41v3.86h-7.41zM307.7 348.5h7.41v3.86h-7.41zM307.7 359.6h7.41v3.86h-7.41zM307.7 363.3h7.41v3.86h-7.41zM307.7 378.2h7.41v3.86h-7.41zM307.7 385.6h7.41v3.86h-7.41zM314.9 292.8h7.41v3.86h-7.41zM314.9 337.3h7.41v3.86h-7.41zM314.9 363.3h7.41v3.86h-7.41zM314.9 370.7h7.41v3.86h-7.41zM314.9 374.5h7.41v3.86h-7.41zM314.9 381.9h7.41v3.86h-7.41zM314.9 385.6h7.41v3.86h-7.41zM322.2 378.2h7.41v3.86h-7.41zM329.5 277.9h7.41v3.86h-7.41zM329.5 296.5h7.41v3.86h-7.41zM329.5 322.5h7.41v3.86h-7.41zM329.5 341.0h7.41v3.86h-7.41zM329.5 359.6h7.41v3.86h-7.41zM329.5 385.6h7.41v3.86h-7.41zM336.7 378.2h7.41v3.86h-7.41zM344.0 296.5h7.41v3.86h-7.41zM373.0 374.5h7.41v3.86h-7.41zM380.3 326.2h7.41v3.86h-7.41zM387.5 303.9h7.41v3.86h-7.41zM387.5 322.5h7.41v3.86h-7.41zM387.5 348.5h7.41v3.86h-7.41zM387.5 352.2h7.41v3.86h-7.41zM387.5 381.9h7.41v3.86h-7.41zM438.4 359.6h7.41v3.86h-7.41zM467.4 244.5h7.41v3.86h-7.41zM489.2 311.3h7.41v3.86h-7.41zM496.5 281.6h7.41v3.86h-7.41zM206.0 396.7h7.41v3.86h-7.41zM206.0 415.3h7.41v3.86h-7.41zM206.0 444.9h7.41v3.86h-7.41zM206.0 467.2h7.41v3.86h-7.41zM206.0 474.6h7.41v3.86h-7.41zM206.0 493.1h7.41v3.86h-7.41zM206.0 508.0h7.41v3.86h-7.41zM206.0 567.3h7.41v3.86h-7.41zM213.3 404.1h7.41v3.86h-7.41zM213.3 411.5h7.41v3.86h-7.41zM213.3 419.0h7.41v3.86h-7.41zM213.3 430.1h7.41v3.86h-7.41zM213.3 437.5h7.41v3.86h-7.41zM213.3 441.2h7.41v3.86h-7.41zM213.3 448.6h7.41v3.86h-7.41zM213.3 456.0h7.41v3.86h-7.41zM213.3 467.2h7.41v3.86h-7.41zM213.3 470.9h7.41v3.86h-7.41zM213.3 478.3h7.41v3.86h-7.41zM213.3 482.0h7.41v3.86h-7.41zM213.3 504.3h7.41v3.86h-7.41zM213.3 511.7h7.41v3.86h-7.41zM213.3 533.9h7.41v3.86h-7.41zM213.3 545.0h7.41v3.86h-7.41zM213.3 552.5h7.41v3.86h-7.41zM213.3 559.9h7.41v3.86h-7.41zM220.5 400.4h7.41v3.86h-7.41zM220.5 404.1h7.41v3.86h-7.41zM220.5 407.8h7.41v3.86h-7.41zM220.5 415.3h7.41v3.86h-7.41zM220.5 426.4h7.41v3.86h-7.41zM220.5 437.5h7.41v3.86h-7.41zM220.5 456.0h7.41v3.86h-7.41zM220.5 467.2h7.41v3.86h-7.41zM220.5 474.6h7.41v3.86h-7.41zM220.5 515.4h7.41v3.86h-7.41zM220.5 567.3h7.41v3.86h-7.41zM227.8 389.3h7.41v3.86h-7.41zM227.8 404.1h7.41v3.86h-7.41zM227.8 415.3h7.41v3.86h-7.41zM227.8 444.9h7.41v3.86h-7.41zM227.8 478.3h7.41v3.86h-7.41zM227.8 482.0h7.41v3.86h-7.41zM227.8 493.1h7.41v3.86h-7.41zM227.8 496.8h7.41v3.86h-7.41zM227.8 508.0h7.41v3.86h-7.41zM227.8 519.1h7.41v3.86h-7.41zM235.0 393.0h7.41v3.86h-7.41zM235.0 396.7h7.41v3.86h-7.41zM235.0 400.4h7.41v3.86h-7.41zM235.0 404.1h7.41v3.86h-7.41zM235.0 407.8h7.41v3.86h-7.41zM235.0 411.5h7.41v3.86h-7.41zM235.0 415.3h7.41v3.86h-7.41zM235.0 422.7h7.41v3.86h-7.41zM235.0 437.5h7.41v3.86h-7.41zM235.0 441.2h7.41v3.86h-7.41zM235.0 474.6h7.41v3.86h-7.41zM235.0 482.0h7.41v3.86h-7.41zM235.0 504.3h7.41v3.86h-7.41zM235.0 508.0h7.41v3.86h-7.41zM242.3 411.5h7.41v3.86h-7.41zM242.3 415.3h7.41v3.86h-7.41zM242.3 430.1h7.41v3.86h-7.41zM242.3 433.8h7.41v3.86h-7.41zM242.3 463.5h7.41v3.86h-7.41zM242.3 470.9h7.41v3.86h-7.41zM242.3 522.8h7.41v3.86h-7.41zM242.3 545.0h7.41v3.86h-7.41zM242.3 548.8h7.41v3.86h-7.41zM242.3 552.5h7.41v3.86h-7.41zM242.3 556.2h7.41v3.86h-7.41zM242.3 563.6h7.41v3.86h-7.41zM249.6 407.8h7.41v3.86h-7.41zM249.6 411.5h7.41v3.86h-7.41zM249.6 415.3h7.41v3.86h-7.41zM249.6 433.8h7.41v3.86h-7.41zM249.6 441.2h7.41v3.86h-7.41zM249.6 470.9h7.41v3.86h-7.41zM249.6 474.6h7.41v3.86h-7.41zM249.6 485.7h7.41v3.86h-7.41zM249.6 500.5h7.41v3.86h-7.41zM249.6 548.8h7.41v3.86h-7.41zM249.6 552.5h7.41v3.86h-7.41zM256.8 393.0h7.41v3.86h-7.41zM256.8 404.1h7.41v3.86h-7.41zM256.8 433.8h7.41v3.86h-7.41zM256.8 441.2h7.41v3.86h-7.41zM256.8 456.0h7.41v3.86h-7.41zM256.8 463.5h7.41v3.86h-7.41zM256.8 467.2h7.41v3.86h-7.41zM256.8 493.1h7.41v3.86h-7.41zM256.8 496.8h7.41v3.86h-7.41zM256.8 508.0h7.41v3.86h-7.41zM256.8 511.7h7.41v3.86h-7.41zM256.8 515.4h7.41v3.86h-7.41zM256.8 567.3h7.41v3.86h-7.41zM264.1 415.3h7.41v3.86h-7.41zM264.1 452.3h7.41v3.86h-7.41zM264.1 456.0h7.41v3.86h-7.41zM264.1 459.8h7.41v3.86h-7.41zM264.1 467.2h7.41v3.86h-7.41zM264.1 478.3h7.41v3.86h-7.41zM264.1 485.7h7.41v3.86h-7.41zM264.1 493.1h7.41v3.86h-7.41zM264.1 500.5h7.41v3.86h-7.41zM264.1 515.4h7.41v3.86h-7.41zM264.1 530.2h7.41v3.86h-7.41zM264.1 541.3h7.41v3.86h-7.41zM394.8 400.4h7.41v3.86h-7.41zM409.3 437.5h7.41v3.86h-7.41zM416.6 422.7h7.41v3.86h-7.41zM423.9 463.5h7.41v3.86h-7.41zM438.4 489.4h7.41v3.86h-7.41zM438.4 508.0h7.41v3.86h-7.41zM438.4 541.3h7.41v3.86h-7.41zM445.6 437.5h7.41v3.86h-7.41zM445.6 508.0h7.41v3.86h-7.41zM445.6 515.4h7.41v3.86h-7.41zM445.6 526.5h7.41v3.86h-7.41zM445.6 567.3h7.41v3.86h-7.41zM460.2 393.0h7.41v3.86h-7.41zM460.2 485.7h7.41v3.86h-7.41zM460.2 500.5h7.41v3.86h-7.41zM460.2 563.6h7.41v3.86h-7.41zM467.4 474.6h7.41v3.86h-7.41zM467.4 508.0h7.41v3.86h-7.41zM467.4 519.1h7.41v3.86h-7.41zM474.7 522.8h7.41v3.86h-7.41zM474.7 567.3h7.41v3.86h-7.41zM482.0 400.4h7.41v3.86h-7.41zM489.2 419.0h7.41v3.86h-7.41zM489.2 522.8h7.41v3.86h-7.41zM489.2 567.3h7.41v3.86h-7.41zM503.7 400.4h7.41v3.86h-7.41zM503.7 448.6h7.41v3.86h-7.41zM503.7 467.2h7.41v3.86h-7.41z"/>
<path fill="#e2d7eb" d="M285.9 289.1h7.41v3.86h-7.41zM293.1 289.1h7.41v3.86h-7.41zM293.1 322.5h7.41v3.86h-7.41zM293.1 341.0h7.41v3.86h-7.41zM293.1 367.0h7.41v3.86h-7.41zM300.4 218.5h7.41v3.86h-7.41zM300.4 229.7h7.41v3.86h-7.41zM322.2 226.0h7.41v3.86h-7.41zM322.2 255.7h7.41v3.86h-7.41zM336.7 229.7h7.41v3.86h-7.41zM344.0 211.1h7.41v3.86h-7.41zM344.0 222.2h7.41v3.86h-7.41zM344.0 251.9h7.41v3.86h-7.41zM344.0 266.8h7.41v3.86h-7.41zM344.0 270.5h7.41v3.86h-7.41zM344.0 337.3h7.41v3.86h-7.41zM344.0 355.9h7.41v3.86h-7.41zM344.0 359.6h7.41v3.86h-7.41zM344.0 374.5h7.41v3.86h-7.41zM344.0 381.9h7.41v3.86h-7.41zM351.2 211.1h7.41v3.86h-7.41zM351.2 222.2h7.41v3.86h-7.41zM351.2 226.0h7.41v3.86h-7.41zM351.2 229.7h7.41v3.86h-7.41zM351.2 240.8h7.41v3.86h-7.41zM351.2 259.4h7.41v3.86h-7.41zM351.2 263.1h7.41v3.86h-7.41zM351.2 292.8h7.41v3.86h-7.41zM351.2 341.0h7.41v3.86h-7.41zM351.2 355.9h7.41v3.86h-7.41zM351.2 385.6h7.41v3.86h-7.41zM358.5 296.5h7.41v3.86h-7.41zM358.5 352.2h7.41v3.86h-7.41zM358.5 385.6h7.41v3.86h-7.41zM365.8 248.2h7.41v3.86h-7.41zM365.8 251.9h7.41v3.86h-7.41zM365.8 274.2h7.41v3.86h-7.41zM365.8 292.8h7.41v3.86h-7.41zM365.8 296.5h7.41v3.86h-7.41zM365.8 322.5h7.41v3.86h-7.41zM365.8 326.2h7.41v3.86h-7.41zM365.8 337.3h7.41v3.86h-7.41zM365.8 359.6h7.41v3.86h-7.41zM365.8 363.3h7.41v3.86h-7.41zM365.8 367.0h7.41v3.86h-7.41zM365.8 385.6h7.41v3.86h-7.41zM373.0 214.8h7.41v3.86h-7.41zM373.0 251.9h7.41v3.86h-7.41zM373.0 281.6h7.41v3.86h-7.41zM373.0 292.8h7.41v3.86h-7.41zM373.0 300.2h7.41v3.86h-7.41zM373.0 303.9h7.41v3.86h-7.41zM373.0 307.6h7.41v3.86h-7.41zM373.0 341.0h7.41v3.86h-7.41zM373.0 385.6h7.41v3.86h-7.41zM380.3 233.4h7.41v3.86h-7.41zM380.3 237.1h7.41v3.86h-7.41zM380.3 266.8h7.41v3.86h-7.41zM380.3 300.2h7.41v3.86h-7.41zM380.3 303.9h7.41v3.86h-7.41zM380.3 322.5h7.41v3.86h-7.41zM380.3 337.3h7.41v3.86h-7.41zM380.3 341.0h7.41v3.86h-7.41zM380.3 385.6h7.41v3.86h-7.41zM387.5 214.8h7.41v3.86h-7.41zM387.5 333.6h7.41v3.86h-7.41zM387.5 344.8h7.41v3.86h-7.41zM387.5 374.5h7.41v3.86h-7.41zM394.8 281.6h7.41v3.86h-7.41zM394.8 289.1h7.41v3.86h-7.41zM394.8 296.5h7.41v3.86h-7.41zM394.8 300.2h7.41v3.86h-7.41zM394.8 318.8h7.41v3.86h-7.41zM394.8 329.9h7.41v3.86h-7.41zM394.8 341.0h7.41v3.86h-7.41zM394.8 363.3h7.41v3.86h-7.41zM409.3 218.5h7.41v3.86h-7.41zM409.3 248.2h7.41v3.86h-7.41zM409.3 255.7h7.41v3.86h-7.41zM409.3 274.2h7.41v3.86h-7.41zM409.3 289.1h7.41v3.86h-7.41zM423.9 259.4h7.41v3.86h-7.41zM431.1 289.1h7.41v3.86h-7.41zM431.1 318.8h7.41v3.86h-7.41zM445.6 240.8h7.41v3.86h-7.41zM445.6 248.2h7.41v3.86h-7.41zM445.6 263.1h7.41v3.86h-7.41zM445.6 270.5h7.41v3.86h-7.41zM445.6 289.1h7.41v3.86h-7.41zM445.6 333.6h7.41v3.86h-7.41zM445.6 337.3h7.41v3.86h-7.41zM445.6 363.3h7.41v3.86h-7.41zM452.9 229.7h7.41v3.86h-7.41zM452.9 244.5h7.41v3.86h-7.41zM452.9 255.7h7.41v3.86h-7.41zM452.9 352.2h7.41v3.86h-7.41zM460.2 214.8h7.41v3.86h-7.41zM460.2 244.5h7.41v3.86h-7.41zM460.2 270.5h7.41v3.86h-7.41zM467.4 251.9h7.41v3.86h-7.41zM467.4 337.3h7.41v3.86h-7.41zM467.4 348.5h7.41v3.86h-7.41zM467.4 374.5h7.41v3.86h-7.41zM482.0 211.1h7.41v3.86h-7.41zM482.0 233.4h7.41v3.86h-7.41zM482.0 237.1h7.41v3.86h-7.41zM482.0 240.8h7.41v3.86h-7.41zM482.0 244.5h7.41v3.86h-7.41zM482.0 251.9h7.41v3.86h-7.41zM482.0 255.7h7.41v3.86h-7.41zM482.0 259.4h7.41v3.86h-7.41zM482.0 285.4h7.41v3.86h-7.41zM482.0 344.8h7.41v3.86h-7.41zM482.0 352.2h7.41v3.86h-7.41zM489.2 348.5h7.41v3.86h-7.41zM489.2 352.2h7.41v3.86h-7.41zM489.2 359.6h7.41v3.86h-7.41zM496.5 218.5h7.41v3.86h-7.41zM496.5 229.7h7.41v3.86h-7.41zM496.5 266.8h7.41v3.86h-7.41zM496.5 385.6h7.41v3.86h-7.41zM503.7 218.5h7.41v3.86h-7.41zM503.7 307.6h7.41v3.86h-7.41zM206.0 489.4h7.41v3.86h-7.41zM227.8 396.7h7.41v3.86h-7.41zM227.8 433.8h7.41v3.86h-7.41zM227.8 541.3h7.41v3.86h-7.41zM235.0 548.8h7.41v3.86h-7.41zM249.6 545.0h7.41v3.86h-7.41zM256.8 407.8h7.41v3.86h-7.41zM256.8 422.7h7.41v3.86h-7.41zM264.1 448.6h7.41v3.86h-7.41zM264.1 474.6h7.41v3.86h-7.41zM264.1 548.8h7.41v3.86h-7.41zM264.1 559.9h7.41v3.86h-7.41zM344.0 441.2h7.41v3.86h-7.41zM351.2 389.3h7.41v3.86h-7.41zM351.2 400.4h7.41v3.86h-7.41zM351.2 433.8h7.41v3.86h-7.41zM351.2 437.5h7.41v3.86h-7.41zM351.2 463.5h7.41v3.86h-7.41zM351.2 482.0h7.41v3.86h-7.41zM351.2 496.8h7.41v3.86h-7.41zM351.2 500.5h7.41v3.86h-7.41zM351.2 515.4h7.41v3.86h-7.41zM351.2 556.2h7.41v3.86h-7.41zM358.5 441.2h7.41v3.86h-7.41zM365.8 533.9h7.41v3.86h-7.41zM373.0 411.5h7.41v3.86h-7.41zM373.0 515.4h7.41v3.86h-7.41zM373.0 541.3h7.41v3.86h-7.41zM380.3 467.2h7.41v3.86h-7.41zM387.5 389.3h7.41v3.86h-7.41zM387.5 411.5h7.41v3.86h-7.41zM387.5 441.2h7.41v3.86h-7.41zM387.5 482.0h7.41v3.86h-7.41zM387.5 519.1h7.41v3.86h-7.41zM394.8 515.4h7.41v3.86h-7.41zM402.1 519.1h7.41v3.86h-7.41zM402.1 537.6h7.41v3.86h-7.41zM402.1 552.5h7.41v3.86h-7.41zM409.3 493.1h7.41v3.86h-7.41zM416.6 389.3h7.41v3.86h-7.41zM416.6 400.4h7.41v3.86h-7.41zM416.6 404.1h7.41v3.86h-7.41zM416.6 415.3h7.41v3.86h-7.41zM416.6 485.7h7.41v3.86h-7.41zM416.6 493.1h7.41v3.86h-7.41zM416.6 508.0h7.41v3.86h-7.41zM416.6 556.2h7.41v3.86h-7.41zM416.6 559.9h7.41v3.86h-7.41zM423.9 433.8h7.41v3.86h-7.41zM423.9 493.1h7.41v3.86h-7.41zM423.9 515.4h7.41v3.86h-7.41zM423.9 533.9h7.41v3.86h-7.41zM431.1 396.7h7.41v3.86h-7.41zM431.1 411.5h7.41v3.86h-7.41zM431.1 415.3h7.41v3.86h-7.41zM431.1 448.6h7.41v3.86h-7.41zM431.1 459.8h7.41v3.86h-7.41zM431.1 470.9h7.41v3.86h-7.41zM431.1 478.3h7.41v3.86h-7.41zM431.1 482.0h7.41v3.86h-7.41zM431.1 493.1h7.41v3.86h-7.41zM431.1 519.1h7.41v3.86h-7.41zM431.1 545.0h7.41v3.86h-7.41zM431.1 567.3h7.41v3.86h-7.41zM438.4 448.6h7.41v3.86h-7.41zM438.4 459.8h7.41v3.86h-7.41zM445.6 444.9h7.41v3.86h-7.41zM445.6 448.6h7.41v3.86h-7.41zM445.6 459.8h7.41v3.86h-7.41zM445.6 519.1h7.41v3.86h-7.41zM445.6 552.5h7.41v3.86h-7.41zM452.9 393.0h7.41v3.86h-7.41zM452.9 422.7h7.41v3.86h-7.41zM452.9 474.6h7.41v3.86h-7.41zM452.9 519.1h7.41v3.86h-7.41zM452.9 545.0h7.41v3.86h-7.41zM452.9 548.8h7.41v3.86h-7.41zM452.9 563.6h7.41v3.86h-7.41zM460.2 452.3h7.41v3.86h-7.41zM460.2 456.0h7.41v3.86h-7.41zM467.4 407.8h7.41v3.86h-7.41zM467.4 437.5h7.41v3.86h-7.41zM467.4 493.1h7.41v3.86h-7.41zM467.4 511.7h7.41v3.86h-7.41zM467.4 563.6h7.41v3.86h-7.41zM474.7 415.3h7.41v3.86h-7.41zM474.7 430.1h7.41v3.86h-7.41zM474.7 437.5h7.41v3.86h-7.41zM474.7 504.3h7.41v3.86h-7.41zM474.7 519.1h7.41v3.86h-7.41zM474.7 533.9h7.41v3.86h-7.41zM474.7 541.3h7.41v3.86h-7.41zM482.0 437.5h7.41v3.86h-7.41zM482.0 452.3h7.41v3.86h-7.41zM482.0 467.2h7.41v3.86h-7.41zM482.0 537.6h7.41v3.86h-7.41zM482.0 567.3h7.41v3.86h-7.41zM489.2 422.7h7.41v3.86h-7.41zM489.2 433.8h7.41v3.86h-7.41zM489.2 441.2h7.41v3.86h-7.41zM489.2 452.3h7.41v3.86h-7.41zM489.2 459.8h7.41v3.86h-7.41zM489.2 482.0h7.41v3.86h-7.41zM489.2 500.5h7.41v3.86h-7.41zM489.2 537.6h7.41v3.86h-7.41zM489.2 548.8h7.41v3.86h-7.41zM489.2 556.2h7.41v3.86h-7.41zM496.5 452.3h7.41v3.86h-7.41zM496.5 467.2h7.41v3.86h-7.41zM496.5 508.0h7.41v3.86h-7.41zM496.5 530.2h7.41v3.86h-7.41zM496.5 533.9h7.41v3.86h-7.41zM496.5 545.0h7.41v3.86h-7.41zM496.5 552.5h7.41v3.86h-7.41zM503.7 433.8h7.41v3.86h-7.41zM503.7 437.5h7.41v3.86h-7.41zM503.7 452.3h7.41v3.86h-7.41zM503.7 459.8h7.41v3.86h-7.41zM503.7 515.4h7.41v3.86h-7.41z"/>
<path fill="#f5f2f8" d="M344.0 207.4h7.41v3.86h-7.41zM344.0 229.7h7.41v3.86h-7.41zM344.0 237.1h7.41v3.86h-7.41zM344.0 240.8h7.41v3.86h-7.41zM344.0 277.9h7.41v3.86h-7.41zM344.0 311.3h7.41v3.86h-7.41zM344.0 318.8h7.41v3.86h-7.41zM344.0 326.2h7.41v3.86h-7.41zM344.0 333.6h7.41v3.86h-7.41zM344.0 363.3h7.41v3.86h-7.41zM344.0 385.6h7.41v3.86h-7.41zM351.2 277.9h7.41v3.86h-7.41zM351.2 281.6h7.41v3.86h-7.41zM351.2 289.1h7.41v3.86h-7.41zM351.2 311.3h7.41v3.86h-7.41zM358.5 222.2h7.41v3.86h-7.41zM358.5 229.7h7.41v3.86h-7.41zM358.5 237.1h7.41v3.86h-7.41zM358.5 240.8h7.41v3.86h-7.41zM358.5 266.8h7.41v3.86h-7.41zM358.5 274.2h7.41v3.86h-7.41zM358.5 285.4h7.41v3.86h-7.41zM358.5 303.9h7.41v3.86h-7.41zM358.5 311.3h7.41v3.86h-7.41zM358.5 337.3h7.41v3.86h-7.41zM358.5 341.0h7.41v3.86h-7.41zM358.5 363.3h7.41v3.86h-7.41zM358.5 370.7h7.41v3.86h-7.41zM365.8 222.2h7.41v3.86h-7.41zM365.8 229.7h7.41v3.86h-7.41zM365.8 233.4h7.41v3.86h-7.41zM365.8 244.5h7.41v3.86h-7.41zM365.8 266.8h7.41v3.86h-7.41zM365.8 303.9h7.41v3.86h-7.41zM373.0 222.2h7.41v3.86h-7.41zM373.0 233.4h7.41v3.86h-7.41zM373.0 240.8h7.41v3.86h-7.41zM373.0 248.2h7.41v3.86h-7.41zM373.0 266.8h7.41v3.86h-7.41zM373.0 274.2h7.41v3.86h-7.41zM373.0 285.4h7.41v3.86h-7.41zM373.0 289.1h7.41v3.86h-7.41zM373.0 296.5h7.41v3.86h-7.41zM373.0 311.3h7.41v3.86h-7.41zM373.0 315.1h7.41v3.86h-7.41zM373.0 333.6h7.41v3.86h-7.41zM380.3 214.8h7.41v3.86h-7.41zM380.3 226.0h7.41v3.86h-7.41zM380.3 229.7h7.41v3.86h-7.41zM380.3 263.1h7.41v3.86h-7.41zM380.3 277.9h7.41v3.86h-7.41zM380.3 281.6h7.41v3.86h-7.41zM380.3 307.6h7.41v3.86h-7.41zM380.3 311.3h7.41v3.86h-7.41zM380.3 363.3h7.41v3.86h-7.41zM387.5 244.5h7.41v3.86h-7.41zM394.8 237.1h7.41v3.86h-7.41zM394.8 248.2h7.41v3.86h-7.41zM394.8 259.4h7.41v3.86h-7.41zM394.8 266.8h7.41v3.86h-7.41zM394.8 277.9h7.41v3.86h-7.41zM394.8 333.6h7.41v3.86h-7.41zM402.1 244.5h7.41v3.86h-7.41zM402.1 263.1h7.41v3.86h-7.41zM402.1 274.2h7.41v3.86h-7.41zM402.1 277.9h7.41v3.86h-7.41zM402.1 292.8h7.41v3.86h-7.41zM402.1 300.2h7.41v3.86h-7.41zM402.1 303.9h7.41v3.86h-7.41zM402.1 341.0h7.41v3.86h-7.41zM402.1 348.5h7.41v3.86h-7.41zM402.1 367.0h7.41v3.86h-7.41zM409.3 207.4h7.41v3.86h-7.41zM409.3 214.8h7.41v3.86h-7.41zM409.3 229.7h7.41v3.86h-7.41zM409.3 237.1h7.41v3.86h-7.41zM409.3 270.5h7.41v3.86h-7.41zM409.3 307.6h7.41v3.86h-7.41zM409.3 344.8h7.41v3.86h-7.41zM409.3 352.2h7.41v3.86h-7.41zM409.3 367.0h7.41v3.86h-7.41zM409.3 370.7h7.41v3.86h-7.41zM416.6 214.8h7.41v3.86h-7.41zM416.6 355.9h7.41v3.86h-7.41zM423.9 292.8h7.41v3.86h-7.41zM423.9 296.5h7.41v3.86h-7.41zM423.9 329.9h7.41v3.86h-7.41zM423.9 359.6h7.41v3.86h-7.41zM423.9 378.2h7.41v3.86h-7.41zM431.1 244.5h7.41v3.86h-7.41zM431.1 259.4h7.41v3.86h-7.41zM431.1 285.4h7.41v3.86h-7.41zM431.1 300.2h7.41v3.86h-7.41zM431.1 307.6h7.41v3.86h-7.41zM431.1 337.3h7.41v3.86h-7.41zM431.1 344.8h7.41v3.86h-7.41zM431.1 367.0h7.41v3.86h-7.41zM438.4 207.4h7.41v3.86h-7.41zM438.4 270.5h7.41v3.86h-7.41zM438.4 348.5h7.41v3.86h-7.41zM438.4 352.2h7.41v3.86h-7.41zM438.4 370.7h7.41v3.86h-7.41zM438.4 374.5h7.41v3.86h-7.41zM438.4 381.9h7.41v3.86h-7.41zM445.6 233.4h7.41v3.86h-7.41zM445.6 352.2h7.41v3.86h-7.41zM445.6 381.9h7.41v3.86h-7.41zM452.9 322.5h7.41v3.86h-7.41zM452.9 329.9h7.41v3.86h-7.41zM452.9 333.6h7.41v3.86h-7.41zM452.9 355.9h7.41v3.86h-7.41zM452.9 359.6h7.41v3.86h-7.41zM452.9 385.6h7.41v3.86h-7.41zM460.2 296.5h7.41v3.86h-7.41zM460.2 318.8h7.41v3.86h-7.41zM460.2 381.9h7.41v3.86h-7.41zM467.4 240.8h7.41v3.86h-7.41zM467.4 255.7h7.41v3.86h-7.41zM467.4 274.2h7.41v3.86h-7.41zM467.4 277.9h7.41v3.86h-7.41zM467.4 333.6h7.41v3.86h-7.41zM474.7 240.8h7.41v3.86h-7.41zM474.7 255.7h7.41v3.86h-7.41zM482.0 229.7h7.41v3.86h-7.41zM482.0 274.2h7.41v3.86h-7.41zM482.0 289.1h7.41v3.86h-7.41zM482.0 307.6h7.41v3.86h-7.41zM482.0 315.1h7.41v3.86h-7.41zM482.0 333.6h7.41v3.86h-7.41zM482.0 348.5h7.41v3.86h-7.41zM482.0 363.3h7.41v3.86h-7.41zM482.0 370.7h7.41v3.86h-7.41zM482.0 374.5h7.41v3.86h-7.41zM489.2 255.7h7.41v3.86h-7.41zM489.2 266.8h7.41v3.86h-7.41zM489.2 285.4h7.41v3.86h-7.41zM489.2 289.1h7.41v3.86h-7.41zM489.2 292.8h7.41v3.86h-7.41zM489.2 333.6h7.41v3.86h-7.41zM489.2 355.9h7.41v3.86h-7.41zM496.5 211.1h7.41v3.86h-7.41zM496.5 214.8h7.41v3.86h-7.41zM496.5 226.0h7.41v3.86h-7.41zM496.5 270.5h7.41v3.86h-7.41zM496.5 277.9h7.41v3.86h-7.41zM496.5 285.4h7.41v3.86h-7.41zM503.7 289.1h7.41v3.86h-7.41zM503.7 303.9h7.41v3.86h-7.41zM503.7 359.6h7.41v3.86h-7.41zM344.0 478.3h7.41v3.86h-7.41zM344.0 504.3h7.41v3.86h-7.41zM344.0 526.5h7.41v3.86h-7.41zM351.2 393.0h7.41v3.86h-7.41zM351.2 396.7h7.41v3.86h-7.41zM351.2 404.1h7.41v3.86h-7.41zM351.2 407.8h7.41v3.86h-7.41zM351.2 411.5h7.41v3.86h-7.41zM351.2 448.6h7.41v3.86h-7.41zM351.2 493.1h7.41v3.86h-7.41zM351.2 522.8h7.41v3.86h-7.41zM351.2 533.9h7.41v3.86h-7.41zM358.5 448.6h7.41v3.86h-7.41zM358.5 496.8h7.41v3.86h-7.41zM358.5 519.1h7.41v3.86h-7.41zM365.8 389.3h7.41v3.86h-7.41zM365.8 426.4h7.41v3.86h-7.41zM365.8 433.8h7.41v3.86h-7.41zM365.8 478.3h7.41v3.86h-7.41zM365.8 511.7h7.41v3.86h-7.41zM365.8 537.6h7.41v3.86h-7.41zM373.0 393.0h7.41v3.86h-7.41zM373.0 444.9h7.41v3.86h-7.41zM373.0 467.2h7.41v3.86h-7.41zM373.0 474.6h7.41v3.86h-7.41zM373.0 508.0h7.41v3.86h-7.41zM373.0 533.9h7.41v3.86h-7.41zM373.0 556.2h7.41v3.86h-7.41zM373.0 559.9h7.41v3.86h-7.41zM380.3 419.0h7.41v3.86h-7.41zM380.3 463.5h7.41v3.86h-7.41zM380.3 493.1h7.41v3.86h-7.41zM380.3 496.8h7.41v3.86h-7.41zM380.3 541.3h7.41v3.86h-7.41zM380.3 552.5h7.41v3.86h-7.41zM380.3 559.9h7.41v3.86h-7.41zM387.5 400.4h7.41v3.86h-7.41zM387.5 426.4h7.41v3.86h-7.41zM387.5 433.8h7.41v3.86h-7.41zM387.5 456.0h7.41v3.86h-7.41zM387.5 496.8h7.41v3.86h-7.41zM387.5 500.5h7.41v3.86h-7.41zM387.5 545.0h7.41v3.86h-7.41zM394.8 389.3h7.41v3.86h-7.41zM394.8 396.7h7.41v3.86h-7.41zM394.8 456.0h7.41v3.86h-7.41zM394.8 467.2h7.41v3.86h-7.41zM394.8 474.6h7.41v3.86h-7.41zM394.8 482.0h7.41v3.86h-7.41zM394.8 485.7h7.41v3.86h-7.41zM394.8 552.5h7.41v3.86h-7.41zM394.8 559.9h7.41v3.86h-7.41zM394.8 563.6h7.41v3.86h-7.41zM402.1 411.5h7.41v3.86h-7.41zM402.1 422.7h7.41v3.86h-7.41zM402.1 437.5h7.41v3.86h-7.41zM402.1 452.3h7.41v3.86h-7.41zM402.1 459.8h7.41v3.86h-7.41zM402.1 474.6h7.41v3.86h-7.41zM402.1 504.3h7.41v3.86h-7.41zM402.1 522.8h7.41v3.86h-7.41zM409.3 396.7h7.41v3.86h-7.41zM409.3 422.7h7.41v3.86h-7.41zM409.3 430.1h7.41v3.86h-7.41zM409.3 452.3h7.41v3.86h-7.41zM409.3 459.8h7.41v3.86h-7.41zM409.3 482.0h7.41v3.86h-7.41zM409.3 508.0h7.41v3.86h-7.41zM409.3 548.8h7.41v3.86h-7.41zM416.6 441.2h7.41v3.86h-7.41zM416.6 511.7h7.41v3.86h-7.41zM423.9 389.3h7.41v3.86h-7.41zM423.9 396.7h7.41v3.86h-7.41zM423.9 411.5h7.41v3.86h-7.41zM423.9 419.0h7.41v3.86h-7.41zM423.9 459.8h7.41v3.86h-7.41zM423.9 478.3h7.41v3.86h-7.41zM423.9 482.0h7.41v3.86h-7.41zM423.9 496.8h7.41v3.86h-7.41zM423.9 545.0h7.41v3.86h-7.41zM423.9 567.3h7.41v3.86h-7.41zM431.1 404.1h7.41v3.86h-7.41zM431.1 407.8h7.41v3.86h-7.41zM431.1 437.5h7.41v3.86h-7.41zM431.1 444.9h7.41v3.86h-7.41zM431.1 485.7h7.41v3.86h-7.41zM431.1 489.4h7.41v3.86h-7.41zM431.1 515.4h7.41v3.86h-7.41zM438.4 474.6h7.41v3.86h-7.41zM438.4 478.3h7.41v3.86h-7.41zM438.4 482.0h7.41v3.86h-7.41zM438.4 537.6h7.41v3.86h-7.41zM438.4 552.5h7.41v3.86h-7.41zM438.4 559.9h7.41v3.86h-7.41zM445.6 396.7h7.41v3.86h-7.41zM445.6 407.8h7.41v3.86h-7.41zM445.6 474.6h7.41v3.86h-7.41zM445.6 489.4h7.41v3.86h-7.41zM445.6 530.2h7.41v3.86h-7.41zM445.6 559.9h7.41v3.86h-7.41zM445.6 563.6h7.41v3.86h-7.41zM452.9 463.5h7.41v3.86h-7.41zM460.2 426.4h7.41v3.86h-7.41zM460.2 478.3h7.41v3.86h-7.41zM460.2 493.1h7.41v3.86h-7.41zM460.2 526.5h7.41v3.86h-7.41zM460.2 530.2h7.41v3.86h-7.41zM460.2 533.9h7.41v3.86h-7.41zM460.2 537.6h7.41v3.86h-7.41zM467.4 404.1h7.41v3.86h-7.41zM467.4 448.6h7.41v3.86h-7.41zM467.4 478.3h7.41v3.86h-7.41zM467.4 496.8h7.41v3.86h-7.41zM467.4 504.3h7.41v3.86h-7.41zM467.4 515.4h7.41v3.86h-7.41zM467.4 522.8h7.41v3.86h-7.41zM467.4 526.5h7.41v3.86h-7.41zM474.7 389.3h7.41v3.86h-7.41zM474.7 407.8h7.41v3.86h-7.41zM474.7 433.8h7.41v3.86h-7.41zM474.7 448.6h7.41v3.86h-7.41zM474.7 459.8h7.41v3.86h-7.41zM474.7 530.2h7.41v3.86h-7.41zM474.7 552.5h7.41v3.86h-7.41zM482.0 422.7h7.41v3.86h-7.41zM482.0 474.6h7.41v3.86h-7.41zM482.0 496.8h7.41v3.86h-7.41zM482.0 522.8h7.41v3.86h-7.41zM482.0 530.2h7.41v3.86h-7.41zM482.0 533.9h7.41v3.86h-7.41zM482.0 552.5h7.41v3.86h-7.41zM489.2 426.4h7.41v3.86h-7.41zM489.2 456.0h7.41v3.86h-7.41zM489.2 474.6h7.41v3.86h-7.41zM489.2 496.8h7.41v3.86h-7.41zM489.2 545.0h7.41v3.86h-7.41zM496.5 393.0h7.41v3.86h-7.41zM496.5 437.5h7.41v3.86h-7.41zM496.5 459.8h7.41v3.86h-7.41zM496.5 474.6h7.41v3.86h-7.41zM496.5 493.1h7.41v3.86h-7.41zM496.5 500.5h7.41v3.86h-7.41zM496.5 526.5h7.41v3.86h-7.41zM496.5 541.3h7.41v3.86h-7.41zM496.5 556.2h7.41v3.86h-7.41zM496.5 567.3h7.41v3.86h-7.41zM503.7 463.5h7.41v3.86h-7.41zM503.7 474.6h7.41v3.86h-7.41zM503.7 519.1h7.41v3.86h-7.41zM503.7 526.5h7.41v3.86h-7.41zM503.7 530.2h7.41v3.86h-7.41zM503.7 541.3h7.41v3.86h-7.41zM503.7 548.8h7.41v3.86h-7.41zM503.7 552.5h7.41v3.86h-7.41z"/>
<path fill="#ece4f2" d="M344.0 214.8h7.41v3.86h-7.41zM344.0 226.0h7.41v3.86h-7.41zM344.0 233.4h7.41v3.86h-7.41zM344.0 248.2h7.41v3.86h-7.41zM344.0 274.2h7.41v3.86h-7.41zM344.0 285.4h7.41v3.86h-7.41zM344.0 292.8h7.41v3.86h-7.41zM344.0 344.8h7.41v3.86h-7.41zM351.2 214.8h7.41v3.86h-7.41zM351.2 218.5h7.41v3.86h-7.41zM351.2 233.4h7.41v3.86h-7.41zM351.2 237.1h7.41v3.86h-7.41zM351.2 266.8h7.41v3.86h-7.41zM351.2 274.2h7.41v3.86h-7.41zM351.2 285.4h7.41v3.86h-7.41zM351.2 307.6h7.41v3.86h-7.41zM351.2 329.9h7.41v3.86h-7.41zM351.2 333.6h7.41v3.86h-7.41zM351.2 337.3h7.41v3.86h-7.41zM351.2 363.3h7.41v3.86h-7.41zM351.2 367.0h7.41v3.86h-7.41zM351.2 370.7h7.41v3.86h-7.41zM358.5 211.1h7.41v3.86h-7.41zM358.5 259.4h7.41v3.86h-7.41zM358.5 263.1h7.41v3.86h-7.41zM358.5 277.9h7.41v3.86h-7.41zM358.5 281.6h7.41v3.86h-7.41zM358.5 300.2h7.41v3.86h-7.41zM358.5 329.9h7.41v3.86h-7.41zM358.5 344.8h7.41v3.86h-7.41zM358.5 355.9h7.41v3.86h-7.41zM358.5 367.0h7.41v3.86h-7.41zM365.8 211.1h7.41v3.86h-7.41zM365.8 214.8h7.41v3.86h-7.41zM365.8 218.5h7.41v3.86h-7.41zM365.8 240.8h7.41v3.86h-7.41zM365.8 263.1h7.41v3.86h-7.41zM365.8 277.9h7.41v3.86h-7.41zM365.8 281.6h7.41v3.86h-7.41zM365.8 329.9h7.41v3.86h-7.41zM365.8 341.0h7.41v3.86h-7.41zM365.8 352.2h7.41v3.86h-7.41zM365.8 370.7h7.41v3.86h-7.41zM373.0 226.0h7.41v3.86h-7.41zM373.0 318.8h7.41v3.86h-7.41zM373.0 337.3h7.41v3.86h-7.41zM373.0 344.8h7.41v3.86h-7.41zM373.0 363.3h7.41v3.86h-7.41zM380.3 222.2h7.41v3.86h-7.41zM380.3 248.2h7.41v3.86h-7.41zM380.3 251.9h7.41v3.86h-7.41zM380.3 274.2h7.41v3.86h-7.41zM380.3 285.4h7.41v3.86h-7.41zM380.3 315.1h7.41v3.86h-7.41zM380.3 333.6h7.41v3.86h-7.41zM380.3 367.0h7.41v3.86h-7.41zM380.3 370.7h7.41v3.86h-7.41zM380.3 381.9h7.41v3.86h-7.41zM387.5 222.2h7.41v3.86h-7.41zM387.5 229.7h7.41v3.86h-7.41zM387.5 237.1h7.41v3.86h-7.41zM387.5 240.8h7.41v3.86h-7.41zM387.5 248.2h7.41v3.86h-7.41zM387.5 251.9h7.41v3.86h-7.41zM387.5 259.4h7.41v3.86h-7.41zM387.5 289.1h7.41v3.86h-7.41zM394.8 226.0h7.41v3.86h-7.41zM394.8 233.4h7.41v3.86h-7.41zM394.8 263.1h7.41v3.86h-7.41zM394.8 285.4h7.41v3.86h-7.41zM394.8 292.8h7.41v3.86h-7.41zM394.8 311.3h7.41v3.86h-7.41zM394.8 367.0h7.41v3.86h-7.41zM402.1 285.4h7.41v3.86h-7.41zM402.1 307.6h7.41v3.86h-7.41zM402.1 318.8h7.41v3.86h-7.41zM402.1 352.2h7.41v3.86h-7.41zM402.1 363.3h7.41v3.86h-7.41zM409.3 378.2h7.41v3.86h-7.41zM416.6 229.7h7.41v3.86h-7.41zM416.6 289.1h7.41v3.86h-7.41zM416.6 337.3h7.41v3.86h-7.41zM423.9 251.9h7.41v3.86h-7.41zM423.9 274.2h7.41v3.86h-7.41zM423.9 311.3h7.41v3.86h-7.41zM431.1 229.7h7.41v3.86h-7.41zM431.1 266.8h7.41v3.86h-7.41zM431.1 270.5h7.41v3.86h-7.41zM431.1 303.9h7.41v3.86h-7.41zM431.1 348.5h7.41v3.86h-7.41zM431.1 355.9h7.41v3.86h-7.41zM438.4 229.7h7.41v3.86h-7.41zM438.4 233.4h7.41v3.86h-7.41zM438.4 240.8h7.41v3.86h-7.41zM438.4 289.1h7.41v3.86h-7.41zM438.4 315.1h7.41v3.86h-7.41zM438.4 322.5h7.41v3.86h-7.41zM438.4 333.6h7.41v3.86h-7.41zM445.6 218.5h7.41v3.86h-7.41zM445.6 255.7h7.41v3.86h-7.41zM445.6 344.8h7.41v3.86h-7.41zM445.6 385.6h7.41v3.86h-7.41zM452.9 226.0h7.41v3.86h-7.41zM452.9 315.1h7.41v3.86h-7.41zM452.9 344.8h7.41v3.86h-7.41zM460.2 218.5h7.41v3.86h-7.41zM460.2 226.0h7.41v3.86h-7.41zM460.2 233.4h7.41v3.86h-7.41zM460.2 240.8h7.41v3.86h-7.41zM460.2 266.8h7.41v3.86h-7.41zM467.4 214.8h7.41v3.86h-7.41zM467.4 292.8h7.41v3.86h-7.41zM467.4 311.3h7.41v3.86h-7.41zM467.4 322.5h7.41v3.86h-7.41zM467.4 370.7h7.41v3.86h-7.41zM474.7 289.1h7.41v3.86h-7.41zM474.7 318.8h7.41v3.86h-7.41zM474.7 385.6h7.41v3.86h-7.41zM482.0 248.2h7.41v3.86h-7.41zM482.0 277.9h7.41v3.86h-7.41zM482.0 303.9h7.41v3.86h-7.41zM482.0 337.3h7.41v3.86h-7.41zM489.2 218.5h7.41v3.86h-7.41zM489.2 222.2h7.41v3.86h-7.41zM489.2 237.1h7.41v3.86h-7.41zM489.2 248.2h7.41v3.86h-7.41zM489.2 274.2h7.41v3.86h-7.41zM489.2 277.9h7.41v3.86h-7.41zM489.2 300.2h7.41v3.86h-7.41zM489.2 307.6h7.41v3.86h-7.41zM496.5 341.0h7.41v3.86h-7.41zM496.5 348.5h7.41v3.86h-7.41zM496.5 352.2h7.41v3.86h-7.41zM227.8 463.5h7.41v3.86h-7.41zM264.1 411.5h7.41v3.86h-7.41zM344.0 389.3h7.41v3.86h-7.41zM344.0 400.4h7.41v3.86h-7.41zM344.0 422.7h7.41v3.86h-7.41zM344.0 482.0h7.41v3.86h-7.41zM344.0 485.7h7.41v3.86h-7.41zM344.0 515.4h7.41v3.86h-7.41zM344.0 519.1h7.41v3.86h-7.41zM351.2 419.0h7.41v3.86h-7.41zM351.2 426.4h7.41v3.86h-7.41zM351.2 430.1h7.41v3.86h-7.41zM351.2 478.3h7.41v3.86h-7.41zM351.2 485.7h7.41v3.86h-7.41zM351.2 504.3h7.41v3.86h-7.41zM351.2 545.0h7.41v3.86h-7.41zM351.2 552.5h7.41v3.86h-7.41zM351.2 563.6h7.41v3.86h-7.41zM365.8 463.5h7.41v3.86h-7.41zM373.0 433.8h7.41v3.86h-7.41zM373.0 437.5h7.41v3.86h-7.41zM373.0 441.2h7.41v3.86h-7.41zM373.0 463.5h7.41v3.86h-7.41zM373.0 511.7h7.41v3.86h-7.41zM373.0 545.0h7.41v3.86h-7.41zM373.0 563.6h7.41v3.86h-7.41zM380.3 422.7h7.41v3.86h-7.41zM380.3 441.2h7.41v3.86h-7.41zM380.3 478.3h7.41v3.86h-7.41zM380.3 563.6h7.41v3.86h-7.41zM387.5 415.3h7.41v3.86h-7.41zM387.5 444.9h7.41v3.86h-7.41zM387.5 459.8h7.41v3.86h-7.41zM387.5 526.5h7.41v3.86h-7.41zM387.5 537.6h7.41v3.86h-7.41zM394.8 404.1h7.41v3.86h-7.41zM394.8 415.3h7.41v3.86h-7.41zM394.8 448.6h7.41v3.86h-7.41zM394.8 463.5h7.41v3.86h-7.41zM394.8 478.3h7.41v3.86h-7.41zM394.8 500.5h7.41v3.86h-7.41zM394.8 508.0h7.41v3.86h-7.41zM394.8 519.1h7.41v3.86h-7.41zM394.8 533.9h7.41v3.86h-7.41zM394.8 545.0h7.41v3.86h-7.41zM402.1 404.1h7.41v3.86h-7.41zM402.1 441.2h7.41v3.86h-7.41zM402.1 467.2h7.41v3.86h-7.41zM402.1 530.2h7.41v3.86h-7.41zM402.1 548.8h7.41v3.86h-7.41zM409.3 400.4h7.41v3.86h-7.41zM409.3 444.9h7.41v3.86h-7.41zM409.3 463.5h7.41v3.86h-7.41zM409.3 526.5h7.41v3.86h-7.41zM409.3 545.0h7.41v3.86h-7.41zM409.3 556.2h7.41v3.86h-7.41zM416.6 426.4h7.41v3.86h-7.41zM416.6 430.1h7.41v3.86h-7.41zM416.6 433.8h7.41v3.86h-7.41zM416.6 474.6h7.41v3.86h-7.41zM416.6 489.4h7.41v3.86h-7.41zM416.6 522.8h7.41v3.86h-7.41zM416.6 526.5h7.41v3.86h-7.41zM416.6 537.6h7.41v3.86h-7.41zM416.6 545.0h7.41v3.86h-7.41zM423.9 415.3h7.41v3.86h-7.41zM423.9 474.6h7.41v3.86h-7.41zM423.9 485.7h7.41v3.86h-7.41zM423.9 508.0h7.41v3.86h-7.41zM423.9 548.8h7.41v3.86h-7.41zM431.1 389.3h7.41v3.86h-7.41zM431.1 433.8h7.41v3.86h-7.41zM431.1 456.0h7.41v3.86h-7.41zM431.1 463.5h7.41v3.86h-7.41zM431.1 504.3h7.41v3.86h-7.41zM431.1 508.0h7.41v3.86h-7.41zM431.1 522.8h7.41v3.86h-7.41zM431.1 533.9h7.41v3.86h-7.41zM438.4 422.7h7.41v3.86h-7.41zM438.4 430.1h7.41v3.86h-7.41zM438.4 437.5h7.41v3.86h-7.41zM438.4 452.3h7.41v3.86h-7.41zM438.4 463.5h7.41v3.86h-7.41zM438.4 545.0h7.41v3.86h-7.41zM438.4 556.2h7.41v3.86h-7.41zM438.4 567.3h7.41v3.86h-7.41zM445.6 404.1h7.41v3.86h-7.41zM445.6 441.2h7.41v3.86h-7.41zM445.6 482.0h7.41v3.86h-7.41zM445.6 496.8h7.41v3.86h-7.41zM445.6 533.9h7.41v3.86h-7.41zM452.9 400.4h7.41v3.86h-7.41zM452.9 433.8h7.41v3.86h-7.41zM452.9 456.0h7.41v3.86h-7.41zM452.9 482.0h7.41v3.86h-7.41zM452.9 489.4h7.41v3.86h-7.41zM452.9 496.8h7.41v3.86h-7.41zM452.9 508.0h7.41v3.86h-7.41zM452.9 515.4h7.41v3.86h-7.41zM452.9 533.9h7.41v3.86h-7.41zM452.9 541.3h7.41v3.86h-7.41zM452.9 559.9h7.41v3.86h-7.41zM460.2 396.7h7.41v3.86h-7.41zM460.2 470.9h7.41v3.86h-7.41zM460.2 489.4h7.41v3.86h-7.41zM460.2 496.8h7.41v3.86h-7.41zM460.2 519.1h7.41v3.86h-7.41zM467.4 400.4h7.41v3.86h-7.41zM467.4 415.3h7.41v3.86h-7.41zM467.4 430.1h7.41v3.86h-7.41zM467.4 433.8h7.41v3.86h-7.41zM467.4 441.2h7.41v3.86h-7.41zM467.4 459.8h7.41v3.86h-7.41zM467.4 470.9h7.41v3.86h-7.41zM467.4 485.7h7.41v3.86h-7.41zM467.4 552.5h7.41v3.86h-7.41zM474.7 393.0h7.41v3.86h-7.41zM474.7 456.0h7.41v3.86h-7.41zM474.7 511.7h7.41v3.86h-7.41zM474.7 559.9h7.41v3.86h-7.41zM482.0 411.5h7.41v3.86h-7.41zM482.0 444.9h7.41v3.86h-7.41zM482.0 504.3h7.41v3.86h-7.41zM482.0 519.1h7.41v3.86h-7.41zM489.2 389.3h7.41v3.86h-7.41zM489.2 396.7h7.41v3.86h-7.41zM489.2 404.1h7.41v3.86h-7.41zM489.2 493.1h7.41v3.86h-7.41zM496.5 389.3h7.41v3.86h-7.41zM496.5 404.1h7.41v3.86h-7.41zM496.5 407.8h7.41v3.86h-7.41zM496.5 411.5h7.41v3.86h-7.41zM496.5 419.0h7.41v3.86h-7.41zM496.5 448.6h7.41v3.86h-7.41zM496.5 456.0h7.41v3.86h-7.41zM496.5 504.3h7.41v3.86h-7.41zM496.5 511.7h7.41v3.86h-7.41zM496.5 515.4h7.41v3.86h-7.41zM503.7 396.7h7.41v3.86h-7.41zM503.7 411.5h7.41v3.86h-7.41zM503.7 496.8h7.41v3.86h-7.41zM503.7 500.5h7.41v3.86h-7.41zM503.7 508.0h7.41v3.86h-7.41zM503.7 556.2h7.41v3.86h-7.41z"/>
<path fill="#ffffff" d="M344.0 255.7h7.41v3.86h-7.41zM344.0 259.4h7.41v3.86h-7.41zM344.0 281.6h7.41v3.86h-7.41zM344.0 289.1h7.41v3.86h-7.41zM344.0 307.6h7.41v3.86h-7.41zM351.2 244.5h7.41v3.86h-7.41zM351.2 255.7h7.41v3.86h-7.41zM351.2 296.5h7.41v3.86h-7.41zM358.5 214.8h7.41v3.86h-7.41zM358.5 218.5h7.41v3.86h-7.41zM358.5 226.0h7.41v3.86h-7.41zM358.5 251.9h7.41v3.86h-7.41zM358.5 255.7h7.41v3.86h-7.41zM358.5 292.8h7.41v3.86h-7.41zM358.5 318.8h7.41v3.86h-7.41zM358.5 322.5h7.41v3.86h-7.41zM358.5 333.6h7.41v3.86h-7.41zM365.8 237.1h7.41v3.86h-7.41zM365.8 255.7h7.41v3.86h-7.41zM365.8 259.4h7.41v3.86h-7.41zM365.8 285.4h7.41v3.86h-7.41zM365.8 289.1h7.41v3.86h-7.41zM365.8 307.6h7.41v3.86h-7.41zM365.8 311.3h7.41v3.86h-7.41zM365.8 333.6h7.41v3.86h-7.41zM373.0 211.1h7.41v3.86h-7.41zM373.0 218.5h7.41v3.86h-7.41zM373.0 229.7h7.41v3.86h-7.41zM373.0 255.7h7.41v3.86h-7.41zM373.0 259.4h7.41v3.86h-7.41zM373.0 277.9h7.41v3.86h-7.41zM373.0 367.0h7.41v3.86h-7.41zM380.3 207.4h7.41v3.86h-7.41zM380.3 211.1h7.41v3.86h-7.41zM380.3 218.5h7.41v3.86h-7.41zM380.3 292.8h7.41v3.86h-7.41zM387.5 211.1h7.41v3.86h-7.41zM387.5 218.5h7.41v3.86h-7.41zM387.5 226.0h7.41v3.86h-7.41zM387.5 233.4h7.41v3.86h-7.41zM387.5 255.7h7.41v3.86h-7.41zM387.5 318.8h7.41v3.86h-7.41zM394.8 211.1h7.41v3.86h-7.41zM394.8 214.8h7.41v3.86h-7.41zM394.8 218.5h7.41v3.86h-7.41zM394.8 222.2h7.41v3.86h-7.41zM394.8 229.7h7.41v3.86h-7.41zM394.8 240.8h7.41v3.86h-7.41zM402.1 207.4h7.41v3.86h-7.41zM402.1 226.0h7.41v3.86h-7.41zM402.1 229.7h7.41v3.86h-7.41zM402.1 237.1h7.41v3.86h-7.41zM402.1 240.8h7.41v3.86h-7.41zM402.1 255.7h7.41v3.86h-7.41zM402.1 289.1h7.41v3.86h-7.41zM402.1 326.2h7.41v3.86h-7.41zM402.1 337.3h7.41v3.86h-7.41zM402.1 344.8h7.41v3.86h-7.41zM409.3 211.1h7.41v3.86h-7.41zM409.3 226.0h7.41v3.86h-7.41zM409.3 244.5h7.41v3.86h-7.41zM409.3 292.8h7.41v3.86h-7.41zM409.3 311.3h7.41v3.86h-7.41zM409.3 322.5h7.41v3.86h-7.41zM409.3 326.2h7.41v3.86h-7.41zM409.3 329.9h7.41v3.86h-7.41zM409.3 337.3h7.41v3.86h-7.41zM409.3 348.5h7.41v3.86h-7.41zM409.3 355.9h7.41v3.86h-7.41zM409.3 363.3h7.41v3.86h-7.41zM409.3 385.6h7.41v3.86h-7.41zM416.6 222.2h7.41v3.86h-7.41zM416.6 237.1h7.41v3.86h-7.41zM416.6 255.7h7.41v3.86h-7.41zM416.6 274.2h7.41v3.86h-7.41zM416.6 367.0h7.41v3.86h-7.41zM423.9 207.4h7.41v3.86h-7.41zM423.9 226.0h7.41v3.86h-7.41zM423.9 229.7h7.41v3.86h-7.41zM423.9 248.2h7.41v3.86h-7.41zM423.9 255.7h7.41v3.86h-7.41zM423.9 270.5h7.41v3.86h-7.41zM423.9 277.9h7.41v3.86h-7.41zM423.9 281.6h7.41v3.86h-7.41zM423.9 289.1h7.41v3.86h-7.41zM423.9 307.6h7.41v3.86h-7.41zM423.9 322.5h7.41v3.86h-7.41zM423.9 326.2h7.41v3.86h-7.41zM423.9 355.9h7.41v3.86h-7.41zM423.9 363.3h7.41v3.86h-7.41zM423.9 370.7h7.41v3.86h-7.41zM423.9 374.5h7.41v3.86h-7.41zM431.1 218.5h7.41v3.86h-7.41zM431.1 222.2h7.41v3.86h-7.41zM431.1 240.8h7.41v3.86h-7.41zM431.1 251.9h7.41v3.86h-7.41zM431.1 292.8h7.41v3.86h-7.41zM431.1 352.2h7.41v3.86h-7.41zM431.1 378.2h7.41v3.86h-7.41zM438.4 296.5h7.41v3.86h-7.41zM438.4 318.8h7.41v3.86h-7.41zM445.6 251.9h7.41v3.86h-7.41zM445.6 259.4h7.41v3.86h-7.41zM445.6 266.8h7.41v3.86h-7.41zM445.6 285.4h7.41v3.86h-7.41zM445.6 315.1h7.41v3.86h-7.41zM452.9 211.1h7.41v3.86h-7.41zM452.9 218.5h7.41v3.86h-7.41zM452.9 233.4h7.41v3.86h-7.41zM452.9 240.8h7.41v3.86h-7.41zM452.9 251.9h7.41v3.86h-7.41zM452.9 263.1h7.41v3.86h-7.41zM452.9 348.5h7.41v3.86h-7.41zM452.9 381.9h7.41v3.86h-7.41zM460.2 322.5h7.41v3.86h-7.41zM460.2 326.2h7.41v3.86h-7.41zM460.2 333.6h7.41v3.86h-7.41zM460.2 385.6h7.41v3.86h-7.41zM467.4 233.4h7.41v3.86h-7.41zM467.4 263.1h7.41v3.86h-7.41zM467.4 270.5h7.41v3.86h-7.41zM467.4 315.1h7.41v3.86h-7.41zM467.4 326.2h7.41v3.86h-7.41zM467.4 341.0h7.41v3.86h-7.41zM467.4 355.9h7.41v3.86h-7.41zM467.4 367.0h7.41v3.86h-7.41zM474.7 211.1h7.41v3.86h-7.41zM474.7 237.1h7.41v3.86h-7.41zM474.7 248.2h7.41v3.86h-7.41zM474.7 315.1h7.41v3.86h-7.41zM474.7 344.8h7.41v3.86h-7.41zM474.7 370.7h7.41v3.86h-7.41zM482.0 266.8h7.41v3.86h-7.41zM482.0 326.2h7.41v3.86h-7.41zM482.0 341.0h7.41v3.86h-7.41zM482.0 385.6h7.41v3.86h-7.41zM489.2 207.4h7.41v3.86h-7.41zM489.2 233.4h7.41v3.86h-7.41zM489.2 244.5h7.41v3.86h-7.41zM489.2 318.8h7.41v3.86h-7.41zM489.2 337.3h7.41v3.86h-7.41zM489.2 374.5h7.41v3.86h-7.41zM496.5 251.9h7.41v3.86h-7.41zM496.5 303.9h7.41v3.86h-7.41zM496.5 344.8h7.41v3.86h-7.41zM496.5 374.5h7.41v3.86h-7.41zM503.7 229.7h7.41v3.86h-7.41zM503.7 244.5h7.41v3.86h-7.41zM503.7 251.9h7.41v3.86h-7.41zM503.7 329.9h7.41v3.86h-7.41zM503.7 341.0h7.41v3.86h-7.41zM206.0 537.6h7.41v3.86h-7.41zM213.3 537.6h7.41v3.86h-7.41zM220.5 537.6h7.41v3.86h-7.41zM227.8 419.0h7.41v3.86h-7.41zM227.8 537.6h7.41v3.86h-7.41zM235.0 419.0h7.41v3.86h-7.41zM235.0 537.6h7.41v3.86h-7.41zM242.3 419.0h7.41v3.86h-7.41zM242.3 537.6h7.41v3.86h-7.41zM249.6 419.0h7.41v3.86h-7.41zM249.6 537.6h7.41v3.86h-7.41zM256.8 419.0h7.41v3.86h-7.41zM256.8 537.6h7.41v3.86h-7.41zM264.1 419.0h7.41v3.86h-7.41zM264.1 537.6h7.41v3.86h-7.41zM271.4 396.7h7.41v3.86h-7.41zM271.4 407.8h7.41v3.86h-7.41zM271.4 433.8h7.41v3.86h-7.41zM271.4 452.3h7.41v3.86h-7.41zM271.4 459.8h7.41v3.86h-7.41zM271.4 463.5h7.41v3.86h-7.41zM271.4 482.0h7.41v3.86h-7.41zM271.4 504.3h7.41v3.86h-7.41zM271.4 519.1h7.41v3.86h-7.41zM271.4 526.5h7.41v3.86h-7.41zM271.4 559.9h7.41v3.86h-7.41zM278.6 433.8h7.41v3.86h-7.41zM285.9 452.3h7.41v3.86h-7.41zM285.9 459.8h7.41v3.86h-7.41zM285.9 500.5h7.41v3.86h-7.41zM293.1 433.8h7.41v3.86h-7.41zM293.1 444.9h7.41v3.86h-7.41zM293.1 508.0h7.41v3.86h-7.41zM293.1 526.5h7.41v3.86h-7.41zM293.1 563.6h7.41v3.86h-7.41zM344.0 404.1h7.41v3.86h-7.41zM344.0 407.8h7.41v3.86h-7.41zM344.0 430.1h7.41v3.86h-7.41zM344.0 433.8h7.41v3.86h-7.41zM344.0 444.9h7.41v3.86h-7.41zM344.0 448.6h7.41v3.86h-7.41zM344.0 496.8h7.41v3.86h-7.41zM344.0 533.9h7.41v3.86h-7.41zM344.0 537.6h7.41v3.86h-7.41zM344.0 541.3h7.41v3.86h-7.41zM344.0 563.6h7.41v3.86h-7.41zM351.2 422.7h7.41v3.86h-7.41zM351.2 452.3h7.41v3.86h-7.41zM351.2 511.7h7.41v3.86h-7.41zM358.5 396.7h7.41v3.86h-7.41zM358.5 404.1h7.41v3.86h-7.41zM358.5 459.8h7.41v3.86h-7.41zM358.5 463.5h7.41v3.86h-7.41zM358.5 537.6h7.41v3.86h-7.41zM365.8 396.7h7.41v3.86h-7.41zM365.8 411.5h7.41v3.86h-7.41zM365.8 422.7h7.41v3.86h-7.41zM365.8 448.6h7.41v3.86h-7.41zM365.8 493.1h7.41v3.86h-7.41zM365.8 504.3h7.41v3.86h-7.41zM365.8 567.3h7.41v3.86h-7.41zM373.0 396.7h7.41v3.86h-7.41zM373.0 407.8h7.41v3.86h-7.41zM373.0 456.0h7.41v3.86h-7.41zM373.0 496.8h7.41v3.86h-7.41zM373.0 504.3h7.41v3.86h-7.41zM373.0 519.1h7.41v3.86h-7.41zM373.0 552.5h7.41v3.86h-7.41zM380.3 389.3h7.41v3.86h-7.41zM380.3 400.4h7.41v3.86h-7.41zM380.3 404.1h7.41v3.86h-7.41zM380.3 415.3h7.41v3.86h-7.41zM380.3 433.8h7.41v3.86h-7.41zM380.3 452.3h7.41v3.86h-7.41zM380.3 519.1h7.41v3.86h-7.41zM380.3 526.5h7.41v3.86h-7.41zM387.5 396.7h7.41v3.86h-7.41zM387.5 407.8h7.41v3.86h-7.41zM387.5 422.7h7.41v3.86h-7.41zM387.5 452.3h7.41v3.86h-7.41zM387.5 467.2h7.41v3.86h-7.41zM387.5 504.3h7.41v3.86h-7.41zM387.5 511.7h7.41v3.86h-7.41zM387.5 515.4h7.41v3.86h-7.41zM387.5 533.9h7.41v3.86h-7.41zM387.5 552.5h7.41v3.86h-7.41zM387.5 563.6h7.41v3.86h-7.41zM394.8 393.0h7.41v3.86h-7.41zM394.8 411.5h7.41v3.86h-7.41zM394.8 419.0h7.41v3.86h-7.41zM394.8 422.7h7.41v3.86h-7.41zM394.8 437.5h7.41v3.86h-7.41zM394.8 452.3h7.41v3.86h-7.41zM394.8 459.8h7.41v3.86h-7.41zM394.8 504.3h7.41v3.86h-7.41zM394.8 522.8h7.41v3.86h-7.41zM394.8 530.2h7.41v3.86h-7.41zM394.8 541.3h7.41v3.86h-7.41zM394.8 548.8h7.41v3.86h-7.41zM394.8 556.2h7.41v3.86h-7.41zM394.8 567.3h7.41v3.86h-7.41zM402.1 419.0h7.41v3.86h-7.41zM402.1 426.4h7.41v3.86h-7.41zM402.1 470.9h7.41v3.86h-7.41zM402.1 508.0h7.41v3.86h-7.41zM402.1 515.4h7.41v3.86h-7.41zM402.1 545.0h7.41v3.86h-7.41zM402.1 556.2h7.41v3.86h-7.41zM402.1 567.3h7.41v3.86h-7.41zM409.3 389.3h7.41v3.86h-7.41zM409.3 415.3h7.41v3.86h-7.41zM409.3 467.2h7.41v3.86h-7.41zM409.3 474.6h7.41v3.86h-7.41zM409.3 478.3h7.41v3.86h-7.41zM409.3 504.3h7.41v3.86h-7.41zM409.3 515.4h7.41v3.86h-7.41zM409.3 567.3h7.41v3.86h-7.41zM416.6 419.0h7.41v3.86h-7.41zM416.6 470.9h7.41v3.86h-7.41zM416.6 552.5h7.41v3.86h-7.41zM423.9 407.8h7.41v3.86h-7.41zM423.9 426.4h7.41v3.86h-7.41zM423.9 437.5h7.41v3.86h-7.41zM423.9 441.2h7.41v3.86h-7.41zM423.9 444.9h7.41v3.86h-7.41zM423.9 452.3h7.41v3.86h-7.41zM423.9 467.2h7.41v3.86h-7.41zM423.9 500.5h7.41v3.86h-7.41zM423.9 530.2h7.41v3.86h-7.41zM423.9 537.6h7.41v3.86h-7.41zM423.9 541.3h7.41v3.86h-7.41zM423.9 552.5h7.41v3.86h-7.41zM423.9 556.2h7.41v3.86h-7.41zM423.9 559.9h7.41v3.86h-7.41zM423.9 563.6h7.41v3.86h-7.41zM431.1 452.3h7.41v3.86h-7.41zM431.1 467.2h7.41v3.86h-7.41zM431.1 474.6h7.41v3.86h-7.41zM431.1 496.8h7.41v3.86h-7.41zM431.1 500.5h7.41v3.86h-7.41zM431.1 556.2h7.41v3.86h-7.41zM431.1 559.9h7.41v3.86h-7.41zM438.4 389.3h7.41v3.86h-7.41zM438.4 407.8h7.41v3.86h-7.41zM438.4 426.4h7.41v3.86h-7.41zM438.4 441.2h7.41v3.86h-7.41zM438.4 467.2h7.41v3.86h-7.41zM438.4 496.8h7.41v3.86h-7.41zM452.9 437.5h7.41v3.86h-7.41zM452.9 452.3h7.41v3.86h-7.41zM452.9 467.2h7.41v3.86h-7.41zM452.9 556.2h7.41v3.86h-7.41zM460.2 389.3h7.41v3.86h-7.41zM460.2 407.8h7.41v3.86h-7.41zM460.2 433.8h7.41v3.86h-7.41zM467.4 530.2h7.41v3.86h-7.41zM467.4 537.6h7.41v3.86h-7.41zM474.7 404.1h7.41v3.86h-7.41zM474.7 441.2h7.41v3.86h-7.41zM474.7 485.7h7.41v3.86h-7.41zM474.7 493.1h7.41v3.86h-7.41zM474.7 496.8h7.41v3.86h-7.41zM482.0 396.7h7.41v3.86h-7.41zM482.0 430.1h7.41v3.86h-7.41zM482.0 433.8h7.41v3.86h-7.41zM482.0 493.1h7.41v3.86h-7.41zM482.0 526.5h7.41v3.86h-7.41zM482.0 545.0h7.41v3.86h-7.41zM482.0 548.8h7.41v3.86h-7.41zM489.2 407.8h7.41v3.86h-7.41zM489.2 463.5h7.41v3.86h-7.41zM489.2 485.7h7.41v3.86h-7.41zM489.2 504.3h7.41v3.86h-7.41zM489.2 511.7h7.41v3.86h-7.41zM489.2 515.4h7.41v3.86h-7.41zM489.2 533.9h7.41v3.86h-7.41zM489.2 559.9h7.41v3.86h-7.41zM496.5 396.7h7.41v3.86h-7.41zM496.5 422.7h7.41v3.86h-7.41zM496.5 430.1h7.41v3.86h-7.41zM496.5 444.9h7.41v3.86h-7.41zM496.5 463.5h7.41v3.86h-7.41zM496.5 478.3h7.41v3.86h-7.41zM496.5 485.7h7.41v3.86h-7.41zM496.5 548.8h7.41v3.86h-7.41zM503.7 426.4h7.41v3.86h-7.41zM503.7 470.9h7.41v3.86h-7.41zM503.7 545.0h7.41v3.86h-7.41zM503.7 567.3h7.41v3.86h-7.41z"/>
<path fill="#b294ca" d="M387.5 326.2h7.41v3.86h-7.41zM387.5 367.0h7.41v3.86h-7.41zM387.5 370.7h7.41v3.86h-7.41zM438.4 385.6h7.41v3.86h-7.41zM482.0 214.8h7.41v3.86h-7.41zM206.0 448.6h7.41v3.86h-7.41zM206.0 459.8h7.41v3.86h-7.41zM206.0 504.3h7.41v3.86h-7.41zM206.0 511.7h7.41v3.86h-7.41zM206.0 526.5h7.41v3.86h-7.41zM206.0 548.8h7.41v3.86h-7.41zM206.0 559.9h7.41v3.86h-7.41zM213.3 389.3h7.41v3.86h-7.41zM213.3 422.7h7.41v3.86h-7.41zM213.3 459.8h7.41v3.86h-7.41zM213.3 474.6h7.41v3.86h-7.41zM213.3 489.4h7.41v3.86h-7.41zM213.3 493.1h7.41v3.86h-7.41zM213.3 496.8h7.41v3.86h-7.41zM213.3 548.8h7.41v3.86h-7.41zM213.3 556.2h7.41v3.86h-7.41zM213.3 563.6h7.41v3.86h-7.41zM220.5 389.3h7.41v3.86h-7.41zM220.5 411.5h7.41v3.86h-7.41zM220.5 419.0h7.41v3.86h-7.41zM220.5 441.2h7.41v3.86h-7.41zM220.5 448.6h7.41v3.86h-7.41zM220.5 463.5h7.41v3.86h-7.41zM220.5 496.8h7.41v3.86h-7.41zM220.5 500.5h7.41v3.86h-7.41zM220.5 526.5h7.41v3.86h-7.41zM220.5 541.3h7.41v3.86h-7.41zM220.5 559.9h7.41v3.86h-7.41zM227.8 393.0h7.41v3.86h-7.41zM227.8 400.4h7.41v3.86h-7.41zM227.8 456.0h7.41v3.86h-7.41zM227.8 459.8h7.41v3.86h-7.41zM227.8 467.2h7.41v3.86h-7.41zM227.8 559.9h7.41v3.86h-7.41zM235.0 444.9h7.41v3.86h-7.41zM235.0 452.3h7.41v3.86h-7.41zM235.0 470.9h7.41v3.86h-7.41zM235.0 485.7h7.41v3.86h-7.41zM235.0 493.1h7.41v3.86h-7.41zM235.0 500.5h7.41v3.86h-7.41zM235.0 519.1h7.41v3.86h-7.41zM235.0 563.6h7.41v3.86h-7.41zM242.3 407.8h7.41v3.86h-7.41zM242.3 426.4h7.41v3.86h-7.41zM242.3 448.6h7.41v3.86h-7.41zM242.3 456.0h7.41v3.86h-7.41zM242.3 474.6h7.41v3.86h-7.41zM242.3 485.7h7.41v3.86h-7.41zM242.3 493.1h7.41v3.86h-7.41zM242.3 496.8h7.41v3.86h-7.41zM242.3 511.7h7.41v3.86h-7.41zM242.3 515.4h7.41v3.86h-7.41zM242.3 559.9h7.41v3.86h-7.41zM249.6 404.1h7.41v3.86h-7.41zM249.6 456.0h7.41v3.86h-7.41zM249.6 478.3h7.41v3.86h-7.41zM249.6 482.0h7.41v3.86h-7.41zM249.6 496.8h7.41v3.86h-7.41zM249.6 519.1h7.41v3.86h-7.41zM249.6 530.2h7.41v3.86h-7.41zM249.6 533.9h7.41v3.86h-7.41zM249.6 556.2h7.41v3.86h-7.41zM256.8 444.9h7.41v3.86h-7.41zM256.8 533.9h7.41v3.86h-7.41zM256.8 556.2h7.41v3.86h-7.41zM264.1 389.3h7.41v3.86h-7.41zM264.1 393.0h7.41v3.86h-7.41zM264.1 400.4h7.41v3.86h-7.41zM264.1 508.0h7.41v3.86h-7.41zM394.8 441.2h7.41v3.86h-7.41zM431.1 441.2h7.41v3.86h-7.41zM438.4 411.5h7.41v3.86h-7.41zM438.4 515.4h7.41v3.86h-7.41zM445.6 415.3h7.41v3.86h-7.41zM445.6 500.5h7.41v3.86h-7.41zM445.6 541.3h7.41v3.86h-7.41zM445.6 545.0h7.41v3.86h-7.41zM452.9 419.0h7.41v3.86h-7.41zM460.2 415.3h7.41v3.86h-7.41zM467.4 393.0h7.41v3.86h-7.41zM467.4 411.5h7.41v3.86h-7.41zM467.4 548.8h7.41v3.86h-7.41zM474.7 411.5h7.41v3.86h-7.41zM474.7 489.4h7.41v3.86h-7.41zM474.7 515.4h7.41v3.86h-7.41z"/>
<path fill="#a886c4" d="M387.5 329.9h7.41v3.86h-7.41zM206.0 393.0h7.41v3.86h-7.41zM206.0 437.5h7.41v3.86h-7.41zM206.0 463.5h7.41v3.86h-7.41zM206.0 530.2h7.41v3.86h-7.41zM206.0 556.2h7.41v3.86h-7.41zM213.3 400.4h7.41v3.86h-7.41zM213.3 526.5h7.41v3.86h-7.41zM213.3 530.2h7.41v3.86h-7.41zM220.5 393.0h7.41v3.86h-7.41zM220.5 396.7h7.41v3.86h-7.41zM220.5 430.1h7.41v3.86h-7.41zM220.5 452.3h7.41v3.86h-7.41zM220.5 482.0h7.41v3.86h-7.41zM220.5 493.1h7.41v3.86h-7.41zM220.5 504.3h7.41v3.86h-7.41zM220.5 508.0h7.41v3.86h-7.41zM220.5 519.1h7.41v3.86h-7.41zM220.5 548.8h7.41v3.86h-7.41zM220.5 552.5h7.41v3.86h-7.41zM227.8 426.4h7.41v3.86h-7.41zM235.0 433.8h7.41v3.86h-7.41zM235.0 467.2h7.41v3.86h-7.41zM235.0 478.3h7.41v3.86h-7.41zM235.0 533.9h7.41v3.86h-7.41zM235.0 559.9h7.41v3.86h-7.41zM242.3 389.3h7.41v3.86h-7.41zM242.3 393.0h7.41v3.86h-7.41zM242.3 396.7h7.41v3.86h-7.41zM242.3 441.2h7.41v3.86h-7.41zM242.3 444.9h7.41v3.86h-7.41zM242.3 452.3h7.41v3.86h-7.41zM242.3 504.3h7.41v3.86h-7.41zM242.3 533.9h7.41v3.86h-7.41zM242.3 541.3h7.41v3.86h-7.41zM249.6 389.3h7.41v3.86h-7.41zM249.6 400.4h7.41v3.86h-7.41zM249.6 448.6h7.41v3.86h-7.41zM249.6 493.1h7.41v3.86h-7.41zM249.6 515.4h7.41v3.86h-7.41zM249.6 563.6h7.41v3.86h-7.41zM256.8 396.7h7.41v3.86h-7.41zM256.8 470.9h7.41v3.86h-7.41zM256.8 474.6h7.41v3.86h-7.41zM256.8 485.7h7.41v3.86h-7.41zM256.8 519.1h7.41v3.86h-7.41zM264.1 426.4h7.41v3.86h-7.41zM264.1 567.3h7.41v3.86h-7.41zM438.4 519.1h7.41v3.86h-7.41zM445.6 463.5h7.41v3.86h-7.41zM460.2 508.0h7.41v3.86h-7.41zM460.2 552.5h7.41v3.86h-7.41zM467.4 467.2h7.41v3.86h-7.41zM474.7 463.5h7.41v3.86h-7.41zM503.7 537.6h7.41v3.86h-7.41z"/>
<path fill="#9e79bd" d="M467.4 237.1h7.41v3.86h-7.41zM206.0 400.4h7.41v3.86h-7.41zM206.0 563.6h7.41v3.86h-7.41zM220.5 511.7h7.41v3.86h-7.41zM220.5 530.2h7.41v3.86h-7.41zM220.5 563.6h7.41v3.86h-7.41zM235.0 389.3h7.41v3.86h-7.41zM235.0 426.4h7.41v3.86h-7.41zM242.3 400.4h7.41v3.86h-7.41zM242.3 478.3h7.41v3.86h-7.41zM242.3 500.5h7.41v3.86h-7.41zM242.3 508.0h7.41v3.86h-7.41zM249.6 393.0h7.41v3.86h-7.41zM249.6 444.9h7.41v3.86h-7.41zM249.6 508.0h7.41v3.86h-7.41zM249.6 567.3h7.41v3.86h-7.41zM256.8 415.3h7.41v3.86h-7.41zM438.4 419.0h7.41v3.86h-7.41zM474.7 419.0h7.41v3.86h-7.41zM489.2 400.4h7.41v3.86h-7.41zM503.7 522.8h7.41v3.86h-7.41z"/>
<path fill="#f6eb31" d="M474.7 303.9h7.41v3.86h-7.41z"/>
<path fill="#f9f16c" d="M503.7 367.0h7.41v3.86h-7.41zM452.9 389.3h7.41v3.86h-7.41z"/>
<path fill="#946bb7" d="M249.6 426.4h7.41v3.86h-7.41zM256.8 400.4h7.41v3.86h-7.41zM256.8 530.2h7.41v3.86h-7.41zM438.4 563.6h7.41v3.86h-7.41zM460.2 419.0h7.41v3.86h-7.41zM467.4 396.7h7.41v3.86h-7.41zM467.4 463.5h7.41v3.86h-7.41z"/>
<path fill="#8b5eb0" d="M438.4 500.5h7.41v3.86h-7.41zM445.6 411.5h7.41v3.86h-7.41zM445.6 419.0h7.41v3.86h-7.41zM467.4 419.0h7.41v3.86h-7.41z"/>
<path d="M227.79 207.4V571.0" stroke="#333340" stroke-width="1.2"/>
<path d="M271.36 207.4V571.0" stroke="#333340" stroke-width="1.2"/>
<path d="M300.40 207.4V571.0" stroke="#333340" stroke-width="1.2"/>
<path d="M343.98 207.4V571.0" stroke="#333340" stroke-width="1.2"/>
<path d="M402.07 207.4V571.0" stroke="#333340" stroke-width="1.2"/>
<path d="M438.38 207.4V571.0" stroke="#333340" stroke-width="1.2"/>
<path d="M481.95 207.4V571.0" stroke="#333340" stroke-width="1.2"/>
<path d="M206.0 207.4V571.0M511.0 207.4V571.0" stroke="#2a2a2a" stroke-width="1.1"/>
<path d="M206.0 389.3H513" stroke="#2a2a2a" stroke-width="1.4"/>
<path d="M300.40 197.0V206.7" stroke="#333" stroke-width="0.7"/>
<path d="M402.07 197.0V206.7" stroke="#e8c8e0" stroke-width="0.7"/>
<path d="M438.38 197.0V206.7" stroke="#f0c8f0" stroke-width="0.7"/>
<path d="M481.95 197.0V206.7" stroke="#d8c8f0" stroke-width="0.7"/>
<text transform="translate(201.4 210.71) scale(0.25)" font-size="16.4" text-anchor="end" fill="#222">RAMP4A</text>
<text transform="translate(201.4 214.42) scale(0.25)" font-size="16.4" text-anchor="end" fill="#222">SLC9A1</text>
<text transform="translate(201.4 218.13) scale(0.25)" font-size="16.4" text-anchor="end" fill="#222">ACHE</text>
<text transform="translate(201.4 221.84) scale(0.25)" font-size="16.4" text-anchor="end" fill="#222">ADGRA4</text>
<text transform="translate(201.4 225.56) scale(0.25)" font-size="16.4" text-anchor="end" fill="#222">LAMC2</text>
<text transform="translate(201.4 229.27) scale(0.25)" font-size="16.4" text-anchor="end" fill="#222">ATP2A3</text>
<text transform="translate(201.4 232.98) scale(0.25)" font-size="16.4" text-anchor="end" fill="#222">CNTNAP3</text>
<text transform="translate(201.4 236.69) scale(0.25)" font-size="16.4" text-anchor="end" fill="#222">CD24</text>
<text transform="translate(201.4 240.40) scale(0.25)" font-size="16.4" text-anchor="end" fill="#222">BASP1</text>
<text transform="translate(201.4 244.12) scale(0.25)" font-size="16.4" text-anchor="end" fill="#222">UNC13D</text>
<text transform="translate(201.4 247.83) scale(0.25)" font-size="16.4" text-anchor="end" fill="#222">FAM111A</text>
<text transform="translate(201.4 251.54) scale(0.25)" font-size="16.4" text-anchor="end" fill="#222">DCAF5</text>
<text transform="translate(201.4 255.25) scale(0.25)" font-size="16.4" text-anchor="end" fill="#222">SASH1</text>
<text transform="translate(201.4 258.97) scale(0.25)" font-size="16.4" text-anchor="end" fill="#222">OPTN</text>
<text transform="translate(201.4 262.68) scale(0.25)" font-size="16.4" text-anchor="end" fill="#222">FLOT2</text>
<text transform="translate(201.4 266.39) scale(0.25)" font-size="16.4" text-anchor="end" fill="#222">CCDC88</text>
<text transform="translate(201.4 270.10) scale(0.25)" font-size="16.4" text-anchor="end" fill="#222">STOM1</text>
<text transform="translate(201.4 273.81) scale(0.25)" font-size="16.4" text-anchor="end" fill="#222">SPG21</text>
<text transform="translate(201.4 277.53) scale(0.25)" font-size="16.4" text-anchor="end" fill="#222">IMPDH2</text>
<text transform="translate(201.4 281.24) scale(0.25)" font-size="16.4" text-anchor="end" fill="#222">ARHGAP1</text>
<text transform="translate(201.4 284.95) scale(0.25)" font-size="16.4" text-anchor="end" fill="#222">SLC45A3</text>
<text transform="translate(201.4 288.66) scale(0.25)" font-size="16.4" text-anchor="end" fill="#222">PDE5A</text>
<text transform="translate(201.4 292.38) scale(0.25)" font-size="16.4" text-anchor="end" fill="#222">IRX1</text>
<text transform="translate(201.4 296.09) scale(0.25)" font-size="16.4" text-anchor="end" fill="#222">ANKRD1</text>
<text transform="translate(201.4 299.80) scale(0.25)" font-size="16.4" text-anchor="end" fill="#222">FAM171B</text>
<text transform="translate(201.4 303.51) scale(0.25)" font-size="16.4" text-anchor="end" fill="#222">ADAMTS1</text>
<text transform="translate(201.4 307.22) scale(0.25)" font-size="16.4" text-anchor="end" fill="#222">ATRNL1</text>
<text transform="translate(201.4 310.94) scale(0.25)" font-size="16.4" text-anchor="end" fill="#222">SOX4</text>
<text transform="translate(201.4 314.65) scale(0.25)" font-size="16.4" text-anchor="end" fill="#222">NLGN2</text>
<text transform="translate(201.4 318.36) scale(0.25)" font-size="16.4" text-anchor="end" fill="#222">ARID5B</text>
<text transform="translate(201.4 322.07) scale(0.25)" font-size="16.4" text-anchor="end" fill="#222">CUX2</text>
<text transform="translate(201.4 325.79) scale(0.25)" font-size="16.4" text-anchor="end" fill="#222">AKAP2</text>
<text transform="translate(201.4 329.50) scale(0.25)" font-size="16.4" text-anchor="end" fill="#222">RASGRF</text>
<text transform="translate(201.4 333.21) scale(0.25)" font-size="16.4" text-anchor="end" fill="#222">CD36</text>
<text transform="translate(201.4 336.92) scale(0.25)" font-size="16.4" text-anchor="end" fill="#222">PDK4</text>
<text transform="translate(201.4 340.63) scale(0.25)" font-size="16.4" text-anchor="end" fill="#222">SLC7A11</text>
<text transform="translate(201.4 344.35) scale(0.25)" font-size="16.4" text-anchor="end" fill="#222">RND3</text>
<text transform="translate(201.4 348.06) scale(0.25)" font-size="16.4" text-anchor="end" fill="#222">ARRB1</text>
<text transform="translate(201.4 351.77) scale(0.25)" font-size="16.4" text-anchor="end" fill="#222">ZNF165</text>
<text transform="translate(201.4 355.48) scale(0.25)" font-size="16.4" text-anchor="end" fill="#222">TGFB3</text>
<text transform="translate(201.4 359.20) scale(0.25)" font-size="16.4" text-anchor="end" fill="#222">ZNF331</text>
<text transform="translate(201.4 362.91) scale(0.25)" font-size="16.4" text-anchor="end" fill="#222">PRKCD</text>
<text transform="translate(201.4 366.62) scale(0.25)" font-size="16.4" text-anchor="end" fill="#222">ZACC1</text>
<text transform="translate(201.4 370.33) scale(0.25)" font-size="16.4" text-anchor="end" fill="#222">ANXA13</text>
<text transform="translate(201.4 374.04) scale(0.25)" font-size="16.4" text-anchor="end" fill="#222">LIPG</text>
<text transform="translate(201.4 377.76) scale(0.25)" font-size="16.4" text-anchor="end" fill="#222">SLC6A8</text>
<text transform="translate(201.4 381.47) scale(0.25)" font-size="16.4" text-anchor="end" fill="#222">GAS7</text>
<text transform="translate(201.4 385.18) scale(0.25)" font-size="16.4" text-anchor="end" fill="#222">ANKRD28</text>
<text transform="translate(201.4 388.89) scale(0.25)" font-size="16.4" text-anchor="end" fill="#222">ERBB4</text>
<path d="M203.7 209.26H206.0M203.7 212.97H206.0M203.7 216.68H206.0M203.7 220.39H206.0M203.7 224.11H206.0M203.7 227.82H206.0M203.7 231.53H206.0M203.7 235.24H206.0M203.7 238.95H206.0M203.7 242.67H206.0M203.7 246.38H206.0M203.7 250.09H206.0M203.7 253.80H206.0M203.7 257.52H206.0M203.7 261.23H206.0M203.7 264.94H206.0M203.7 268.65H206.0M203.7 272.36H206.0M203.7 276.08H206.0M203.7 279.79H206.0M203.7 283.50H206.0M203.7 287.21H206.0M203.7 290.93H206.0M203.7 294.64H206.0M203.7 298.35H206.0M203.7 302.06H206.0M203.7 305.77H206.0M203.7 309.49H206.0M203.7 313.20H206.0M203.7 316.91H206.0M203.7 320.62H206.0M203.7 324.34H206.0M203.7 328.05H206.0M203.7 331.76H206.0M203.7 335.47H206.0M203.7 339.18H206.0M203.7 342.90H206.0M203.7 346.61H206.0M203.7 350.32H206.0M203.7 354.03H206.0M203.7 357.75H206.0M203.7 361.46H206.0M203.7 365.17H206.0M203.7 368.88H206.0M203.7 372.59H206.0M203.7 376.31H206.0M203.7 380.02H206.0M203.7 383.73H206.0M203.7 387.44H206.0" stroke="#222" stroke-width="1.2"/>
<text transform="translate(201.4 392.60) scale(0.25)" font-size="16.4" text-anchor="end" fill="#222">BCL11B</text>
<text transform="translate(201.4 396.31) scale(0.25)" font-size="16.4" text-anchor="end" fill="#222">C1orf106</text>
<text transform="translate(201.4 400.02) scale(0.25)" font-size="16.4" text-anchor="end" fill="#222">TERT</text>
<text transform="translate(201.4 403.73) scale(0.25)" font-size="16.4" text-anchor="end" fill="#222">NECAB2</text>
<text transform="translate(201.4 407.44) scale(0.25)" font-size="16.4" text-anchor="end" fill="#222">PLEKHS1</text>
<text transform="translate(201.4 411.14) scale(0.25)" font-size="16.4" text-anchor="end" fill="#222">PODXL2</text>
<text transform="translate(201.4 414.85) scale(0.25)" font-size="16.4" text-anchor="end" fill="#222">CST</text>
<text transform="translate(201.4 418.56) scale(0.25)" font-size="16.4" text-anchor="end" fill="#222">DAB</text>
<text transform="translate(201.4 422.27) scale(0.25)" font-size="16.4" text-anchor="end" fill="#222">CCDC170</text>
<text transform="translate(201.4 425.98) scale(0.25)" font-size="16.4" text-anchor="end" fill="#222">PRKX1</text>
<text transform="translate(201.4 429.69) scale(0.25)" font-size="16.4" text-anchor="end" fill="#222">RPL1</text>
<text transform="translate(201.4 433.39) scale(0.25)" font-size="16.4" text-anchor="end" fill="#222">RP11-209C2</text>
<text transform="translate(201.4 437.10) scale(0.25)" font-size="16.4" text-anchor="end" fill="#222">LZTS2</text>
<text transform="translate(201.4 440.81) scale(0.25)" font-size="16.4" text-anchor="end" fill="#222">CGNL1</text>
<text transform="translate(201.4 444.52) scale(0.25)" font-size="16.4" text-anchor="end" fill="#222">FOXO3</text>
<text transform="translate(201.4 448.23) scale(0.25)" font-size="16.4" text-anchor="end" fill="#222">NAT8</text>
<text transform="translate(201.4 451.93) scale(0.25)" font-size="16.4" text-anchor="end" fill="#222">RHOBTB</text>
<text transform="translate(201.4 455.64) scale(0.25)" font-size="16.4" text-anchor="end" fill="#222">CENPK</text>
<text transform="translate(201.4 459.35) scale(0.25)" font-size="16.4" text-anchor="end" fill="#222">MLPH</text>
<text transform="translate(201.4 463.06) scale(0.25)" font-size="16.4" text-anchor="end" fill="#222">KIAA0</text>
<text transform="translate(201.4 466.77) scale(0.25)" font-size="16.4" text-anchor="end" fill="#222">ADAD8</text>
<text transform="translate(201.4 470.48) scale(0.25)" font-size="16.4" text-anchor="end" fill="#222">CLSTN3</text>
<text transform="translate(201.4 474.18) scale(0.25)" font-size="16.4" text-anchor="end" fill="#222">AXIN2</text>
<text transform="translate(201.4 477.89) scale(0.25)" font-size="16.4" text-anchor="end" fill="#222">CENPN</text>
<text transform="translate(201.4 481.60) scale(0.25)" font-size="16.4" text-anchor="end" fill="#222">ADAMTS19</text>
<text transform="translate(201.4 485.31) scale(0.25)" font-size="16.4" text-anchor="end" fill="#222">CCND1</text>
<text transform="translate(201.4 489.02) scale(0.25)" font-size="16.4" text-anchor="end" fill="#222">PLEK2</text>
<text transform="translate(201.4 492.72) scale(0.25)" font-size="16.4" text-anchor="end" fill="#222">BTG1</text>
<text transform="translate(201.4 496.43) scale(0.25)" font-size="16.4" text-anchor="end" fill="#222">RIN1</text>
<text transform="translate(201.4 500.14) scale(0.25)" font-size="16.4" text-anchor="end" fill="#222">B3GALT5</text>
<text transform="translate(201.4 503.85) scale(0.25)" font-size="16.4" text-anchor="end" fill="#222">ATAD2</text>
<text transform="translate(201.4 507.56) scale(0.25)" font-size="16.4" text-anchor="end" fill="#222">KIF22</text>
<text transform="translate(201.4 511.27) scale(0.25)" font-size="16.4" text-anchor="end" fill="#222">CKAP2</text>
<text transform="translate(201.4 514.97) scale(0.25)" font-size="16.4" text-anchor="end" fill="#222">ZNF215</text>
<text transform="translate(201.4 518.68) scale(0.25)" font-size="16.4" text-anchor="end" fill="#222">RASGRF2</text>
<text transform="translate(201.4 522.39) scale(0.25)" font-size="16.4" text-anchor="end" fill="#222">CCDC15</text>
<text transform="translate(201.4 526.10) scale(0.25)" font-size="16.4" text-anchor="end" fill="#222">MCM7</text>
<text transform="translate(201.4 529.81) scale(0.25)" font-size="16.4" text-anchor="end" fill="#222">PRKCH</text>
<text transform="translate(201.4 533.51) scale(0.25)" font-size="16.4" text-anchor="end" fill="#222">PSRC1</text>
<text transform="translate(201.4 537.22) scale(0.25)" font-size="16.4" text-anchor="end" fill="#222">CDKN3</text>
<text transform="translate(201.4 540.93) scale(0.25)" font-size="16.4" text-anchor="end" fill="#222">ESRP2</text>
<text transform="translate(201.4 544.64) scale(0.25)" font-size="16.4" text-anchor="end" fill="#222">CENPW</text>
<text transform="translate(201.4 548.35) scale(0.25)" font-size="16.4" text-anchor="end" fill="#222">RP11-105G</text>
<text transform="translate(201.4 552.06) scale(0.25)" font-size="16.4" text-anchor="end" fill="#222">RNF125</text>
<text transform="translate(201.4 555.76) scale(0.25)" font-size="16.4" text-anchor="end" fill="#222">DDX14</text>
<text transform="translate(201.4 559.47) scale(0.25)" font-size="16.4" text-anchor="end" fill="#222">SCARB1</text>
<text transform="translate(201.4 563.18) scale(0.25)" font-size="16.4" text-anchor="end" fill="#222">CENPF</text>
<text transform="translate(201.4 566.89) scale(0.25)" font-size="16.4" text-anchor="end" fill="#222">SDK2</text>
<text transform="translate(201.4 570.60) scale(0.25)" font-size="16.4" text-anchor="end" fill="#222">C16orf59</text>
<path d="M203.7 391.15H206.0M203.7 394.86H206.0M203.7 398.57H206.0M203.7 402.28H206.0M203.7 405.99H206.0M203.7 409.69H206.0M203.7 413.40H206.0M203.7 417.11H206.0M203.7 420.82H206.0M203.7 424.53H206.0M203.7 428.24H206.0M203.7 431.94H206.0M203.7 435.65H206.0M203.7 439.36H206.0M203.7 443.07H206.0M203.7 446.78H206.0M203.7 450.48H206.0M203.7 454.19H206.0M203.7 457.90H206.0M203.7 461.61H206.0M203.7 465.32H206.0M203.7 469.03H206.0M203.7 472.73H206.0M203.7 476.44H206.0M203.7 480.15H206.0M203.7 483.86H206.0M203.7 487.57H206.0M203.7 491.27H206.0M203.7 494.98H206.0M203.7 498.69H206.0M203.7 502.40H206.0M203.7 506.11H206.0M203.7 509.82H206.0M203.7 513.52H206.0M203.7 517.23H206.0M203.7 520.94H206.0M203.7 524.65H206.0M203.7 528.36H206.0M203.7 532.06H206.0M203.7 535.77H206.0M203.7 539.48H206.0M203.7 543.19H206.0M203.7 546.90H206.0M203.7 550.61H206.0M203.7 554.31H206.0M203.7 558.02H206.0M203.7 561.73H206.0M203.7 565.44H206.0M203.7 569.15H206.0" stroke="#222" stroke-width="1.2"/>
<text transform="translate(211.63 574.8) rotate(-90)" font-size="4.4" text-anchor="end" fill="#333">POT 1</text>
<text transform="translate(218.89 574.8) rotate(-90)" font-size="4.4" text-anchor="end" fill="#333">POT 2</text>
<text transform="translate(226.15 574.8) rotate(-90)" font-size="4.4" text-anchor="end" fill="#333">POT 3</text>
<text transform="translate(233.42 574.8) rotate(-90)" font-size="4.4" text-anchor="end" fill="#333">UT 30.1</text>
<text transform="translate(240.68 574.8) rotate(-90)" font-size="4.4" text-anchor="end" fill="#333">UT 30.2</text>
<text transform="translate(247.94 574.8) rotate(-90)" font-size="4.4" text-anchor="end" fill="#333">UT 120.1</text>
<text transform="translate(255.20 574.8) rotate(-90)" font-size="4.4" text-anchor="end" fill="#333">UT 120.2</text>
<text transform="translate(262.46 574.8) rotate(-90)" font-size="4.4" text-anchor="end" fill="#333">UT 170.1</text>
<text transform="translate(269.73 574.8) rotate(-90)" font-size="4.4" text-anchor="end" fill="#333">UT 170.2</text>
<text transform="translate(276.99 574.8) rotate(-90)" font-size="4.4" text-anchor="end" fill="#333">T 30.1</text>
<text transform="translate(284.25 574.8) rotate(-90)" font-size="4.4" text-anchor="end" fill="#333">T 30.2</text>
<text transform="translate(291.51 574.8) rotate(-90)" font-size="4.4" text-anchor="end" fill="#333">T 60.1</text>
<text transform="translate(298.77 574.8) rotate(-90)" font-size="4.4" text-anchor="end" fill="#333">T 60.2</text>
<text transform="translate(306.04 574.8) rotate(-90)" font-size="4.4" text-anchor="end" fill="#333">AI 30.1</text>
<text transform="translate(313.30 574.8) rotate(-90)" font-size="4.4" text-anchor="end" fill="#333">AI 30.2</text>
<text transform="translate(320.56 574.8) rotate(-90)" font-size="4.4" text-anchor="end" fill="#333">AI 60.1</text>
<text transform="translate(327.82 574.8) rotate(-90)" font-size="4.4" text-anchor="end" fill="#333">AI 60.2</text>
<text transform="translate(335.08 574.8) rotate(-90)" font-size="4.4" text-anchor="end" fill="#333">AI 90.1</text>
<text transform="translate(342.35 574.8) rotate(-90)" font-size="4.4" text-anchor="end" fill="#333">AI 90.2</text>
<text transform="translate(349.61 574.8) rotate(-90)" font-size="4.4" text-anchor="end" fill="#333">Tα</text>
<text transform="translate(356.87 574.8) rotate(-90)" font-size="4.4" text-anchor="end" fill="#333">Tβ</text>
<text transform="translate(364.13 574.8) rotate(-90)" font-size="4.4" text-anchor="end" fill="#333">Tγ</text>
<text transform="translate(371.39 574.8) rotate(-90)" font-size="4.4" text-anchor="end" fill="#333">Tδ</text>
<text transform="translate(378.65 574.8) rotate(-90)" font-size="4.4" text-anchor="end" fill="#333">Tε</text>
<text transform="translate(385.92 574.8) rotate(-90)" font-size="4.4" text-anchor="end" fill="#333">Tζ</text>
<text transform="translate(393.18 574.8) rotate(-90)" font-size="4.4" text-anchor="end" fill="#333">Tη</text>
<text transform="translate(400.44 574.8) rotate(-90)" font-size="4.4" text-anchor="end" fill="#333">Tθ</text>
<text transform="translate(407.70 574.8) rotate(-90)" font-size="4.4" text-anchor="end" fill="#333">Aα</text>
<text transform="translate(414.96 574.8) rotate(-90)" font-size="4.4" text-anchor="end" fill="#333">Aβ</text>
<text transform="translate(422.23 574.8) rotate(-90)" font-size="4.4" text-anchor="end" fill="#333">Aγ</text>
<text transform="translate(429.49 574.8) rotate(-90)" font-size="4.4" text-anchor="end" fill="#333">Aδ</text>
<text transform="translate(436.75 574.8) rotate(-90)" font-size="4.4" text-anchor="end" fill="#333">Aε</text>
<text transform="translate(444.01 574.8) rotate(-90)" font-size="4.4" text-anchor="end" fill="#333">Tα TEP</text>
<text transform="translate(451.27 574.8) rotate(-90)" font-size="4.4" text-anchor="end" fill="#333">Tβ TEP</text>
<text transform="translate(458.54 574.8) rotate(-90)" font-size="4.4" text-anchor="end" fill="#333">Tγ TEP</text>
<text transform="translate(465.80 574.8) rotate(-90)" font-size="4.4" text-anchor="end" fill="#333">Tδ TEP</text>
<text transform="translate(473.06 574.8) rotate(-90)" font-size="4.4" text-anchor="end" fill="#333">Tε TEP</text>
<text transform="translate(480.32 574.8) rotate(-90)" font-size="4.4" text-anchor="end" fill="#333">Tζ TEP</text>
<text transform="translate(487.58 574.8) rotate(-90)" font-size="4.4" text-anchor="end" fill="#333">Aα TEP</text>
<text transform="translate(494.85 574.8) rotate(-90)" font-size="4.4" text-anchor="end" fill="#333">Aβ TEP</text>
<text transform="translate(502.11 574.8) rotate(-90)" font-size="4.4" text-anchor="end" fill="#333">Aγ TEP</text>
<text transform="translate(509.37 574.8) rotate(-90)" font-size="4.4" text-anchor="end" fill="#333">Aδ TEP</text>
<path d="M209.63 571.0V573.0M216.89 571.0V573.0M224.15 571.0V573.0M231.42 571.0V573.0M238.68 571.0V573.0M245.94 571.0V573.0M253.20 571.0V573.0M260.46 571.0V573.0M267.73 571.0V573.0M274.99 571.0V573.0M282.25 571.0V573.0M289.51 571.0V573.0M296.77 571.0V573.0M304.04 571.0V573.0M311.30 571.0V573.0M318.56 571.0V573.0M325.82 571.0V573.0M333.08 571.0V573.0M340.35 571.0V573.0M347.61 571.0V573.0M354.87 571.0V573.0M362.13 571.0V573.0M369.39 571.0V573.0M376.65 571.0V573.0M383.92 571.0V573.0M391.18 571.0V573.0M398.44 571.0V573.0M405.70 571.0V573.0M412.96 571.0V573.0M420.23 571.0V573.0M427.49 571.0V573.0M434.75 571.0V573.0M442.01 571.0V573.0M449.27 571.0V573.0M456.54 571.0V573.0M463.80 571.0V573.0M471.06 571.0V573.0M478.32 571.0V573.0M485.58 571.0V573.0M492.85 571.0V573.0M500.11 571.0V573.0M507.37 571.0V573.0" stroke="#555" stroke-width="0.6"/>
<text transform="translate(514.2 296) rotate(90)" font-size="5" text-anchor="middle" fill="#333">Dormancy up</text>
<text transform="translate(514.2 476) rotate(90)" font-size="5" text-anchor="middle" fill="#333">Dormancy down</text>
<defs><linearGradient id="zg" x1="0" x2="1" y1="0" y2="0"><stop offset="0" stop-color="#e8e828"/><stop offset="0.3" stop-color="#f6f6a8"/><stop offset="0.46" stop-color="#fff"/><stop offset="0.54" stop-color="#fff"/><stop offset="0.7" stop-color="#c9b8e0"/><stop offset="1" stop-color="#552a8c"/></linearGradient></defs>
<rect x="339.6" y="597" width="41.6" height="8.8" fill="url(#zg)"/>
<text x="330.00" y="603.40" font-size="5.2" text-anchor="middle" fill="#333">Z score</text>
<text x="348.00" y="611.40" font-size="5" text-anchor="middle" fill="#333">−2</text>
<text x="360.40" y="611.40" font-size="5" text-anchor="middle" fill="#333">0</text>
<text x="372.00" y="611.40" font-size="5" text-anchor="middle" fill="#333">2</text>
<text x="1.50" y="378.30" font-size="10" text-anchor="start" fill="#111" font-weight="bold">D</text>
<text x="100.75" y="377.30" font-size="4.6" text-anchor="middle" fill="#222">GSEA dormancy signature</text>
<path d="M50.00 382.5V470.6" stroke="#e6e6e6" stroke-width="0.7"/>
<path d="M61.25 382.5V470.6" stroke="#f2f2f2" stroke-width="0.5"/>
<path d="M72.50 382.5V470.6" stroke="#e6e6e6" stroke-width="0.7"/>
<path d="M83.75 382.5V470.6" stroke="#f2f2f2" stroke-width="0.5"/>
<path d="M95.00 382.5V470.6" stroke="#e6e6e6" stroke-width="0.7"/>
<path d="M106.25 382.5V470.6" stroke="#f2f2f2" stroke-width="0.5"/>
<path d="M117.50 382.5V470.6" stroke="#e6e6e6" stroke-width="0.7"/>
<path d="M128.75 382.5V470.6" stroke="#f2f2f2" stroke-width="0.5"/>
<path d="M140.00 382.5V470.6" stroke="#e6e6e6" stroke-width="0.7"/>
<path d="M151.25 382.5V470.6" stroke="#f2f2f2" stroke-width="0.5"/>
<path d="M42.0 387.60H158.6" stroke="#e6e6e6" stroke-width="0.7"/>
<path d="M42.0 397.33H158.6" stroke="#e6e6e6" stroke-width="0.7"/>
<path d="M42.0 407.06H158.6" stroke="#e6e6e6" stroke-width="0.7"/>
<path d="M42.0 416.79H158.6" stroke="#e6e6e6" stroke-width="0.7"/>
<path d="M42.0 426.52H158.6" stroke="#e6e6e6" stroke-width="0.7"/>
<path d="M42.0 436.25H158.6" stroke="#e6e6e6" stroke-width="0.7"/>
<path d="M42.0 445.98H158.6" stroke="#e6e6e6" stroke-width="0.7"/>
<path d="M42.0 455.71H158.6" stroke="#e6e6e6" stroke-width="0.7"/>
<path d="M42.0 465.44H158.6" stroke="#e6e6e6" stroke-width="0.7"/>
<rect x="42.0" y="382.5" width="116.6" height="88.1" fill="none" stroke="#444" stroke-width="0.9"/>
<path d="M50.00 475.1V572.7" stroke="#e6e6e6" stroke-width="0.7"/>
<path d="M61.25 475.1V572.7" stroke="#f2f2f2" stroke-width="0.5"/>
<path d="M72.50 475.1V572.7" stroke="#e6e6e6" stroke-width="0.7"/>
<path d="M83.75 475.1V572.7" stroke="#f2f2f2" stroke-width="0.5"/>
<path d="M95.00 475.1V572.7" stroke="#e6e6e6" stroke-width="0.7"/>
<path d="M106.25 475.1V572.7" stroke="#f2f2f2" stroke-width="0.5"/>
<path d="M117.50 475.1V572.7" stroke="#e6e6e6" stroke-width="0.7"/>
<path d="M128.75 475.1V572.7" stroke="#f2f2f2" stroke-width="0.5"/>
<path d="M140.00 475.1V572.7" stroke="#e6e6e6" stroke-width="0.7"/>
<path d="M151.25 475.1V572.7" stroke="#f2f2f2" stroke-width="0.5"/>
<path d="M42.0 480.40H158.6" stroke="#e6e6e6" stroke-width="0.7"/>
<path d="M42.0 490.08H158.6" stroke="#e6e6e6" stroke-width="0.7"/>
<path d="M42.0 499.76H158.6" stroke="#e6e6e6" stroke-width="0.7"/>
<path d="M42.0 509.44H158.6" stroke="#e6e6e6" stroke-width="0.7"/>
<path d="M42.0 519.12H158.6" stroke="#e6e6e6" stroke-width="0.7"/>
<path d="M42.0 528.80H158.6" stroke="#e6e6e6" stroke-width="0.7"/>
<path d="M42.0 538.48H158.6" stroke="#e6e6e6" stroke-width="0.7"/>
<path d="M42.0 548.16H158.6" stroke="#e6e6e6" stroke-width="0.7"/>
<path d="M42.0 557.84H158.6" stroke="#e6e6e6" stroke-width="0.7"/>
<path d="M42.0 567.52H158.6" stroke="#e6e6e6" stroke-width="0.7"/>
<rect x="42.0" y="475.1" width="116.6" height="97.6" fill="none" stroke="#444" stroke-width="0.9"/>
<path d="M39.6 387.60H42.0" stroke="#222" stroke-width="1.1"/>
<text x="38.40" y="386.80" font-size="4.6" text-anchor="end" fill="#222">Cholesterol</text>
<text x="38.40" y="391.90" font-size="4.6" text-anchor="end" fill="#222">homeostasis</text>
<path d="M39.6 397.33H42.0" stroke="#222" stroke-width="1.1"/>
<text x="38.40" y="398.98" font-size="4.6" text-anchor="end" fill="#222">Hypoxia</text>
<path d="M39.6 407.06H42.0" stroke="#222" stroke-width="1.1"/>
<text x="38.40" y="406.26" font-size="4.6" text-anchor="end" fill="#222">TNFA signaling</text>
<text x="38.40" y="411.36" font-size="4.6" text-anchor="end" fill="#222">via NFKB</text>
<path d="M39.6 416.79H42.0" stroke="#222" stroke-width="1.1"/>
<text x="38.40" y="418.44" font-size="4.6" text-anchor="end" fill="#222">Myogenesis</text>
<path d="M39.6 426.52H42.0" stroke="#222" stroke-width="1.1"/>
<text x="38.40" y="428.17" font-size="4.6" text-anchor="end" fill="#222">Apoptosis</text>
<path d="M39.6 436.25H42.0" stroke="#222" stroke-width="1.1"/>
<text x="38.40" y="437.90" font-size="4.6" text-anchor="end" fill="#222">KRAS signaling up</text>
<path d="M39.6 445.98H42.0" stroke="#222" stroke-width="1.1"/>
<text x="38.40" y="447.63" font-size="4.6" text-anchor="end" fill="#222">Apical junction</text>
<path d="M39.6 455.71H42.0" stroke="#222" stroke-width="1.1"/>
<text x="38.40" y="454.91" font-size="4.6" text-anchor="end" fill="#222">Interferon gamma</text>
<text x="38.40" y="460.01" font-size="4.6" text-anchor="end" fill="#222">response</text>
<path d="M39.6 465.44H42.0" stroke="#222" stroke-width="1.1"/>
<text x="38.40" y="467.09" font-size="4.6" text-anchor="end" fill="#222">Pre-adapted up</text>
<path d="M39.6 480.40H42.0" stroke="#222" stroke-width="1.1"/>
<text x="38.40" y="482.05" font-size="4.6" text-anchor="end" fill="#222">Pre-adapted down</text>
<path d="M39.6 490.08H42.0" stroke="#222" stroke-width="1.1"/>
<text x="38.40" y="491.73" font-size="4.6" text-anchor="end" fill="#222">E2F targets</text>
<path d="M39.6 499.76H42.0" stroke="#222" stroke-width="1.1"/>
<text x="38.40" y="501.41" font-size="4.6" text-anchor="end" fill="#222">G2M checkpoint</text>
<path d="M39.6 509.44H42.0" stroke="#222" stroke-width="1.1"/>
<text x="38.40" y="508.64" font-size="4.6" text-anchor="end" fill="#222">Estrogen</text>
<text x="38.40" y="513.74" font-size="4.6" text-anchor="end" fill="#222">response late</text>
<path d="M39.6 519.12H42.0" stroke="#222" stroke-width="1.1"/>
<text x="38.40" y="520.77" font-size="4.6" text-anchor="end" fill="#222">MYC targets (V2)</text>
<path d="M39.6 528.80H42.0" stroke="#222" stroke-width="1.1"/>
<text x="38.40" y="528.00" font-size="4.6" text-anchor="end" fill="#222">Estrogen</text>
<text x="38.40" y="533.10" font-size="4.6" text-anchor="end" fill="#222">response early</text>
<path d="M39.6 538.48H42.0" stroke="#222" stroke-width="1.1"/>
<text x="38.40" y="540.13" font-size="4.6" text-anchor="end" fill="#222">Mitotic spindle</text>
<path d="M39.6 548.16H42.0" stroke="#222" stroke-width="1.1"/>
<text x="38.40" y="549.81" font-size="4.6" text-anchor="end" fill="#222">MYC targets (V1)</text>
<path d="M39.6 557.84H42.0" stroke="#222" stroke-width="1.1"/>
<text x="38.40" y="559.49" font-size="4.6" text-anchor="end" fill="#222">DNA repair</text>
<path d="M39.6 567.52H42.0" stroke="#222" stroke-width="1.1"/>
<text x="38.40" y="569.17" font-size="4.6" text-anchor="end" fill="#222">MTORC1 signaling</text>
<circle cx="153.3" cy="387.60" r="3.0" fill="#2b1f4a" stroke="#111" stroke-width="0.6"/>
<circle cx="147" cy="397.33" r="1.6" fill="#111" stroke="#111" stroke-width="0.6"/>
<circle cx="147" cy="407.06" r="1.6" fill="#111" stroke="#111" stroke-width="0.6"/>
<circle cx="127" cy="416.79" r="2.1" fill="#1a1a2a" stroke="#111" stroke-width="0.6"/>
<circle cx="127" cy="426.52" r="2.1" fill="#1a1a2a" stroke="#111" stroke-width="0.6"/>
<circle cx="113.8" cy="436.25" r="2.1" fill="#1a1a2a" stroke="#111" stroke-width="0.6"/>
<circle cx="105" cy="445.98" r="2.2" fill="#1a1a2a" stroke="#111" stroke-width="0.6"/>
<circle cx="105" cy="455.71" r="2.2" fill="#1a1a2a" stroke="#111" stroke-width="0.6"/>
<circle cx="95" cy="465.44" r="2.6" fill="#3b2068" stroke="#111" stroke-width="0.6"/>
<circle cx="95" cy="480.40" r="2.6" fill="#f2ea1a" stroke="#222" stroke-width="0.9"/>
<circle cx="95" cy="490.08" r="3.7" fill="#f2ea1a" stroke="#222" stroke-width="0.9"/>
<circle cx="95" cy="499.76" r="3.2" fill="#f2ea1a" stroke="#222" stroke-width="0.9"/>
<circle cx="95" cy="509.44" r="2.6" fill="#f2ea1a" stroke="#222" stroke-width="0.9"/>
<circle cx="95" cy="519.12" r="3.2" fill="#f2ea1a" stroke="#222" stroke-width="0.9"/>
<circle cx="95" cy="528.80" r="2.4" fill="#f2ea1a" stroke="#222" stroke-width="0.9"/>
<circle cx="91.8" cy="538.48" r="2.1" fill="#f2ea1a" stroke="#222" stroke-width="0.9"/>
<circle cx="88" cy="548.16" r="2.1" fill="#f2ea1a" stroke="#222" stroke-width="0.9"/>
<circle cx="58.3" cy="557.84" r="2.1" fill="#f2ea1a" stroke="#222" stroke-width="0.9"/>
<circle cx="47.5" cy="567.52" r="2.1" fill="#f2ea1a" stroke="#222" stroke-width="0.9"/>
<path d="M48.0 572.7V575" stroke="#333" stroke-width="0.8"/>
<text x="48.00" y="580.20" font-size="4.7" text-anchor="middle" fill="#222">0.02</text>
<path d="M72.3 572.7V575" stroke="#333" stroke-width="0.8"/>
<text x="72.30" y="580.20" font-size="4.7" text-anchor="middle" fill="#222">0.01</text>
<path d="M94.8 572.7V575" stroke="#333" stroke-width="0.8"/>
<text x="94.80" y="580.20" font-size="4.7" text-anchor="middle" fill="#222">0</text>
<path d="M117.1 572.7V575" stroke="#333" stroke-width="0.8"/>
<text x="117.10" y="580.20" font-size="4.7" text-anchor="middle" fill="#222">0.01</text>
<path d="M139.4 572.7V575" stroke="#333" stroke-width="0.8"/>
<text x="139.40" y="580.20" font-size="4.7" text-anchor="middle" fill="#222">0.02</text>
<text x="95.00" y="586.70" font-size="4.5" text-anchor="middle" fill="#222">Adjusted P-value</text>
<text transform="translate(163.3 427) rotate(90)" font-size="4.6" text-anchor="middle" fill="#333">Dormancy up</text>
<text transform="translate(163.7 524.4) rotate(90)" font-size="4.6" text-anchor="middle" fill="#333">Dormancy down</text>
<text x="0.90" y="602.70" font-size="4.4" text-anchor="start" fill="#222">Signature</text>
<circle cx="30.3" cy="596" r="2.6" fill="#2b1f4a" stroke="#111" stroke-width="0.6"/>
<circle cx="30.3" cy="606" r="2.4" fill="#f2ea1a" stroke="#222" stroke-width="0.9"/>
<text x="34.60" y="597.70" font-size="4.6" text-anchor="start" fill="#222">Dormancy up</text>
<text x="34.60" y="607.70" font-size="4.6" text-anchor="start" fill="#222">Dormancy down</text>
<text x="77.30" y="602.80" font-size="4.7" text-anchor="start" fill="#222">Overlap ratio</text>
<circle cx="113.3" cy="594.6" r="1.4" fill="#222"/>
<text x="120.80" y="596.30" font-size="4.6" text-anchor="start" fill="#222">0.1</text>
<circle cx="143.7" cy="594.6" r="2.9" fill="#fff" stroke="#222" stroke-width="0.8"/>
<text x="151.20" y="596.30" font-size="4.6" text-anchor="start" fill="#222">0.2</text>
<circle cx="113.3" cy="606.2" r="3.8" fill="#fff" stroke="#222" stroke-width="0.8"/>
<text x="120.80" y="607.90" font-size="4.6" text-anchor="start" fill="#222">0.3</text>
<circle cx="143.7" cy="606.2" r="4.4" fill="#fff" stroke="#222" stroke-width="0.8"/>
<text x="151.20" y="607.90" font-size="4.6" text-anchor="start" fill="#222">0.4</text>
</svg>
</body></html>
